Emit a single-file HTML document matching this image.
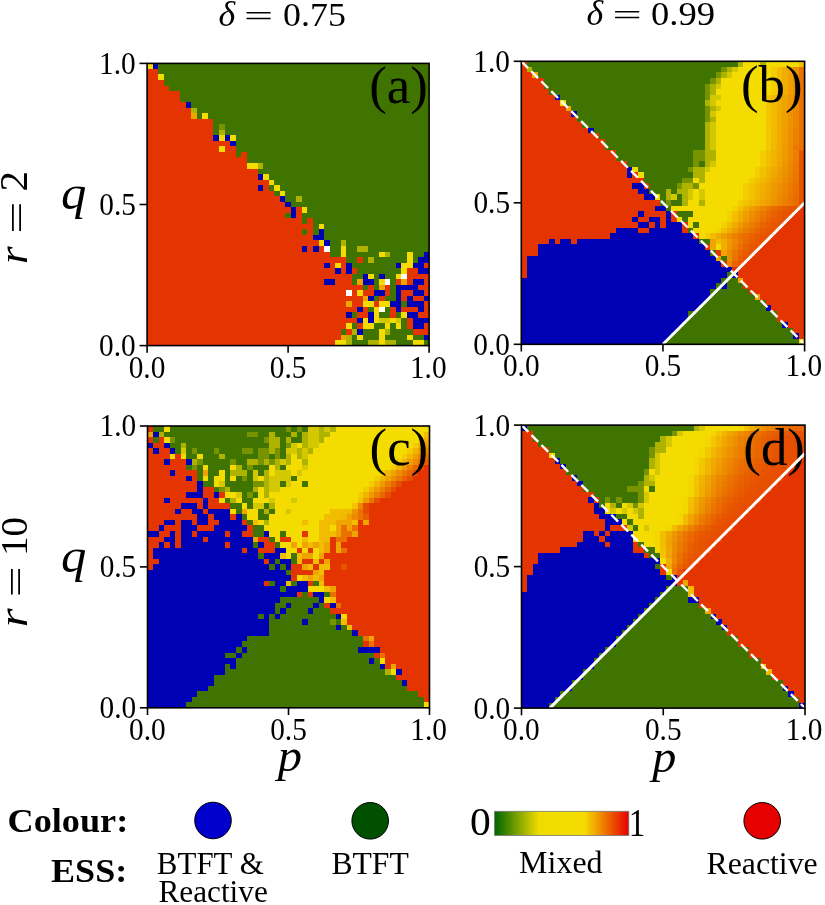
<!DOCTYPE html>
<html><head><meta charset="utf-8"><title>ESS phase diagrams</title>
<style>
html,body{margin:0;padding:0;background:#fff}
svg{display:block}
text{font-family:"Liberation Serif","DejaVu Serif",serif;fill:#000}
</style></head><body>
<svg width="825" height="905" viewBox="0 0 825 905">
<rect width="825" height="905" fill="#fff"/>
<g transform="translate(147.1,63.4)" shape-rendering="crispEdges">
<rect x="0.0" y="0.0" width="5.83" height="5.83" fill="#f5dc00"/>
<rect x="5.53" y="0.0" width="5.83" height="5.83" fill="#0000b4"/>
<rect x="11.06" y="0.0" width="271.24" height="5.83" fill="#407400"/>
<rect x="0.0" y="5.53" width="11.36" height="5.84" fill="#e43400"/>
<rect x="11.06" y="5.53" width="271.24" height="5.84" fill="#407400"/>
<rect x="0.0" y="11.07" width="11.36" height="5.83" fill="#e43400"/>
<rect x="11.06" y="11.07" width="5.83" height="5.83" fill="#f5dc00"/>
<rect x="16.59" y="11.07" width="265.71" height="5.83" fill="#407400"/>
<rect x="0.0" y="16.6" width="16.89" height="5.83" fill="#e43400"/>
<rect x="16.59" y="16.6" width="265.71" height="5.83" fill="#407400"/>
<rect x="0.0" y="22.13" width="22.42" height="5.84" fill="#e43400"/>
<rect x="22.12" y="22.13" width="260.18" height="5.84" fill="#407400"/>
<rect x="0.0" y="27.67" width="33.48" height="5.83" fill="#e43400"/>
<rect x="33.18" y="27.67" width="249.12" height="5.83" fill="#407400"/>
<rect x="0.0" y="33.2" width="33.48" height="5.83" fill="#e43400"/>
<rect x="33.18" y="33.2" width="249.12" height="5.83" fill="#407400"/>
<rect x="0.0" y="38.73" width="39.01" height="5.84" fill="#e43400"/>
<rect x="38.71" y="38.73" width="5.83" height="5.84" fill="#0000b4"/>
<rect x="44.24" y="38.73" width="238.06" height="5.84" fill="#407400"/>
<rect x="0.0" y="44.27" width="44.54" height="5.83" fill="#e43400"/>
<rect x="44.24" y="44.27" width="5.82" height="5.83" fill="#aeb300"/>
<rect x="49.76" y="44.27" width="232.54" height="5.83" fill="#407400"/>
<rect x="0.0" y="49.8" width="44.54" height="5.83" fill="#e43400"/>
<rect x="44.24" y="49.8" width="5.82" height="5.83" fill="#efa400"/>
<rect x="49.76" y="49.8" width="5.83" height="5.83" fill="#407400"/>
<rect x="55.29" y="49.8" width="5.83" height="5.83" fill="#f5dc00"/>
<rect x="60.82" y="49.8" width="221.48" height="5.83" fill="#407400"/>
<rect x="0.0" y="55.33" width="66.65" height="5.84" fill="#e43400"/>
<rect x="66.35" y="55.33" width="215.95" height="5.84" fill="#407400"/>
<rect x="0.0" y="60.87" width="66.65" height="5.83" fill="#e43400"/>
<rect x="66.35" y="60.87" width="5.83" height="5.83" fill="#407400"/>
<rect x="71.88" y="60.87" width="5.83" height="5.83" fill="#779400"/>
<rect x="77.41" y="60.87" width="204.89" height="5.83" fill="#407400"/>
<rect x="0.0" y="66.4" width="66.65" height="5.83" fill="#e43400"/>
<rect x="66.35" y="66.4" width="5.83" height="5.83" fill="#407400"/>
<rect x="71.88" y="66.4" width="5.83" height="5.83" fill="#aeb300"/>
<rect x="77.41" y="66.4" width="204.89" height="5.83" fill="#407400"/>
<rect x="0.0" y="71.93" width="66.65" height="5.84" fill="#e43400"/>
<rect x="66.35" y="71.93" width="5.83" height="5.84" fill="#0000b4"/>
<rect x="71.88" y="71.93" width="5.83" height="5.84" fill="#f5dc00"/>
<rect x="77.41" y="71.93" width="5.83" height="5.84" fill="#0000b4"/>
<rect x="82.94" y="71.93" width="5.83" height="5.84" fill="#f5dc00"/>
<rect x="88.47" y="71.93" width="193.83" height="5.84" fill="#407400"/>
<rect x="0.0" y="77.47" width="83.24" height="5.83" fill="#e43400"/>
<rect x="82.94" y="77.47" width="5.83" height="5.83" fill="#0000b4"/>
<rect x="88.47" y="77.47" width="193.83" height="5.83" fill="#407400"/>
<rect x="0.0" y="83.0" width="72.18" height="5.83" fill="#e43400"/>
<rect x="71.88" y="83.0" width="5.83" height="5.83" fill="#f5dc00"/>
<rect x="77.41" y="83.0" width="11.36" height="5.83" fill="#e43400"/>
<rect x="88.47" y="83.0" width="193.83" height="5.83" fill="#407400"/>
<rect x="0.0" y="88.53" width="88.77" height="5.84" fill="#e43400"/>
<rect x="88.47" y="88.53" width="5.83" height="5.84" fill="#407400"/>
<rect x="94.0" y="88.53" width="5.83" height="5.84" fill="#e43400"/>
<rect x="99.53" y="88.53" width="182.77" height="5.84" fill="#407400"/>
<rect x="0.0" y="94.07" width="99.83" height="5.83" fill="#e43400"/>
<rect x="99.53" y="94.07" width="182.77" height="5.83" fill="#407400"/>
<rect x="0.0" y="99.6" width="99.83" height="5.83" fill="#e43400"/>
<rect x="99.53" y="99.6" width="11.36" height="5.83" fill="#f5dc00"/>
<rect x="110.59" y="99.6" width="5.83" height="5.83" fill="#aeb300"/>
<rect x="116.12" y="99.6" width="166.18" height="5.83" fill="#407400"/>
<rect x="0.0" y="105.13" width="110.89" height="5.84" fill="#e43400"/>
<rect x="110.59" y="105.13" width="171.71" height="5.84" fill="#407400"/>
<rect x="0.0" y="110.67" width="110.89" height="5.83" fill="#e43400"/>
<rect x="110.59" y="110.67" width="5.83" height="5.83" fill="#0000b4"/>
<rect x="116.12" y="110.67" width="5.83" height="5.83" fill="#f5dc00"/>
<rect x="121.65" y="110.67" width="160.65" height="5.83" fill="#407400"/>
<rect x="0.0" y="116.2" width="121.95" height="5.83" fill="#e43400"/>
<rect x="121.65" y="116.2" width="5.83" height="5.83" fill="#f5dc00"/>
<rect x="127.18" y="116.2" width="155.12" height="5.83" fill="#407400"/>
<rect x="0.0" y="121.73" width="110.89" height="5.84" fill="#e43400"/>
<rect x="110.59" y="121.73" width="5.83" height="5.84" fill="#0000b4"/>
<rect x="116.12" y="121.73" width="5.83" height="5.84" fill="#e43400"/>
<rect x="121.65" y="121.73" width="5.83" height="5.84" fill="#407400"/>
<rect x="127.18" y="121.73" width="5.83" height="5.84" fill="#f5dc00"/>
<rect x="132.71" y="121.73" width="149.59" height="5.84" fill="#407400"/>
<rect x="0.0" y="127.27" width="127.48" height="5.83" fill="#e43400"/>
<rect x="127.18" y="127.27" width="5.83" height="5.83" fill="#407400"/>
<rect x="132.71" y="127.27" width="5.83" height="5.83" fill="#f5dc00"/>
<rect x="138.24" y="127.27" width="144.06" height="5.83" fill="#407400"/>
<rect x="0.0" y="132.8" width="133.01" height="5.83" fill="#e43400"/>
<rect x="132.71" y="132.8" width="5.83" height="5.83" fill="#0000b4"/>
<rect x="138.24" y="132.8" width="11.35" height="5.83" fill="#407400"/>
<rect x="149.29" y="132.8" width="5.83" height="5.83" fill="#aeb300"/>
<rect x="154.82" y="132.8" width="127.48" height="5.83" fill="#407400"/>
<rect x="0.0" y="138.33" width="138.54" height="5.84" fill="#e43400"/>
<rect x="138.24" y="138.33" width="5.82" height="5.84" fill="#0000b4"/>
<rect x="143.76" y="138.33" width="138.54" height="5.84" fill="#407400"/>
<rect x="0.0" y="143.87" width="144.06" height="5.83" fill="#e43400"/>
<rect x="143.76" y="143.87" width="5.83" height="5.83" fill="#0000b4"/>
<rect x="149.29" y="143.87" width="5.83" height="5.83" fill="#e43400"/>
<rect x="154.82" y="143.87" width="5.83" height="5.83" fill="#f5dc00"/>
<rect x="160.35" y="143.87" width="121.95" height="5.83" fill="#407400"/>
<rect x="0.0" y="149.4" width="138.54" height="5.83" fill="#e43400"/>
<rect x="138.24" y="149.4" width="5.82" height="5.83" fill="#407400"/>
<rect x="143.76" y="149.4" width="5.83" height="5.83" fill="#0000b4"/>
<rect x="149.29" y="149.4" width="5.83" height="5.83" fill="#e43400"/>
<rect x="154.82" y="149.4" width="127.48" height="5.83" fill="#407400"/>
<rect x="0.0" y="154.93" width="155.12" height="5.84" fill="#e43400"/>
<rect x="154.82" y="154.93" width="5.83" height="5.84" fill="#407400"/>
<rect x="160.35" y="154.93" width="5.83" height="5.84" fill="#e43400"/>
<rect x="165.88" y="154.93" width="116.42" height="5.84" fill="#407400"/>
<rect x="0.0" y="160.47" width="166.18" height="5.83" fill="#e43400"/>
<rect x="165.88" y="160.47" width="5.83" height="5.83" fill="#407400"/>
<rect x="171.41" y="160.47" width="5.83" height="5.83" fill="#f5dc00"/>
<rect x="176.94" y="160.47" width="105.36" height="5.83" fill="#407400"/>
<rect x="0.0" y="166.0" width="155.12" height="5.83" fill="#e43400"/>
<rect x="154.82" y="166.0" width="5.83" height="5.83" fill="#407400"/>
<rect x="160.35" y="166.0" width="5.83" height="5.83" fill="#e43400"/>
<rect x="165.88" y="166.0" width="5.83" height="5.83" fill="#407400"/>
<rect x="171.41" y="166.0" width="5.83" height="5.83" fill="#0000b4"/>
<rect x="176.94" y="166.0" width="105.36" height="5.83" fill="#407400"/>
<rect x="0.0" y="171.53" width="166.18" height="5.84" fill="#e43400"/>
<rect x="165.88" y="171.53" width="11.36" height="5.84" fill="#0000b4"/>
<rect x="176.94" y="171.53" width="105.36" height="5.84" fill="#407400"/>
<rect x="0.0" y="177.07" width="171.71" height="5.83" fill="#e43400"/>
<rect x="171.41" y="177.07" width="5.83" height="5.83" fill="#f5dc00"/>
<rect x="176.94" y="177.07" width="5.83" height="5.83" fill="#0000b4"/>
<rect x="182.47" y="177.07" width="11.36" height="5.83" fill="#407400"/>
<rect x="193.53" y="177.07" width="5.83" height="5.83" fill="#aeb300"/>
<rect x="199.06" y="177.07" width="83.24" height="5.83" fill="#407400"/>
<rect x="0.0" y="182.6" width="155.12" height="5.83" fill="#e43400"/>
<rect x="154.82" y="182.6" width="5.83" height="5.83" fill="#0000b4"/>
<rect x="160.35" y="182.6" width="5.83" height="5.83" fill="#e43400"/>
<rect x="165.88" y="182.6" width="5.83" height="5.83" fill="#0000b4"/>
<rect x="171.41" y="182.6" width="5.83" height="5.83" fill="#e43400"/>
<rect x="176.94" y="182.6" width="5.83" height="5.83" fill="#ffffff"/>
<rect x="182.47" y="182.6" width="11.36" height="5.83" fill="#407400"/>
<rect x="193.53" y="182.6" width="5.83" height="5.83" fill="#f5dc00"/>
<rect x="199.06" y="182.6" width="11.36" height="5.83" fill="#407400"/>
<rect x="210.12" y="182.6" width="11.36" height="5.83" fill="#aeb300"/>
<rect x="221.18" y="182.6" width="61.12" height="5.83" fill="#407400"/>
<rect x="0.0" y="188.13" width="182.77" height="5.84" fill="#e43400"/>
<rect x="182.47" y="188.13" width="11.36" height="5.84" fill="#407400"/>
<rect x="193.53" y="188.13" width="5.83" height="5.84" fill="#f5dc00"/>
<rect x="199.06" y="188.13" width="33.48" height="5.84" fill="#407400"/>
<rect x="232.24" y="188.13" width="5.82" height="5.84" fill="#f5dc00"/>
<rect x="237.76" y="188.13" width="5.83" height="5.84" fill="#aeb300"/>
<rect x="243.29" y="188.13" width="16.89" height="5.84" fill="#407400"/>
<rect x="259.88" y="188.13" width="5.83" height="5.84" fill="#f5dc00"/>
<rect x="265.41" y="188.13" width="11.36" height="5.84" fill="#407400"/>
<rect x="276.47" y="188.13" width="5.83" height="5.84" fill="#0000b4"/>
<rect x="0.0" y="193.67" width="199.36" height="5.83" fill="#e43400"/>
<rect x="199.06" y="193.67" width="11.36" height="5.83" fill="#407400"/>
<rect x="210.12" y="193.67" width="5.83" height="5.83" fill="#e43400"/>
<rect x="215.65" y="193.67" width="5.83" height="5.83" fill="#407400"/>
<rect x="221.18" y="193.67" width="5.83" height="5.83" fill="#aeb300"/>
<rect x="226.71" y="193.67" width="33.47" height="5.83" fill="#407400"/>
<rect x="259.88" y="193.67" width="5.83" height="5.83" fill="#f5dc00"/>
<rect x="265.41" y="193.67" width="5.83" height="5.83" fill="#407400"/>
<rect x="270.94" y="193.67" width="11.36" height="5.83" fill="#0000b4"/>
<rect x="0.0" y="199.2" width="177.24" height="5.83" fill="#e43400"/>
<rect x="176.94" y="199.2" width="5.83" height="5.83" fill="#0000b4"/>
<rect x="182.47" y="199.2" width="5.83" height="5.83" fill="#e43400"/>
<rect x="188.0" y="199.2" width="5.83" height="5.83" fill="#f5dc00"/>
<rect x="193.53" y="199.2" width="5.83" height="5.83" fill="#e43400"/>
<rect x="199.06" y="199.2" width="5.83" height="5.83" fill="#0000b4"/>
<rect x="204.59" y="199.2" width="44.53" height="5.83" fill="#407400"/>
<rect x="248.82" y="199.2" width="5.83" height="5.83" fill="#0000b4"/>
<rect x="254.35" y="199.2" width="11.36" height="5.83" fill="#f5dc00"/>
<rect x="265.41" y="199.2" width="11.36" height="5.83" fill="#0000b4"/>
<rect x="276.47" y="199.2" width="5.83" height="5.83" fill="#e43400"/>
<rect x="0.0" y="204.73" width="188.3" height="5.84" fill="#e43400"/>
<rect x="188.0" y="204.73" width="5.83" height="5.84" fill="#0000b4"/>
<rect x="193.53" y="204.73" width="5.83" height="5.84" fill="#e43400"/>
<rect x="199.06" y="204.73" width="5.83" height="5.84" fill="#0000b4"/>
<rect x="204.59" y="204.73" width="5.83" height="5.84" fill="#e43400"/>
<rect x="210.12" y="204.73" width="44.53" height="5.84" fill="#407400"/>
<rect x="254.35" y="204.73" width="5.83" height="5.84" fill="#f5dc00"/>
<rect x="259.88" y="204.73" width="11.36" height="5.84" fill="#e43400"/>
<rect x="270.94" y="204.73" width="11.36" height="5.84" fill="#0000b4"/>
<rect x="0.0" y="210.27" width="204.89" height="5.83" fill="#e43400"/>
<rect x="204.59" y="210.27" width="11.36" height="5.83" fill="#407400"/>
<rect x="215.65" y="210.27" width="5.83" height="5.83" fill="#0000b4"/>
<rect x="221.18" y="210.27" width="5.83" height="5.83" fill="#f5dc00"/>
<rect x="226.71" y="210.27" width="5.83" height="5.83" fill="#407400"/>
<rect x="232.24" y="210.27" width="5.82" height="5.83" fill="#0000b4"/>
<rect x="237.76" y="210.27" width="11.36" height="5.83" fill="#407400"/>
<rect x="248.82" y="210.27" width="5.83" height="5.83" fill="#f5dc00"/>
<rect x="254.35" y="210.27" width="5.83" height="5.83" fill="#ffffff"/>
<rect x="259.88" y="210.27" width="22.42" height="5.83" fill="#e43400"/>
<rect x="0.0" y="215.8" width="177.24" height="5.83" fill="#e43400"/>
<rect x="176.94" y="215.8" width="11.36" height="5.83" fill="#0000b4"/>
<rect x="188.0" y="215.8" width="16.89" height="5.83" fill="#e43400"/>
<rect x="204.59" y="215.8" width="5.83" height="5.83" fill="#407400"/>
<rect x="210.12" y="215.8" width="5.83" height="5.83" fill="#efa400"/>
<rect x="215.65" y="215.8" width="11.36" height="5.83" fill="#0000b4"/>
<rect x="226.71" y="215.8" width="5.83" height="5.83" fill="#407400"/>
<rect x="232.24" y="215.8" width="5.82" height="5.83" fill="#f5dc00"/>
<rect x="237.76" y="215.8" width="5.83" height="5.83" fill="#ffffff"/>
<rect x="243.29" y="215.8" width="5.83" height="5.83" fill="#407400"/>
<rect x="248.82" y="215.8" width="5.83" height="5.83" fill="#e43400"/>
<rect x="254.35" y="215.8" width="5.83" height="5.83" fill="#efa400"/>
<rect x="259.88" y="215.8" width="5.83" height="5.83" fill="#e43400"/>
<rect x="265.41" y="215.8" width="11.36" height="5.83" fill="#0000b4"/>
<rect x="276.47" y="215.8" width="5.83" height="5.83" fill="#e43400"/>
<rect x="0.0" y="221.33" width="215.95" height="5.84" fill="#e43400"/>
<rect x="215.65" y="221.33" width="5.83" height="5.84" fill="#407400"/>
<rect x="221.18" y="221.33" width="5.83" height="5.84" fill="#e43400"/>
<rect x="226.71" y="221.33" width="5.83" height="5.84" fill="#407400"/>
<rect x="232.24" y="221.33" width="5.82" height="5.84" fill="#efa400"/>
<rect x="237.76" y="221.33" width="5.83" height="5.84" fill="#e43400"/>
<rect x="243.29" y="221.33" width="5.83" height="5.84" fill="#407400"/>
<rect x="248.82" y="221.33" width="22.42" height="5.84" fill="#0000b4"/>
<rect x="270.94" y="221.33" width="11.36" height="5.84" fill="#e43400"/>
<rect x="0.0" y="226.87" width="199.36" height="5.83" fill="#e43400"/>
<rect x="199.06" y="226.87" width="5.83" height="5.83" fill="#ffffff"/>
<rect x="204.59" y="226.87" width="5.83" height="5.83" fill="#e43400"/>
<rect x="210.12" y="226.87" width="5.83" height="5.83" fill="#f5dc00"/>
<rect x="215.65" y="226.87" width="11.36" height="5.83" fill="#e43400"/>
<rect x="226.71" y="226.87" width="11.35" height="5.83" fill="#0000b4"/>
<rect x="237.76" y="226.87" width="5.83" height="5.83" fill="#e43400"/>
<rect x="243.29" y="226.87" width="5.83" height="5.83" fill="#407400"/>
<rect x="248.82" y="226.87" width="5.83" height="5.83" fill="#0000b4"/>
<rect x="254.35" y="226.87" width="11.36" height="5.83" fill="#e43400"/>
<rect x="265.41" y="226.87" width="11.36" height="5.83" fill="#0000b4"/>
<rect x="276.47" y="226.87" width="5.83" height="5.83" fill="#e43400"/>
<rect x="0.0" y="232.4" width="215.95" height="5.83" fill="#e43400"/>
<rect x="215.65" y="232.4" width="5.83" height="5.83" fill="#efa400"/>
<rect x="221.18" y="232.4" width="5.83" height="5.83" fill="#0000b4"/>
<rect x="226.71" y="232.4" width="5.83" height="5.83" fill="#407400"/>
<rect x="232.24" y="232.4" width="5.82" height="5.83" fill="#e43400"/>
<rect x="237.76" y="232.4" width="11.36" height="5.83" fill="#407400"/>
<rect x="248.82" y="232.4" width="5.83" height="5.83" fill="#0000b4"/>
<rect x="254.35" y="232.4" width="5.83" height="5.83" fill="#e43400"/>
<rect x="259.88" y="232.4" width="5.83" height="5.83" fill="#0000b4"/>
<rect x="265.41" y="232.4" width="11.36" height="5.83" fill="#e43400"/>
<rect x="276.47" y="232.4" width="5.83" height="5.83" fill="#0000b4"/>
<rect x="0.0" y="237.93" width="199.36" height="5.84" fill="#e43400"/>
<rect x="199.06" y="237.93" width="5.83" height="5.84" fill="#efa400"/>
<rect x="204.59" y="237.93" width="11.36" height="5.84" fill="#e43400"/>
<rect x="215.65" y="237.93" width="11.36" height="5.84" fill="#f5dc00"/>
<rect x="226.71" y="237.93" width="5.83" height="5.84" fill="#e43400"/>
<rect x="232.24" y="237.93" width="11.35" height="5.84" fill="#f5dc00"/>
<rect x="243.29" y="237.93" width="11.36" height="5.84" fill="#0000b4"/>
<rect x="254.35" y="237.93" width="5.83" height="5.84" fill="#407400"/>
<rect x="259.88" y="237.93" width="16.89" height="5.84" fill="#0000b4"/>
<rect x="276.47" y="237.93" width="5.83" height="5.84" fill="#e43400"/>
<rect x="0.0" y="243.47" width="210.42" height="5.83" fill="#e43400"/>
<rect x="210.12" y="243.47" width="5.83" height="5.83" fill="#0000b4"/>
<rect x="215.65" y="243.47" width="5.83" height="5.83" fill="#e43400"/>
<rect x="221.18" y="243.47" width="5.83" height="5.83" fill="#407400"/>
<rect x="226.71" y="243.47" width="5.83" height="5.83" fill="#f5dc00"/>
<rect x="232.24" y="243.47" width="5.82" height="5.83" fill="#ffffff"/>
<rect x="237.76" y="243.47" width="5.83" height="5.83" fill="#407400"/>
<rect x="243.29" y="243.47" width="5.83" height="5.83" fill="#e43400"/>
<rect x="248.82" y="243.47" width="5.83" height="5.83" fill="#0000b4"/>
<rect x="254.35" y="243.47" width="16.89" height="5.83" fill="#e43400"/>
<rect x="270.94" y="243.47" width="5.83" height="5.83" fill="#0000b4"/>
<rect x="276.47" y="243.47" width="5.83" height="5.83" fill="#e43400"/>
<rect x="0.0" y="249.0" width="199.36" height="5.83" fill="#e43400"/>
<rect x="199.06" y="249.0" width="5.83" height="5.83" fill="#0000b4"/>
<rect x="204.59" y="249.0" width="5.83" height="5.83" fill="#407400"/>
<rect x="210.12" y="249.0" width="11.36" height="5.83" fill="#e43400"/>
<rect x="221.18" y="249.0" width="5.83" height="5.83" fill="#0000b4"/>
<rect x="226.71" y="249.0" width="5.83" height="5.83" fill="#f5dc00"/>
<rect x="232.24" y="249.0" width="11.35" height="5.83" fill="#407400"/>
<rect x="243.29" y="249.0" width="5.83" height="5.83" fill="#e43400"/>
<rect x="248.82" y="249.0" width="5.83" height="5.83" fill="#407400"/>
<rect x="254.35" y="249.0" width="5.83" height="5.83" fill="#f5dc00"/>
<rect x="259.88" y="249.0" width="11.36" height="5.83" fill="#0000b4"/>
<rect x="270.94" y="249.0" width="11.36" height="5.83" fill="#e43400"/>
<rect x="0.0" y="254.53" width="210.42" height="5.84" fill="#e43400"/>
<rect x="210.12" y="254.53" width="5.83" height="5.84" fill="#0000b4"/>
<rect x="215.65" y="254.53" width="5.83" height="5.84" fill="#f5dc00"/>
<rect x="221.18" y="254.53" width="5.83" height="5.84" fill="#0000b4"/>
<rect x="226.71" y="254.53" width="5.83" height="5.84" fill="#f5dc00"/>
<rect x="232.24" y="254.53" width="11.35" height="5.84" fill="#d4c900"/>
<rect x="243.29" y="254.53" width="5.83" height="5.84" fill="#f5dc00"/>
<rect x="248.82" y="254.53" width="5.83" height="5.84" fill="#d4c900"/>
<rect x="254.35" y="254.53" width="5.83" height="5.84" fill="#407400"/>
<rect x="259.88" y="254.53" width="5.83" height="5.84" fill="#e43400"/>
<rect x="265.41" y="254.53" width="16.89" height="5.84" fill="#0000b4"/>
<rect x="0.0" y="260.07" width="199.36" height="5.83" fill="#e43400"/>
<rect x="199.06" y="260.07" width="5.83" height="5.83" fill="#f5dc00"/>
<rect x="204.59" y="260.07" width="5.83" height="5.83" fill="#407400"/>
<rect x="210.12" y="260.07" width="5.83" height="5.83" fill="#e43400"/>
<rect x="215.65" y="260.07" width="11.36" height="5.83" fill="#f5dc00"/>
<rect x="226.71" y="260.07" width="11.35" height="5.83" fill="#407400"/>
<rect x="237.76" y="260.07" width="5.83" height="5.83" fill="#f5dc00"/>
<rect x="243.29" y="260.07" width="5.83" height="5.83" fill="#407400"/>
<rect x="248.82" y="260.07" width="5.83" height="5.83" fill="#f5dc00"/>
<rect x="254.35" y="260.07" width="5.83" height="5.83" fill="#407400"/>
<rect x="259.88" y="260.07" width="5.83" height="5.83" fill="#e43400"/>
<rect x="265.41" y="260.07" width="11.36" height="5.83" fill="#0000b4"/>
<rect x="276.47" y="260.07" width="5.83" height="5.83" fill="#e43400"/>
<rect x="0.0" y="265.6" width="193.83" height="5.83" fill="#e43400"/>
<rect x="193.53" y="265.6" width="5.83" height="5.83" fill="#407400"/>
<rect x="199.06" y="265.6" width="5.83" height="5.83" fill="#e43400"/>
<rect x="204.59" y="265.6" width="5.83" height="5.83" fill="#aeb300"/>
<rect x="210.12" y="265.6" width="5.83" height="5.83" fill="#0000b4"/>
<rect x="215.65" y="265.6" width="16.89" height="5.83" fill="#407400"/>
<rect x="232.24" y="265.6" width="5.82" height="5.83" fill="#f5dc00"/>
<rect x="237.76" y="265.6" width="5.83" height="5.83" fill="#aeb300"/>
<rect x="243.29" y="265.6" width="22.42" height="5.83" fill="#407400"/>
<rect x="265.41" y="265.6" width="16.89" height="5.83" fill="#e43400"/>
<rect x="0.0" y="271.13" width="193.83" height="5.84" fill="#e43400"/>
<rect x="193.53" y="271.13" width="5.83" height="5.84" fill="#efa400"/>
<rect x="199.06" y="271.13" width="5.83" height="5.84" fill="#aeb300"/>
<rect x="204.59" y="271.13" width="5.83" height="5.84" fill="#407400"/>
<rect x="210.12" y="271.13" width="5.83" height="5.84" fill="#f5dc00"/>
<rect x="215.65" y="271.13" width="16.89" height="5.84" fill="#407400"/>
<rect x="232.24" y="271.13" width="5.82" height="5.84" fill="#f5dc00"/>
<rect x="237.76" y="271.13" width="22.42" height="5.84" fill="#407400"/>
<rect x="259.88" y="271.13" width="5.83" height="5.84" fill="#f5dc00"/>
<rect x="265.41" y="271.13" width="11.36" height="5.84" fill="#407400"/>
<rect x="276.47" y="271.13" width="5.83" height="5.84" fill="#0000b4"/>
<rect x="0.0" y="276.67" width="188.3" height="5.83" fill="#e43400"/>
<rect x="188.0" y="276.67" width="11.36" height="5.83" fill="#f5dc00"/>
<rect x="199.06" y="276.67" width="5.83" height="5.83" fill="#aeb300"/>
<rect x="204.59" y="276.67" width="16.89" height="5.83" fill="#407400"/>
<rect x="221.18" y="276.67" width="11.36" height="5.83" fill="#aeb300"/>
<rect x="232.24" y="276.67" width="5.82" height="5.83" fill="#f5dc00"/>
<rect x="237.76" y="276.67" width="11.36" height="5.83" fill="#aeb300"/>
<rect x="248.82" y="276.67" width="16.89" height="5.83" fill="#407400"/>
<rect x="265.41" y="276.67" width="11.36" height="5.83" fill="#f5dc00"/>
<rect x="276.47" y="276.67" width="5.83" height="5.83" fill="#407400"/>
</g>
<g transform="translate(521.3,61.3)" shape-rendering="crispEdges">
<rect x="0.0" y="0.0" width="5.85" height="5.85" fill="#e43400"/>
<rect x="5.55" y="0.0" width="211.39" height="5.85" fill="#407400"/>
<rect x="216.64" y="0.0" width="5.86" height="5.85" fill="#aeb300"/>
<rect x="222.2" y="0.0" width="16.96" height="5.85" fill="#f5dc00"/>
<rect x="238.86" y="0.0" width="5.86" height="5.85" fill="#aeb300"/>
<rect x="244.42" y="0.0" width="33.63" height="5.85" fill="#f5dc00"/>
<rect x="277.75" y="0.0" width="5.85" height="5.85" fill="#f2bd00"/>
<rect x="0.0" y="5.55" width="5.85" height="5.85" fill="#e43400"/>
<rect x="5.55" y="5.55" width="5.86" height="5.85" fill="#aeb300"/>
<rect x="11.11" y="5.55" width="189.17" height="5.85" fill="#407400"/>
<rect x="199.98" y="5.55" width="5.85" height="5.85" fill="#779400"/>
<rect x="205.53" y="5.55" width="5.86" height="5.85" fill="#aeb300"/>
<rect x="211.09" y="5.55" width="5.85" height="5.85" fill="#d4c900"/>
<rect x="216.64" y="5.55" width="33.63" height="5.85" fill="#f5dc00"/>
<rect x="249.97" y="5.55" width="5.86" height="5.85" fill="#f3cd00"/>
<rect x="255.53" y="5.55" width="5.85" height="5.85" fill="#f2bd00"/>
<rect x="261.08" y="5.55" width="5.86" height="5.85" fill="#f0ae00"/>
<rect x="266.64" y="5.55" width="5.85" height="5.85" fill="#ef9f00"/>
<rect x="272.19" y="5.55" width="5.86" height="5.85" fill="#ed9000"/>
<rect x="277.75" y="5.55" width="5.85" height="5.85" fill="#ea7100"/>
<rect x="0.0" y="11.1" width="11.41" height="5.85" fill="#e43400"/>
<rect x="11.11" y="11.1" width="5.85" height="5.85" fill="#efa400"/>
<rect x="16.66" y="11.1" width="178.06" height="5.85" fill="#407400"/>
<rect x="194.42" y="11.1" width="5.86" height="5.85" fill="#779400"/>
<rect x="199.98" y="11.1" width="5.85" height="5.85" fill="#aeb300"/>
<rect x="205.53" y="11.1" width="5.86" height="5.85" fill="#d4c900"/>
<rect x="211.09" y="11.1" width="39.18" height="5.85" fill="#f5dc00"/>
<rect x="249.97" y="11.1" width="5.86" height="5.85" fill="#f3cd00"/>
<rect x="255.53" y="11.1" width="5.85" height="5.85" fill="#f2bd00"/>
<rect x="261.08" y="11.1" width="5.86" height="5.85" fill="#f0ae00"/>
<rect x="266.64" y="11.1" width="5.85" height="5.85" fill="#ef9f00"/>
<rect x="272.19" y="11.1" width="5.86" height="5.85" fill="#ed9000"/>
<rect x="277.75" y="11.1" width="5.85" height="5.85" fill="#ea7100"/>
<rect x="0.0" y="16.65" width="22.52" height="5.85" fill="#e43400"/>
<rect x="22.22" y="16.65" width="166.95" height="5.85" fill="#407400"/>
<rect x="188.87" y="16.65" width="5.85" height="5.85" fill="#779400"/>
<rect x="194.42" y="16.65" width="5.86" height="5.85" fill="#aeb300"/>
<rect x="199.98" y="16.65" width="50.29" height="5.85" fill="#f5dc00"/>
<rect x="249.97" y="16.65" width="5.86" height="5.85" fill="#f3cd00"/>
<rect x="255.53" y="16.65" width="5.85" height="5.85" fill="#f2bd00"/>
<rect x="261.08" y="16.65" width="5.86" height="5.85" fill="#f0ae00"/>
<rect x="266.64" y="16.65" width="5.85" height="5.85" fill="#ef9f00"/>
<rect x="272.19" y="16.65" width="5.86" height="5.85" fill="#ed9000"/>
<rect x="277.75" y="16.65" width="5.85" height="5.85" fill="#ea7100"/>
<rect x="0.0" y="22.2" width="22.52" height="5.85" fill="#e43400"/>
<rect x="22.22" y="22.2" width="161.39" height="5.85" fill="#407400"/>
<rect x="183.31" y="22.2" width="5.86" height="5.85" fill="#779400"/>
<rect x="188.87" y="22.2" width="5.85" height="5.85" fill="#aeb300"/>
<rect x="194.42" y="22.2" width="5.86" height="5.85" fill="#d4c900"/>
<rect x="199.98" y="22.2" width="50.29" height="5.85" fill="#f5dc00"/>
<rect x="249.97" y="22.2" width="5.86" height="5.85" fill="#f3cd00"/>
<rect x="255.53" y="22.2" width="5.85" height="5.85" fill="#f2bd00"/>
<rect x="261.08" y="22.2" width="5.86" height="5.85" fill="#f0ae00"/>
<rect x="266.64" y="22.2" width="5.85" height="5.85" fill="#ef9f00"/>
<rect x="272.19" y="22.2" width="5.86" height="5.85" fill="#ed9000"/>
<rect x="277.75" y="22.2" width="5.85" height="5.85" fill="#ea7100"/>
<rect x="0.0" y="27.75" width="28.07" height="5.84" fill="#e43400"/>
<rect x="27.77" y="27.75" width="155.84" height="5.84" fill="#407400"/>
<rect x="183.31" y="27.75" width="5.86" height="5.84" fill="#779400"/>
<rect x="188.87" y="27.75" width="5.85" height="5.84" fill="#aeb300"/>
<rect x="194.42" y="27.75" width="55.85" height="5.84" fill="#f5dc00"/>
<rect x="249.97" y="27.75" width="5.86" height="5.84" fill="#f3cd00"/>
<rect x="255.53" y="27.75" width="5.85" height="5.84" fill="#f2bd00"/>
<rect x="261.08" y="27.75" width="5.86" height="5.84" fill="#f0ae00"/>
<rect x="266.64" y="27.75" width="5.85" height="5.84" fill="#ef9f00"/>
<rect x="272.19" y="27.75" width="5.86" height="5.84" fill="#ed9000"/>
<rect x="277.75" y="27.75" width="5.85" height="5.84" fill="#ea7100"/>
<rect x="0.0" y="33.29" width="33.63" height="5.85" fill="#e43400"/>
<rect x="33.33" y="33.29" width="5.85" height="5.85" fill="#0000b4"/>
<rect x="38.88" y="33.29" width="144.73" height="5.85" fill="#407400"/>
<rect x="183.31" y="33.29" width="5.86" height="5.85" fill="#779400"/>
<rect x="188.87" y="33.29" width="11.41" height="5.85" fill="#d4c900"/>
<rect x="199.98" y="33.29" width="44.74" height="5.85" fill="#f5dc00"/>
<rect x="244.42" y="33.29" width="5.85" height="5.85" fill="#f3c800"/>
<rect x="249.97" y="33.29" width="5.86" height="5.85" fill="#f2bb00"/>
<rect x="255.53" y="33.29" width="5.85" height="5.85" fill="#f0af00"/>
<rect x="261.08" y="33.29" width="5.86" height="5.85" fill="#efa300"/>
<rect x="266.64" y="33.29" width="5.85" height="5.85" fill="#ee9700"/>
<rect x="272.19" y="33.29" width="5.86" height="5.85" fill="#ed8b00"/>
<rect x="277.75" y="33.29" width="5.85" height="5.85" fill="#ea7100"/>
<rect x="0.0" y="38.84" width="39.18" height="5.85" fill="#e43400"/>
<rect x="38.88" y="38.84" width="5.86" height="5.85" fill="#f5dc00"/>
<rect x="44.44" y="38.84" width="139.17" height="5.85" fill="#407400"/>
<rect x="183.31" y="38.84" width="5.86" height="5.85" fill="#aeb300"/>
<rect x="188.87" y="38.84" width="5.85" height="5.85" fill="#d4c900"/>
<rect x="194.42" y="38.84" width="50.3" height="5.85" fill="#f5dc00"/>
<rect x="244.42" y="38.84" width="5.85" height="5.85" fill="#f3c800"/>
<rect x="249.97" y="38.84" width="5.86" height="5.85" fill="#f2bb00"/>
<rect x="255.53" y="38.84" width="5.85" height="5.85" fill="#f0af00"/>
<rect x="261.08" y="38.84" width="5.86" height="5.85" fill="#efa300"/>
<rect x="266.64" y="38.84" width="5.85" height="5.85" fill="#ee9700"/>
<rect x="272.19" y="38.84" width="5.86" height="5.85" fill="#ed8b00"/>
<rect x="277.75" y="38.84" width="5.85" height="5.85" fill="#ea7100"/>
<rect x="0.0" y="44.39" width="44.74" height="5.85" fill="#e43400"/>
<rect x="44.44" y="44.39" width="5.85" height="5.85" fill="#efa400"/>
<rect x="49.99" y="44.39" width="133.62" height="5.85" fill="#407400"/>
<rect x="183.31" y="44.39" width="5.86" height="5.85" fill="#779400"/>
<rect x="188.87" y="44.39" width="5.85" height="5.85" fill="#aeb300"/>
<rect x="194.42" y="44.39" width="5.86" height="5.85" fill="#d4c900"/>
<rect x="199.98" y="44.39" width="44.74" height="5.85" fill="#f5dc00"/>
<rect x="244.42" y="44.39" width="5.85" height="5.85" fill="#f3c800"/>
<rect x="249.97" y="44.39" width="5.86" height="5.85" fill="#f2bb00"/>
<rect x="255.53" y="44.39" width="5.85" height="5.85" fill="#f0af00"/>
<rect x="261.08" y="44.39" width="5.86" height="5.85" fill="#efa300"/>
<rect x="266.64" y="44.39" width="5.85" height="5.85" fill="#ee9700"/>
<rect x="272.19" y="44.39" width="5.86" height="5.85" fill="#ed8b00"/>
<rect x="277.75" y="44.39" width="5.85" height="5.85" fill="#ea7100"/>
<rect x="0.0" y="49.94" width="50.29" height="5.85" fill="#e43400"/>
<rect x="49.99" y="49.94" width="5.86" height="5.85" fill="#0000b4"/>
<rect x="55.55" y="49.94" width="128.06" height="5.85" fill="#407400"/>
<rect x="183.31" y="49.94" width="5.86" height="5.85" fill="#779400"/>
<rect x="188.87" y="49.94" width="5.85" height="5.85" fill="#d4c900"/>
<rect x="194.42" y="49.94" width="50.3" height="5.85" fill="#f5dc00"/>
<rect x="244.42" y="49.94" width="5.85" height="5.85" fill="#f3c800"/>
<rect x="249.97" y="49.94" width="5.86" height="5.85" fill="#f2ba00"/>
<rect x="255.53" y="49.94" width="5.85" height="5.85" fill="#f0ad00"/>
<rect x="261.08" y="49.94" width="5.86" height="5.85" fill="#efa000"/>
<rect x="266.64" y="49.94" width="5.85" height="5.85" fill="#ee9300"/>
<rect x="272.19" y="49.94" width="5.86" height="5.85" fill="#ec8500"/>
<rect x="277.75" y="49.94" width="5.85" height="5.85" fill="#ea7100"/>
<rect x="0.0" y="55.49" width="55.85" height="5.85" fill="#e43400"/>
<rect x="55.55" y="55.49" width="128.06" height="5.85" fill="#407400"/>
<rect x="183.31" y="55.49" width="5.86" height="5.85" fill="#779400"/>
<rect x="188.87" y="55.49" width="5.85" height="5.85" fill="#aeb300"/>
<rect x="194.42" y="55.49" width="50.3" height="5.85" fill="#f5dc00"/>
<rect x="244.42" y="55.49" width="5.85" height="5.85" fill="#f3c800"/>
<rect x="249.97" y="55.49" width="5.86" height="5.85" fill="#f2ba00"/>
<rect x="255.53" y="55.49" width="5.85" height="5.85" fill="#f0ad00"/>
<rect x="261.08" y="55.49" width="5.86" height="5.85" fill="#efa000"/>
<rect x="266.64" y="55.49" width="5.85" height="5.85" fill="#ee9300"/>
<rect x="272.19" y="55.49" width="5.86" height="5.85" fill="#ec8500"/>
<rect x="277.75" y="55.49" width="5.85" height="5.85" fill="#ea7100"/>
<rect x="0.0" y="61.04" width="61.4" height="5.85" fill="#e43400"/>
<rect x="61.1" y="61.04" width="122.51" height="5.85" fill="#407400"/>
<rect x="183.31" y="61.04" width="5.86" height="5.85" fill="#aeb300"/>
<rect x="188.87" y="61.04" width="5.85" height="5.85" fill="#d4c900"/>
<rect x="194.42" y="61.04" width="50.3" height="5.85" fill="#f5dc00"/>
<rect x="244.42" y="61.04" width="5.85" height="5.85" fill="#f3c800"/>
<rect x="249.97" y="61.04" width="5.86" height="5.85" fill="#f2ba00"/>
<rect x="255.53" y="61.04" width="5.85" height="5.85" fill="#f0ad00"/>
<rect x="261.08" y="61.04" width="5.86" height="5.85" fill="#efa000"/>
<rect x="266.64" y="61.04" width="5.85" height="5.85" fill="#ee9300"/>
<rect x="272.19" y="61.04" width="5.86" height="5.85" fill="#ec8500"/>
<rect x="277.75" y="61.04" width="5.85" height="5.85" fill="#ea7100"/>
<rect x="0.0" y="66.59" width="66.96" height="5.85" fill="#e43400"/>
<rect x="66.66" y="66.59" width="5.85" height="5.85" fill="#0000b4"/>
<rect x="72.21" y="66.59" width="111.4" height="5.85" fill="#407400"/>
<rect x="183.31" y="66.59" width="5.86" height="5.85" fill="#aeb300"/>
<rect x="188.87" y="66.59" width="5.85" height="5.85" fill="#d4c900"/>
<rect x="194.42" y="66.59" width="50.3" height="5.85" fill="#f5dc00"/>
<rect x="244.42" y="66.59" width="5.85" height="5.85" fill="#f3c800"/>
<rect x="249.97" y="66.59" width="5.86" height="5.85" fill="#f1b900"/>
<rect x="255.53" y="66.59" width="5.85" height="5.85" fill="#f0ab00"/>
<rect x="261.08" y="66.59" width="5.86" height="5.85" fill="#ef9d00"/>
<rect x="266.64" y="66.59" width="5.85" height="5.85" fill="#ed8f00"/>
<rect x="272.19" y="66.59" width="5.86" height="5.85" fill="#ec8000"/>
<rect x="277.75" y="66.59" width="5.85" height="5.85" fill="#ea7100"/>
<rect x="0.0" y="72.14" width="78.07" height="5.85" fill="#e43400"/>
<rect x="77.77" y="72.14" width="105.84" height="5.85" fill="#407400"/>
<rect x="183.31" y="72.14" width="5.86" height="5.85" fill="#aeb300"/>
<rect x="188.87" y="72.14" width="5.85" height="5.85" fill="#d4c900"/>
<rect x="194.42" y="72.14" width="50.3" height="5.85" fill="#f5dc00"/>
<rect x="244.42" y="72.14" width="5.85" height="5.85" fill="#f3c800"/>
<rect x="249.97" y="72.14" width="5.86" height="5.85" fill="#f1b900"/>
<rect x="255.53" y="72.14" width="5.85" height="5.85" fill="#f0ab00"/>
<rect x="261.08" y="72.14" width="5.86" height="5.85" fill="#ef9d00"/>
<rect x="266.64" y="72.14" width="5.85" height="5.85" fill="#ed8f00"/>
<rect x="272.19" y="72.14" width="5.86" height="5.85" fill="#ec8000"/>
<rect x="277.75" y="72.14" width="5.85" height="5.85" fill="#ea7100"/>
<rect x="0.0" y="77.69" width="83.62" height="5.85" fill="#e43400"/>
<rect x="83.32" y="77.69" width="100.29" height="5.85" fill="#407400"/>
<rect x="183.31" y="77.69" width="5.86" height="5.85" fill="#aeb300"/>
<rect x="188.87" y="77.69" width="5.85" height="5.85" fill="#d4c900"/>
<rect x="194.42" y="77.69" width="50.3" height="5.85" fill="#f5dc00"/>
<rect x="244.42" y="77.69" width="5.85" height="5.85" fill="#f3c800"/>
<rect x="249.97" y="77.69" width="5.86" height="5.85" fill="#f1b900"/>
<rect x="255.53" y="77.69" width="5.85" height="5.85" fill="#f0ab00"/>
<rect x="261.08" y="77.69" width="5.86" height="5.85" fill="#ef9d00"/>
<rect x="266.64" y="77.69" width="5.85" height="5.85" fill="#ed8f00"/>
<rect x="272.19" y="77.69" width="5.86" height="5.85" fill="#ec8000"/>
<rect x="277.75" y="77.69" width="5.85" height="5.85" fill="#ea7100"/>
<rect x="0.0" y="83.24" width="83.62" height="5.84" fill="#e43400"/>
<rect x="83.32" y="83.24" width="100.29" height="5.84" fill="#407400"/>
<rect x="183.31" y="83.24" width="5.86" height="5.84" fill="#aeb300"/>
<rect x="188.87" y="83.24" width="5.85" height="5.84" fill="#d4c900"/>
<rect x="194.42" y="83.24" width="50.3" height="5.84" fill="#f5dc00"/>
<rect x="244.42" y="83.24" width="5.85" height="5.84" fill="#f3c800"/>
<rect x="249.97" y="83.24" width="5.86" height="5.84" fill="#f1b800"/>
<rect x="255.53" y="83.24" width="5.85" height="5.84" fill="#f0a900"/>
<rect x="261.08" y="83.24" width="5.86" height="5.84" fill="#ee9a00"/>
<rect x="266.64" y="83.24" width="5.85" height="5.84" fill="#ed8b00"/>
<rect x="272.19" y="83.24" width="5.86" height="5.84" fill="#eb7b00"/>
<rect x="277.75" y="83.24" width="5.85" height="5.84" fill="#ea7100"/>
<rect x="0.0" y="88.78" width="94.73" height="5.85" fill="#e43400"/>
<rect x="94.43" y="88.78" width="78.07" height="5.85" fill="#407400"/>
<rect x="172.2" y="88.78" width="11.41" height="5.85" fill="#779400"/>
<rect x="183.31" y="88.78" width="11.41" height="5.85" fill="#aeb300"/>
<rect x="194.42" y="88.78" width="44.74" height="5.85" fill="#f5dc00"/>
<rect x="238.86" y="88.78" width="5.86" height="5.85" fill="#f3cd00"/>
<rect x="244.42" y="88.78" width="5.85" height="5.85" fill="#f2c000"/>
<rect x="249.97" y="88.78" width="5.86" height="5.85" fill="#f1b300"/>
<rect x="255.53" y="88.78" width="5.85" height="5.85" fill="#f0a700"/>
<rect x="261.08" y="88.78" width="5.86" height="5.85" fill="#ee9a00"/>
<rect x="266.64" y="88.78" width="5.85" height="5.85" fill="#ed8d00"/>
<rect x="272.19" y="88.78" width="5.86" height="5.85" fill="#ec8000"/>
<rect x="277.75" y="88.78" width="5.85" height="5.85" fill="#e75300"/>
<rect x="0.0" y="94.33" width="94.73" height="5.85" fill="#e43400"/>
<rect x="94.43" y="94.33" width="78.07" height="5.85" fill="#407400"/>
<rect x="172.2" y="94.33" width="11.41" height="5.85" fill="#779400"/>
<rect x="183.31" y="94.33" width="11.41" height="5.85" fill="#aeb300"/>
<rect x="194.42" y="94.33" width="44.74" height="5.85" fill="#f5dc00"/>
<rect x="238.86" y="94.33" width="5.86" height="5.85" fill="#f3cd00"/>
<rect x="244.42" y="94.33" width="5.85" height="5.85" fill="#f2c000"/>
<rect x="249.97" y="94.33" width="5.86" height="5.85" fill="#f1b300"/>
<rect x="255.53" y="94.33" width="5.85" height="5.85" fill="#f0a700"/>
<rect x="261.08" y="94.33" width="5.86" height="5.85" fill="#ee9a00"/>
<rect x="266.64" y="94.33" width="5.85" height="5.85" fill="#ed8d00"/>
<rect x="272.19" y="94.33" width="5.86" height="5.85" fill="#ec8000"/>
<rect x="277.75" y="94.33" width="5.85" height="5.85" fill="#e75300"/>
<rect x="0.0" y="99.88" width="105.84" height="5.85" fill="#e43400"/>
<rect x="105.54" y="99.88" width="66.96" height="5.85" fill="#407400"/>
<rect x="172.2" y="99.88" width="5.86" height="5.85" fill="#779400"/>
<rect x="177.76" y="99.88" width="5.85" height="5.85" fill="#407400"/>
<rect x="183.31" y="99.88" width="5.86" height="5.85" fill="#aeb300"/>
<rect x="188.87" y="99.88" width="5.85" height="5.85" fill="#d4c900"/>
<rect x="194.42" y="99.88" width="44.74" height="5.85" fill="#f5dc00"/>
<rect x="238.86" y="99.88" width="5.86" height="5.85" fill="#f3cd00"/>
<rect x="244.42" y="99.88" width="5.85" height="5.85" fill="#f2bf00"/>
<rect x="249.97" y="99.88" width="5.86" height="5.85" fill="#f1b200"/>
<rect x="255.53" y="99.88" width="5.85" height="5.85" fill="#efa400"/>
<rect x="261.08" y="99.88" width="5.86" height="5.85" fill="#ee9600"/>
<rect x="266.64" y="99.88" width="5.85" height="5.85" fill="#ed8900"/>
<rect x="272.19" y="99.88" width="5.86" height="5.85" fill="#eb7b00"/>
<rect x="277.75" y="99.88" width="5.85" height="5.85" fill="#e75300"/>
<rect x="0.0" y="105.43" width="105.84" height="5.85" fill="#e43400"/>
<rect x="105.54" y="105.43" width="5.86" height="5.85" fill="#0000b4"/>
<rect x="111.1" y="105.43" width="5.85" height="5.85" fill="#f5dc00"/>
<rect x="116.65" y="105.43" width="50.3" height="5.85" fill="#407400"/>
<rect x="166.65" y="105.43" width="5.85" height="5.85" fill="#779400"/>
<rect x="172.2" y="105.43" width="11.41" height="5.85" fill="#aeb300"/>
<rect x="183.31" y="105.43" width="5.86" height="5.85" fill="#d4c900"/>
<rect x="188.87" y="105.43" width="44.74" height="5.85" fill="#f5dc00"/>
<rect x="233.31" y="105.43" width="5.85" height="5.85" fill="#f3cd00"/>
<rect x="238.86" y="105.43" width="5.86" height="5.85" fill="#f2c100"/>
<rect x="244.42" y="105.43" width="5.85" height="5.85" fill="#f1b500"/>
<rect x="249.97" y="105.43" width="5.86" height="5.85" fill="#f0aa00"/>
<rect x="255.53" y="105.43" width="5.85" height="5.85" fill="#ef9e00"/>
<rect x="261.08" y="105.43" width="5.86" height="5.85" fill="#ee9300"/>
<rect x="266.64" y="105.43" width="5.85" height="5.85" fill="#ec8700"/>
<rect x="272.19" y="105.43" width="5.86" height="5.85" fill="#eb7b00"/>
<rect x="277.75" y="105.43" width="5.85" height="5.85" fill="#e75300"/>
<rect x="0.0" y="110.98" width="105.84" height="5.85" fill="#e43400"/>
<rect x="105.54" y="110.98" width="5.86" height="5.85" fill="#0000b4"/>
<rect x="111.1" y="110.98" width="5.85" height="5.85" fill="#e43400"/>
<rect x="116.65" y="110.98" width="5.86" height="5.85" fill="#f5dc00"/>
<rect x="122.21" y="110.98" width="50.29" height="5.85" fill="#407400"/>
<rect x="172.2" y="110.98" width="11.41" height="5.85" fill="#aeb300"/>
<rect x="183.31" y="110.98" width="50.3" height="5.85" fill="#f5dc00"/>
<rect x="233.31" y="110.98" width="5.85" height="5.85" fill="#f3cd00"/>
<rect x="238.86" y="110.98" width="5.86" height="5.85" fill="#f2c000"/>
<rect x="244.42" y="110.98" width="5.85" height="5.85" fill="#f1b400"/>
<rect x="249.97" y="110.98" width="5.86" height="5.85" fill="#f0a800"/>
<rect x="255.53" y="110.98" width="5.85" height="5.85" fill="#ee9b00"/>
<rect x="261.08" y="110.98" width="5.86" height="5.85" fill="#ed8f00"/>
<rect x="266.64" y="110.98" width="5.85" height="5.85" fill="#ec8300"/>
<rect x="272.19" y="110.98" width="5.86" height="5.85" fill="#eb7600"/>
<rect x="277.75" y="110.98" width="5.85" height="5.85" fill="#e75300"/>
<rect x="0.0" y="116.53" width="122.51" height="5.85" fill="#e43400"/>
<rect x="122.21" y="116.53" width="39.18" height="5.85" fill="#407400"/>
<rect x="161.09" y="116.53" width="11.41" height="5.85" fill="#779400"/>
<rect x="172.2" y="116.53" width="5.86" height="5.85" fill="#f5dc00"/>
<rect x="177.76" y="116.53" width="5.85" height="5.85" fill="#aeb300"/>
<rect x="183.31" y="116.53" width="44.74" height="5.85" fill="#f5dc00"/>
<rect x="227.75" y="116.53" width="5.86" height="5.85" fill="#f3cd00"/>
<rect x="233.31" y="116.53" width="5.85" height="5.85" fill="#f2c200"/>
<rect x="238.86" y="116.53" width="5.86" height="5.85" fill="#f1b700"/>
<rect x="244.42" y="116.53" width="5.85" height="5.85" fill="#f0ac00"/>
<rect x="249.97" y="116.53" width="5.86" height="5.85" fill="#efa100"/>
<rect x="255.53" y="116.53" width="5.85" height="5.85" fill="#ee9700"/>
<rect x="261.08" y="116.53" width="5.86" height="5.85" fill="#ed8c00"/>
<rect x="266.64" y="116.53" width="5.85" height="5.85" fill="#ec8100"/>
<rect x="272.19" y="116.53" width="5.86" height="5.85" fill="#eb7600"/>
<rect x="277.75" y="116.53" width="5.85" height="5.85" fill="#e75300"/>
<rect x="0.0" y="122.08" width="111.4" height="5.85" fill="#e43400"/>
<rect x="111.1" y="122.08" width="11.41" height="5.85" fill="#0000b4"/>
<rect x="122.21" y="122.08" width="5.85" height="5.85" fill="#e43400"/>
<rect x="127.76" y="122.08" width="28.08" height="5.85" fill="#407400"/>
<rect x="155.54" y="122.08" width="5.85" height="5.85" fill="#779400"/>
<rect x="161.09" y="122.08" width="11.41" height="5.85" fill="#aeb300"/>
<rect x="172.2" y="122.08" width="5.86" height="5.85" fill="#779400"/>
<rect x="177.76" y="122.08" width="44.74" height="5.85" fill="#f5dc00"/>
<rect x="222.2" y="122.08" width="5.85" height="5.85" fill="#f3cd00"/>
<rect x="227.75" y="122.08" width="5.86" height="5.85" fill="#f2c300"/>
<rect x="233.31" y="122.08" width="5.85" height="5.85" fill="#f1b800"/>
<rect x="238.86" y="122.08" width="5.86" height="5.85" fill="#f0ae00"/>
<rect x="244.42" y="122.08" width="5.85" height="5.85" fill="#efa400"/>
<rect x="249.97" y="122.08" width="5.86" height="5.85" fill="#ee9a00"/>
<rect x="255.53" y="122.08" width="5.85" height="5.85" fill="#ed9000"/>
<rect x="261.08" y="122.08" width="5.86" height="5.85" fill="#ec8500"/>
<rect x="266.64" y="122.08" width="5.85" height="5.85" fill="#eb7b00"/>
<rect x="272.19" y="122.08" width="5.86" height="5.85" fill="#ea7100"/>
<rect x="277.75" y="122.08" width="5.85" height="5.85" fill="#e75300"/>
<rect x="0.0" y="127.63" width="116.95" height="5.85" fill="#e43400"/>
<rect x="116.65" y="127.63" width="11.41" height="5.85" fill="#0000b4"/>
<rect x="127.76" y="127.63" width="16.97" height="5.85" fill="#407400"/>
<rect x="144.43" y="127.63" width="5.85" height="5.85" fill="#aeb300"/>
<rect x="149.98" y="127.63" width="5.86" height="5.85" fill="#407400"/>
<rect x="155.54" y="127.63" width="11.41" height="5.85" fill="#aeb300"/>
<rect x="166.65" y="127.63" width="5.85" height="5.85" fill="#d4c900"/>
<rect x="172.2" y="127.63" width="5.86" height="5.85" fill="#f5dc00"/>
<rect x="177.76" y="127.63" width="5.85" height="5.85" fill="#d4c900"/>
<rect x="183.31" y="127.63" width="39.19" height="5.85" fill="#f5dc00"/>
<rect x="222.2" y="127.63" width="5.85" height="5.85" fill="#f3cd00"/>
<rect x="227.75" y="127.63" width="5.86" height="5.85" fill="#f2c300"/>
<rect x="233.31" y="127.63" width="5.85" height="5.85" fill="#f1b800"/>
<rect x="238.86" y="127.63" width="5.86" height="5.85" fill="#f0ae00"/>
<rect x="244.42" y="127.63" width="5.85" height="5.85" fill="#efa400"/>
<rect x="249.97" y="127.63" width="5.86" height="5.85" fill="#ee9a00"/>
<rect x="255.53" y="127.63" width="5.85" height="5.85" fill="#ed9000"/>
<rect x="261.08" y="127.63" width="5.86" height="5.85" fill="#ec8500"/>
<rect x="266.64" y="127.63" width="5.85" height="5.85" fill="#eb7b00"/>
<rect x="272.19" y="127.63" width="5.86" height="5.85" fill="#ea7100"/>
<rect x="277.75" y="127.63" width="5.85" height="5.85" fill="#e75300"/>
<rect x="0.0" y="133.18" width="122.51" height="5.85" fill="#e43400"/>
<rect x="122.21" y="133.18" width="11.41" height="5.85" fill="#0000b4"/>
<rect x="133.32" y="133.18" width="5.85" height="5.85" fill="#f5dc00"/>
<rect x="138.87" y="133.18" width="5.86" height="5.85" fill="#407400"/>
<rect x="144.43" y="133.18" width="5.85" height="5.85" fill="#aeb300"/>
<rect x="149.98" y="133.18" width="5.86" height="5.85" fill="#d4c900"/>
<rect x="155.54" y="133.18" width="5.85" height="5.85" fill="#407400"/>
<rect x="161.09" y="133.18" width="5.86" height="5.85" fill="#aeb300"/>
<rect x="166.65" y="133.18" width="5.85" height="5.85" fill="#d4c900"/>
<rect x="172.2" y="133.18" width="5.86" height="5.85" fill="#f5dc00"/>
<rect x="177.76" y="133.18" width="5.85" height="5.85" fill="#d4c900"/>
<rect x="183.31" y="133.18" width="39.19" height="5.85" fill="#f5dc00"/>
<rect x="222.2" y="133.18" width="5.85" height="5.85" fill="#f3cd00"/>
<rect x="227.75" y="133.18" width="5.86" height="5.85" fill="#f2c200"/>
<rect x="233.31" y="133.18" width="5.85" height="5.85" fill="#f1b700"/>
<rect x="238.86" y="133.18" width="5.86" height="5.85" fill="#f0ac00"/>
<rect x="244.42" y="133.18" width="5.85" height="5.85" fill="#efa200"/>
<rect x="249.97" y="133.18" width="5.86" height="5.85" fill="#ee9700"/>
<rect x="255.53" y="133.18" width="5.85" height="5.85" fill="#ed8c00"/>
<rect x="261.08" y="133.18" width="5.86" height="5.85" fill="#ec8100"/>
<rect x="266.64" y="133.18" width="5.85" height="5.85" fill="#eb7700"/>
<rect x="272.19" y="133.18" width="5.86" height="5.85" fill="#ea6c00"/>
<rect x="277.75" y="133.18" width="5.85" height="5.85" fill="#e75300"/>
<rect x="0.0" y="138.73" width="139.17" height="5.84" fill="#e43400"/>
<rect x="138.87" y="138.73" width="5.86" height="5.84" fill="#407400"/>
<rect x="144.43" y="138.73" width="5.85" height="5.84" fill="#779400"/>
<rect x="149.98" y="138.73" width="11.41" height="5.84" fill="#407400"/>
<rect x="161.09" y="138.73" width="5.86" height="5.84" fill="#aeb300"/>
<rect x="166.65" y="138.73" width="11.41" height="5.84" fill="#f5dc00"/>
<rect x="177.76" y="138.73" width="5.85" height="5.84" fill="#aeb300"/>
<rect x="183.31" y="138.73" width="33.63" height="5.84" fill="#f5dc00"/>
<rect x="216.64" y="138.73" width="5.86" height="5.84" fill="#f3cd00"/>
<rect x="222.2" y="138.73" width="5.85" height="5.84" fill="#f2c300"/>
<rect x="227.75" y="138.73" width="5.86" height="5.84" fill="#f1b900"/>
<rect x="233.31" y="138.73" width="5.85" height="5.84" fill="#f1b000"/>
<rect x="238.86" y="138.73" width="5.86" height="5.84" fill="#f0a600"/>
<rect x="244.42" y="138.73" width="5.85" height="5.84" fill="#ef9c00"/>
<rect x="249.97" y="138.73" width="5.86" height="5.84" fill="#ee9300"/>
<rect x="255.53" y="138.73" width="5.85" height="5.84" fill="#ed8900"/>
<rect x="261.08" y="138.73" width="5.86" height="5.84" fill="#ec7f00"/>
<rect x="266.64" y="138.73" width="5.85" height="5.84" fill="#eb7600"/>
<rect x="272.19" y="138.73" width="5.86" height="5.84" fill="#ea6c00"/>
<rect x="277.75" y="138.73" width="5.85" height="5.84" fill="#e75300"/>
<rect x="0.0" y="144.27" width="133.62" height="5.85" fill="#e43400"/>
<rect x="133.32" y="144.27" width="11.41" height="5.85" fill="#0000b4"/>
<rect x="144.43" y="144.27" width="5.85" height="5.85" fill="#407400"/>
<rect x="149.98" y="144.27" width="61.41" height="5.85" fill="#f5dc00"/>
<rect x="211.09" y="144.27" width="5.85" height="5.85" fill="#f4d200"/>
<rect x="216.64" y="144.27" width="5.86" height="5.85" fill="#f2c000"/>
<rect x="222.2" y="144.27" width="5.85" height="5.85" fill="#f0af00"/>
<rect x="227.75" y="144.27" width="5.86" height="5.85" fill="#ef9f00"/>
<rect x="233.31" y="144.27" width="5.85" height="5.85" fill="#ed9000"/>
<rect x="238.86" y="144.27" width="5.86" height="5.85" fill="#ec8300"/>
<rect x="244.42" y="144.27" width="5.85" height="5.85" fill="#eb7700"/>
<rect x="249.97" y="144.27" width="5.86" height="5.85" fill="#ea6c00"/>
<rect x="255.53" y="144.27" width="5.85" height="5.85" fill="#e96200"/>
<rect x="261.08" y="144.27" width="5.86" height="5.85" fill="#e85b00"/>
<rect x="266.64" y="144.27" width="5.85" height="5.85" fill="#e75500"/>
<rect x="272.19" y="144.27" width="5.86" height="5.85" fill="#e75300"/>
<rect x="277.75" y="144.27" width="5.85" height="5.85" fill="#e43400"/>
<rect x="0.0" y="149.82" width="116.95" height="5.85" fill="#e43400"/>
<rect x="116.65" y="149.82" width="5.86" height="5.85" fill="#0000b4"/>
<rect x="122.21" y="149.82" width="22.52" height="5.85" fill="#e43400"/>
<rect x="144.43" y="149.82" width="5.85" height="5.85" fill="#0000b4"/>
<rect x="149.98" y="149.82" width="5.86" height="5.85" fill="#e43400"/>
<rect x="155.54" y="149.82" width="16.96" height="5.85" fill="#407400"/>
<rect x="172.2" y="149.82" width="33.63" height="5.85" fill="#f5dc00"/>
<rect x="205.53" y="149.82" width="5.86" height="5.85" fill="#f4d200"/>
<rect x="211.09" y="149.82" width="5.85" height="5.85" fill="#f2c000"/>
<rect x="216.64" y="149.82" width="5.86" height="5.85" fill="#f0af00"/>
<rect x="222.2" y="149.82" width="5.85" height="5.85" fill="#ef9f00"/>
<rect x="227.75" y="149.82" width="5.86" height="5.85" fill="#ed9000"/>
<rect x="233.31" y="149.82" width="5.85" height="5.85" fill="#ec8300"/>
<rect x="238.86" y="149.82" width="5.86" height="5.85" fill="#eb7700"/>
<rect x="244.42" y="149.82" width="5.85" height="5.85" fill="#ea6c00"/>
<rect x="249.97" y="149.82" width="5.86" height="5.85" fill="#e96200"/>
<rect x="255.53" y="149.82" width="5.85" height="5.85" fill="#e85b00"/>
<rect x="261.08" y="149.82" width="5.86" height="5.85" fill="#e75500"/>
<rect x="266.64" y="149.82" width="5.85" height="5.85" fill="#e75300"/>
<rect x="272.19" y="149.82" width="11.41" height="5.85" fill="#e43400"/>
<rect x="0.0" y="155.37" width="111.4" height="5.85" fill="#e43400"/>
<rect x="111.1" y="155.37" width="5.85" height="5.85" fill="#0000b4"/>
<rect x="116.65" y="155.37" width="11.41" height="5.85" fill="#e43400"/>
<rect x="127.76" y="155.37" width="11.41" height="5.85" fill="#0000b4"/>
<rect x="138.87" y="155.37" width="5.86" height="5.85" fill="#e43400"/>
<rect x="144.43" y="155.37" width="5.85" height="5.85" fill="#0000b4"/>
<rect x="149.98" y="155.37" width="5.86" height="5.85" fill="#e43400"/>
<rect x="155.54" y="155.37" width="5.85" height="5.85" fill="#f5dc00"/>
<rect x="161.09" y="155.37" width="5.86" height="5.85" fill="#407400"/>
<rect x="166.65" y="155.37" width="39.18" height="5.85" fill="#f5dc00"/>
<rect x="205.53" y="155.37" width="5.86" height="5.85" fill="#f4d200"/>
<rect x="211.09" y="155.37" width="5.85" height="5.85" fill="#f2be00"/>
<rect x="216.64" y="155.37" width="5.86" height="5.85" fill="#f0ac00"/>
<rect x="222.2" y="155.37" width="5.85" height="5.85" fill="#ee9a00"/>
<rect x="227.75" y="155.37" width="5.86" height="5.85" fill="#ed8b00"/>
<rect x="233.31" y="155.37" width="5.85" height="5.85" fill="#eb7d00"/>
<rect x="238.86" y="155.37" width="5.86" height="5.85" fill="#ea7000"/>
<rect x="244.42" y="155.37" width="5.85" height="5.85" fill="#e96500"/>
<rect x="249.97" y="155.37" width="5.86" height="5.85" fill="#e85c00"/>
<rect x="255.53" y="155.37" width="5.85" height="5.85" fill="#e75600"/>
<rect x="261.08" y="155.37" width="5.86" height="5.85" fill="#e75300"/>
<rect x="266.64" y="155.37" width="16.96" height="5.85" fill="#e43400"/>
<rect x="0.0" y="160.92" width="116.95" height="5.85" fill="#e43400"/>
<rect x="116.65" y="160.92" width="11.41" height="5.85" fill="#0000b4"/>
<rect x="127.76" y="160.92" width="5.86" height="5.85" fill="#e43400"/>
<rect x="133.32" y="160.92" width="5.85" height="5.85" fill="#0000b4"/>
<rect x="138.87" y="160.92" width="5.86" height="5.85" fill="#e43400"/>
<rect x="144.43" y="160.92" width="16.96" height="5.85" fill="#0000b4"/>
<rect x="161.09" y="160.92" width="5.86" height="5.85" fill="#e43400"/>
<rect x="166.65" y="160.92" width="5.85" height="5.85" fill="#f5dc00"/>
<rect x="172.2" y="160.92" width="5.86" height="5.85" fill="#407400"/>
<rect x="177.76" y="160.92" width="22.52" height="5.85" fill="#f5dc00"/>
<rect x="199.98" y="160.92" width="5.85" height="5.85" fill="#f4d200"/>
<rect x="205.53" y="160.92" width="5.86" height="5.85" fill="#f2be00"/>
<rect x="211.09" y="160.92" width="5.85" height="5.85" fill="#f0ac00"/>
<rect x="216.64" y="160.92" width="5.86" height="5.85" fill="#ee9a00"/>
<rect x="222.2" y="160.92" width="5.85" height="5.85" fill="#ed8b00"/>
<rect x="227.75" y="160.92" width="5.86" height="5.85" fill="#eb7d00"/>
<rect x="233.31" y="160.92" width="5.85" height="5.85" fill="#ea7000"/>
<rect x="238.86" y="160.92" width="5.86" height="5.85" fill="#e96500"/>
<rect x="244.42" y="160.92" width="5.85" height="5.85" fill="#e85c00"/>
<rect x="249.97" y="160.92" width="5.86" height="5.85" fill="#e75600"/>
<rect x="255.53" y="160.92" width="5.85" height="5.85" fill="#e75300"/>
<rect x="261.08" y="160.92" width="22.52" height="5.85" fill="#e43400"/>
<rect x="0.0" y="166.47" width="94.73" height="5.85" fill="#e43400"/>
<rect x="94.43" y="166.47" width="22.52" height="5.85" fill="#0000b4"/>
<rect x="116.65" y="166.47" width="11.41" height="5.85" fill="#e43400"/>
<rect x="127.76" y="166.47" width="33.63" height="5.85" fill="#0000b4"/>
<rect x="161.09" y="166.47" width="5.86" height="5.85" fill="#e43400"/>
<rect x="166.65" y="166.47" width="5.85" height="5.85" fill="#407400"/>
<rect x="172.2" y="166.47" width="22.52" height="5.85" fill="#f5dc00"/>
<rect x="194.42" y="166.47" width="5.86" height="5.85" fill="#f4d200"/>
<rect x="199.98" y="166.47" width="5.85" height="5.85" fill="#f2be00"/>
<rect x="205.53" y="166.47" width="5.86" height="5.85" fill="#f0ac00"/>
<rect x="211.09" y="166.47" width="5.85" height="5.85" fill="#ee9a00"/>
<rect x="216.64" y="166.47" width="5.86" height="5.85" fill="#ed8b00"/>
<rect x="222.2" y="166.47" width="5.85" height="5.85" fill="#eb7d00"/>
<rect x="227.75" y="166.47" width="5.86" height="5.85" fill="#ea7000"/>
<rect x="233.31" y="166.47" width="5.85" height="5.85" fill="#e96500"/>
<rect x="238.86" y="166.47" width="5.86" height="5.85" fill="#e85c00"/>
<rect x="244.42" y="166.47" width="5.85" height="5.85" fill="#e75600"/>
<rect x="249.97" y="166.47" width="5.86" height="5.85" fill="#e75300"/>
<rect x="255.53" y="166.47" width="28.07" height="5.85" fill="#e43400"/>
<rect x="0.0" y="172.02" width="89.18" height="5.85" fill="#e43400"/>
<rect x="88.88" y="172.02" width="83.62" height="5.85" fill="#0000b4"/>
<rect x="172.2" y="172.02" width="5.86" height="5.85" fill="#e43400"/>
<rect x="177.76" y="172.02" width="5.85" height="5.85" fill="#f5dc00"/>
<rect x="183.31" y="172.02" width="5.86" height="5.85" fill="#f3cd00"/>
<rect x="188.87" y="172.02" width="5.85" height="5.85" fill="#f2bb00"/>
<rect x="194.42" y="172.02" width="5.86" height="5.85" fill="#f0ab00"/>
<rect x="199.98" y="172.02" width="5.85" height="5.85" fill="#ef9c00"/>
<rect x="205.53" y="172.02" width="5.86" height="5.85" fill="#ed8e00"/>
<rect x="211.09" y="172.02" width="5.85" height="5.85" fill="#ec8100"/>
<rect x="216.64" y="172.02" width="5.86" height="5.85" fill="#eb7500"/>
<rect x="222.2" y="172.02" width="5.85" height="5.85" fill="#ea6b00"/>
<rect x="227.75" y="172.02" width="5.86" height="5.85" fill="#e96200"/>
<rect x="233.31" y="172.02" width="5.85" height="5.85" fill="#e85b00"/>
<rect x="238.86" y="172.02" width="5.86" height="5.85" fill="#e75500"/>
<rect x="244.42" y="172.02" width="5.85" height="5.85" fill="#e75300"/>
<rect x="249.97" y="172.02" width="33.63" height="5.85" fill="#e43400"/>
<rect x="0.0" y="177.57" width="28.07" height="5.85" fill="#e43400"/>
<rect x="27.77" y="177.57" width="5.86" height="5.85" fill="#0000b4"/>
<rect x="33.33" y="177.57" width="5.85" height="5.85" fill="#e43400"/>
<rect x="38.88" y="177.57" width="11.41" height="5.85" fill="#0000b4"/>
<rect x="49.99" y="177.57" width="5.86" height="5.85" fill="#e43400"/>
<rect x="55.55" y="177.57" width="122.51" height="5.85" fill="#0000b4"/>
<rect x="177.76" y="177.57" width="11.41" height="5.85" fill="#407400"/>
<rect x="188.87" y="177.57" width="5.85" height="5.85" fill="#efa400"/>
<rect x="194.42" y="177.57" width="5.86" height="5.85" fill="#f2bd00"/>
<rect x="199.98" y="177.57" width="5.85" height="5.85" fill="#f0ae00"/>
<rect x="205.53" y="177.57" width="5.86" height="5.85" fill="#ee9a00"/>
<rect x="211.09" y="177.57" width="5.85" height="5.85" fill="#ed8800"/>
<rect x="216.64" y="177.57" width="5.86" height="5.85" fill="#eb7800"/>
<rect x="222.2" y="177.57" width="5.85" height="5.85" fill="#e96a00"/>
<rect x="227.75" y="177.57" width="5.86" height="5.85" fill="#e85f00"/>
<rect x="233.31" y="177.57" width="5.85" height="5.85" fill="#e85700"/>
<rect x="238.86" y="177.57" width="5.86" height="5.85" fill="#e75300"/>
<rect x="244.42" y="177.57" width="39.18" height="5.85" fill="#e43400"/>
<rect x="0.0" y="183.12" width="16.96" height="5.85" fill="#e43400"/>
<rect x="16.66" y="183.12" width="166.95" height="5.85" fill="#0000b4"/>
<rect x="183.31" y="183.12" width="5.86" height="5.85" fill="#e43400"/>
<rect x="188.87" y="183.12" width="5.85" height="5.85" fill="#efa400"/>
<rect x="194.42" y="183.12" width="5.86" height="5.85" fill="#f5dc00"/>
<rect x="199.98" y="183.12" width="5.85" height="5.85" fill="#f0ae00"/>
<rect x="205.53" y="183.12" width="5.86" height="5.85" fill="#ee9700"/>
<rect x="211.09" y="183.12" width="5.85" height="5.85" fill="#ec8200"/>
<rect x="216.64" y="183.12" width="5.86" height="5.85" fill="#ea7100"/>
<rect x="222.2" y="183.12" width="5.85" height="5.85" fill="#e96200"/>
<rect x="227.75" y="183.12" width="5.86" height="5.85" fill="#e85800"/>
<rect x="233.31" y="183.12" width="5.85" height="5.85" fill="#e75300"/>
<rect x="238.86" y="183.12" width="44.74" height="5.85" fill="#e43400"/>
<rect x="0.0" y="188.67" width="16.96" height="5.85" fill="#e43400"/>
<rect x="16.66" y="188.67" width="172.51" height="5.85" fill="#0000b4"/>
<rect x="188.87" y="188.67" width="5.85" height="5.85" fill="#407400"/>
<rect x="194.42" y="188.67" width="5.86" height="5.85" fill="#e43400"/>
<rect x="199.98" y="188.67" width="5.85" height="5.85" fill="#efa400"/>
<rect x="205.53" y="188.67" width="5.86" height="5.85" fill="#ed8c00"/>
<rect x="211.09" y="188.67" width="5.85" height="5.85" fill="#eb7700"/>
<rect x="216.64" y="188.67" width="5.86" height="5.85" fill="#e96500"/>
<rect x="222.2" y="188.67" width="5.85" height="5.85" fill="#e85900"/>
<rect x="227.75" y="188.67" width="5.86" height="5.85" fill="#e75300"/>
<rect x="233.31" y="188.67" width="50.29" height="5.85" fill="#e43400"/>
<rect x="0.0" y="194.22" width="5.85" height="5.84" fill="#e43400"/>
<rect x="5.55" y="194.22" width="189.17" height="5.84" fill="#0000b4"/>
<rect x="194.42" y="194.22" width="5.86" height="5.84" fill="#efa400"/>
<rect x="199.98" y="194.22" width="5.85" height="5.84" fill="#407400"/>
<rect x="205.53" y="194.22" width="5.86" height="5.84" fill="#ed9000"/>
<rect x="211.09" y="194.22" width="5.85" height="5.84" fill="#ea7200"/>
<rect x="216.64" y="194.22" width="5.86" height="5.84" fill="#e85d00"/>
<rect x="222.2" y="194.22" width="5.85" height="5.84" fill="#e75300"/>
<rect x="227.75" y="194.22" width="55.85" height="5.84" fill="#e43400"/>
<rect x="0.0" y="199.76" width="5.85" height="5.85" fill="#e43400"/>
<rect x="5.55" y="199.76" width="194.73" height="5.85" fill="#0000b4"/>
<rect x="199.98" y="199.76" width="5.85" height="5.85" fill="#e43400"/>
<rect x="205.53" y="199.76" width="5.86" height="5.85" fill="#ec8500"/>
<rect x="211.09" y="199.76" width="5.85" height="5.85" fill="#e96300"/>
<rect x="216.64" y="199.76" width="5.86" height="5.85" fill="#e75300"/>
<rect x="222.2" y="199.76" width="61.4" height="5.85" fill="#e43400"/>
<rect x="0.0" y="205.31" width="5.85" height="5.85" fill="#e43400"/>
<rect x="5.55" y="205.31" width="205.84" height="5.85" fill="#0000b4"/>
<rect x="211.09" y="205.31" width="72.51" height="5.85" fill="#e43400"/>
<rect x="0.0" y="210.86" width="5.85" height="5.85" fill="#e43400"/>
<rect x="5.55" y="210.86" width="200.28" height="5.85" fill="#0000b4"/>
<rect x="205.53" y="210.86" width="5.86" height="5.85" fill="#407400"/>
<rect x="211.09" y="210.86" width="5.85" height="5.85" fill="#0000b4"/>
<rect x="216.64" y="210.86" width="66.96" height="5.85" fill="#e43400"/>
<rect x="0.0" y="216.41" width="200.28" height="5.85" fill="#0000b4"/>
<rect x="199.98" y="216.41" width="16.96" height="5.85" fill="#407400"/>
<rect x="216.64" y="216.41" width="5.86" height="5.85" fill="#efa400"/>
<rect x="222.2" y="216.41" width="61.4" height="5.85" fill="#e43400"/>
<rect x="0.0" y="221.96" width="194.72" height="5.85" fill="#0000b4"/>
<rect x="194.42" y="221.96" width="5.86" height="5.85" fill="#407400"/>
<rect x="199.98" y="221.96" width="5.85" height="5.85" fill="#0000b4"/>
<rect x="205.53" y="221.96" width="16.97" height="5.85" fill="#407400"/>
<rect x="222.2" y="221.96" width="61.4" height="5.85" fill="#e43400"/>
<rect x="0.0" y="227.51" width="189.17" height="5.85" fill="#0000b4"/>
<rect x="188.87" y="227.51" width="39.18" height="5.85" fill="#407400"/>
<rect x="227.75" y="227.51" width="55.85" height="5.85" fill="#e43400"/>
<rect x="0.0" y="233.06" width="189.17" height="5.85" fill="#0000b4"/>
<rect x="188.87" y="233.06" width="44.74" height="5.85" fill="#407400"/>
<rect x="233.31" y="233.06" width="5.85" height="5.85" fill="#efa400"/>
<rect x="238.86" y="233.06" width="44.74" height="5.85" fill="#e43400"/>
<rect x="0.0" y="238.61" width="183.61" height="5.85" fill="#0000b4"/>
<rect x="183.31" y="238.61" width="61.41" height="5.85" fill="#407400"/>
<rect x="244.42" y="238.61" width="39.18" height="5.85" fill="#e43400"/>
<rect x="0.0" y="244.16" width="178.06" height="5.85" fill="#0000b4"/>
<rect x="177.76" y="244.16" width="66.96" height="5.85" fill="#407400"/>
<rect x="244.42" y="244.16" width="5.85" height="5.85" fill="#0000b4"/>
<rect x="249.97" y="244.16" width="33.63" height="5.85" fill="#e43400"/>
<rect x="0.0" y="249.71" width="166.95" height="5.84" fill="#0000b4"/>
<rect x="166.65" y="249.71" width="89.18" height="5.84" fill="#407400"/>
<rect x="255.53" y="249.71" width="28.07" height="5.84" fill="#e43400"/>
<rect x="0.0" y="255.25" width="166.95" height="5.85" fill="#0000b4"/>
<rect x="166.65" y="255.25" width="89.18" height="5.85" fill="#407400"/>
<rect x="255.53" y="255.25" width="28.07" height="5.85" fill="#e43400"/>
<rect x="0.0" y="260.8" width="161.39" height="5.85" fill="#0000b4"/>
<rect x="161.09" y="260.8" width="100.29" height="5.85" fill="#407400"/>
<rect x="261.08" y="260.8" width="5.86" height="5.85" fill="#0000b4"/>
<rect x="266.64" y="260.8" width="16.96" height="5.85" fill="#e43400"/>
<rect x="0.0" y="266.35" width="155.84" height="5.85" fill="#0000b4"/>
<rect x="155.54" y="266.35" width="116.95" height="5.85" fill="#407400"/>
<rect x="272.19" y="266.35" width="11.41" height="5.85" fill="#e43400"/>
<rect x="0.0" y="271.9" width="150.28" height="5.85" fill="#0000b4"/>
<rect x="149.98" y="271.9" width="122.51" height="5.85" fill="#407400"/>
<rect x="272.19" y="271.9" width="5.86" height="5.85" fill="#0000b4"/>
<rect x="277.75" y="271.9" width="5.85" height="5.85" fill="#e43400"/>
<rect x="0.0" y="277.45" width="144.73" height="5.85" fill="#0000b4"/>
<rect x="144.43" y="277.45" width="133.62" height="5.85" fill="#407400"/>
<rect x="277.75" y="277.45" width="5.85" height="5.85" fill="#f5dc00"/>
</g>
<g transform="translate(147.5,426.0)" shape-rendering="crispEdges">
<rect x="0.0" y="0.0" width="5.83" height="5.83" fill="#e43400"/>
<rect x="5.53" y="0.0" width="11.36" height="5.83" fill="#407400"/>
<rect x="16.59" y="0.0" width="5.83" height="5.83" fill="#f5dc00"/>
<rect x="22.12" y="0.0" width="116.42" height="5.83" fill="#407400"/>
<rect x="138.24" y="0.0" width="5.82" height="5.83" fill="#779400"/>
<rect x="143.76" y="0.0" width="5.83" height="5.83" fill="#407400"/>
<rect x="149.29" y="0.0" width="5.83" height="5.83" fill="#779400"/>
<rect x="154.82" y="0.0" width="5.83" height="5.83" fill="#407400"/>
<rect x="160.35" y="0.0" width="11.36" height="5.83" fill="#d4c900"/>
<rect x="171.41" y="0.0" width="5.83" height="5.83" fill="#aeb300"/>
<rect x="176.94" y="0.0" width="5.83" height="5.83" fill="#d4c900"/>
<rect x="182.47" y="0.0" width="5.83" height="5.83" fill="#aeb300"/>
<rect x="188.0" y="0.0" width="94.3" height="5.83" fill="#f5dc00"/>
<rect x="0.0" y="5.53" width="5.83" height="5.82" fill="#efa400"/>
<rect x="5.53" y="5.53" width="5.83" height="5.82" fill="#0000b4"/>
<rect x="11.06" y="5.53" width="5.83" height="5.82" fill="#aeb300"/>
<rect x="16.59" y="5.53" width="83.24" height="5.82" fill="#407400"/>
<rect x="99.53" y="5.53" width="11.36" height="5.82" fill="#779400"/>
<rect x="110.59" y="5.53" width="11.36" height="5.82" fill="#407400"/>
<rect x="121.65" y="5.53" width="5.83" height="5.82" fill="#aeb300"/>
<rect x="127.18" y="5.53" width="16.88" height="5.82" fill="#407400"/>
<rect x="143.76" y="5.53" width="5.83" height="5.82" fill="#aeb300"/>
<rect x="149.29" y="5.53" width="5.83" height="5.82" fill="#407400"/>
<rect x="154.82" y="5.53" width="5.83" height="5.82" fill="#aeb300"/>
<rect x="160.35" y="5.53" width="11.36" height="5.82" fill="#d4c900"/>
<rect x="171.41" y="5.53" width="11.36" height="5.82" fill="#aeb300"/>
<rect x="182.47" y="5.53" width="94.3" height="5.82" fill="#f5dc00"/>
<rect x="276.47" y="5.53" width="5.83" height="5.82" fill="#f2bd00"/>
<rect x="0.0" y="11.05" width="5.83" height="5.83" fill="#e43400"/>
<rect x="5.53" y="11.05" width="5.83" height="5.83" fill="#407400"/>
<rect x="11.06" y="11.05" width="5.83" height="5.83" fill="#e43400"/>
<rect x="16.59" y="11.05" width="5.83" height="5.83" fill="#f5dc00"/>
<rect x="22.12" y="11.05" width="5.83" height="5.83" fill="#779400"/>
<rect x="27.65" y="11.05" width="88.77" height="5.83" fill="#407400"/>
<rect x="116.12" y="11.05" width="5.83" height="5.83" fill="#779400"/>
<rect x="121.65" y="11.05" width="11.36" height="5.83" fill="#aeb300"/>
<rect x="132.71" y="11.05" width="5.83" height="5.83" fill="#407400"/>
<rect x="138.24" y="11.05" width="5.82" height="5.83" fill="#aeb300"/>
<rect x="143.76" y="11.05" width="11.36" height="5.83" fill="#407400"/>
<rect x="154.82" y="11.05" width="5.83" height="5.83" fill="#aeb300"/>
<rect x="160.35" y="11.05" width="11.36" height="5.83" fill="#d4c900"/>
<rect x="171.41" y="11.05" width="5.83" height="5.83" fill="#aeb300"/>
<rect x="176.94" y="11.05" width="94.3" height="5.83" fill="#f5dc00"/>
<rect x="270.94" y="11.05" width="5.83" height="5.83" fill="#f3cd00"/>
<rect x="276.47" y="11.05" width="5.83" height="5.83" fill="#f0ae00"/>
<rect x="0.0" y="16.58" width="5.83" height="5.82" fill="#0000b4"/>
<rect x="5.53" y="16.58" width="11.36" height="5.82" fill="#e43400"/>
<rect x="16.59" y="16.58" width="5.83" height="5.82" fill="#0000b4"/>
<rect x="22.12" y="16.58" width="11.36" height="5.82" fill="#407400"/>
<rect x="33.18" y="16.58" width="5.83" height="5.82" fill="#aeb300"/>
<rect x="38.71" y="16.58" width="83.24" height="5.82" fill="#407400"/>
<rect x="121.65" y="16.58" width="11.36" height="5.82" fill="#aeb300"/>
<rect x="132.71" y="16.58" width="5.83" height="5.82" fill="#407400"/>
<rect x="138.24" y="16.58" width="5.82" height="5.82" fill="#779400"/>
<rect x="143.76" y="16.58" width="5.83" height="5.82" fill="#d4c900"/>
<rect x="149.29" y="16.58" width="5.83" height="5.82" fill="#f5dc00"/>
<rect x="154.82" y="16.58" width="5.83" height="5.82" fill="#aeb300"/>
<rect x="160.35" y="16.58" width="11.36" height="5.82" fill="#d4c900"/>
<rect x="171.41" y="16.58" width="94.3" height="5.82" fill="#f5dc00"/>
<rect x="265.41" y="16.58" width="5.83" height="5.82" fill="#f3cd00"/>
<rect x="270.94" y="16.58" width="5.83" height="5.82" fill="#f1b300"/>
<rect x="276.47" y="16.58" width="5.83" height="5.82" fill="#ee9a00"/>
<rect x="0.0" y="22.1" width="5.83" height="5.83" fill="#e43400"/>
<rect x="5.53" y="22.1" width="5.83" height="5.83" fill="#0000b4"/>
<rect x="11.06" y="22.1" width="11.36" height="5.83" fill="#e43400"/>
<rect x="22.12" y="22.1" width="5.83" height="5.83" fill="#0000b4"/>
<rect x="27.65" y="22.1" width="5.83" height="5.83" fill="#407400"/>
<rect x="33.18" y="22.1" width="5.83" height="5.83" fill="#d4c900"/>
<rect x="38.71" y="22.1" width="5.83" height="5.83" fill="#407400"/>
<rect x="44.24" y="22.1" width="5.82" height="5.83" fill="#779400"/>
<rect x="49.76" y="22.1" width="16.89" height="5.83" fill="#407400"/>
<rect x="66.35" y="22.1" width="5.83" height="5.83" fill="#779400"/>
<rect x="71.88" y="22.1" width="22.42" height="5.83" fill="#407400"/>
<rect x="94.0" y="22.1" width="11.36" height="5.83" fill="#779400"/>
<rect x="105.06" y="22.1" width="5.83" height="5.83" fill="#407400"/>
<rect x="110.59" y="22.1" width="11.36" height="5.83" fill="#779400"/>
<rect x="121.65" y="22.1" width="5.83" height="5.83" fill="#aeb300"/>
<rect x="127.18" y="22.1" width="5.83" height="5.83" fill="#779400"/>
<rect x="132.71" y="22.1" width="5.83" height="5.83" fill="#407400"/>
<rect x="138.24" y="22.1" width="11.35" height="5.83" fill="#d4c900"/>
<rect x="149.29" y="22.1" width="5.83" height="5.83" fill="#aeb300"/>
<rect x="154.82" y="22.1" width="5.83" height="5.83" fill="#d4c900"/>
<rect x="160.35" y="22.1" width="5.83" height="5.83" fill="#aeb300"/>
<rect x="165.88" y="22.1" width="94.3" height="5.83" fill="#f5dc00"/>
<rect x="259.88" y="22.1" width="5.83" height="5.83" fill="#f3cd00"/>
<rect x="265.41" y="22.1" width="5.83" height="5.83" fill="#f1b500"/>
<rect x="270.94" y="22.1" width="5.83" height="5.83" fill="#ef9d00"/>
<rect x="276.47" y="22.1" width="5.83" height="5.83" fill="#ec8500"/>
<rect x="0.0" y="27.63" width="22.42" height="5.82" fill="#e43400"/>
<rect x="22.12" y="27.63" width="5.83" height="5.82" fill="#f5dc00"/>
<rect x="27.65" y="27.63" width="5.83" height="5.82" fill="#e43400"/>
<rect x="33.18" y="27.63" width="5.83" height="5.82" fill="#f5dc00"/>
<rect x="38.71" y="27.63" width="11.35" height="5.82" fill="#407400"/>
<rect x="49.76" y="27.63" width="5.83" height="5.82" fill="#f5dc00"/>
<rect x="55.29" y="27.63" width="16.89" height="5.82" fill="#407400"/>
<rect x="71.88" y="27.63" width="5.83" height="5.82" fill="#aeb300"/>
<rect x="77.41" y="27.63" width="33.48" height="5.82" fill="#407400"/>
<rect x="110.59" y="27.63" width="11.36" height="5.82" fill="#779400"/>
<rect x="121.65" y="27.63" width="5.83" height="5.82" fill="#407400"/>
<rect x="127.18" y="27.63" width="5.83" height="5.82" fill="#779400"/>
<rect x="132.71" y="27.63" width="5.83" height="5.82" fill="#407400"/>
<rect x="138.24" y="27.63" width="5.82" height="5.82" fill="#aeb300"/>
<rect x="143.76" y="27.63" width="5.83" height="5.82" fill="#f5dc00"/>
<rect x="149.29" y="27.63" width="5.83" height="5.82" fill="#aeb300"/>
<rect x="154.82" y="27.63" width="5.83" height="5.82" fill="#d4c900"/>
<rect x="160.35" y="27.63" width="94.3" height="5.82" fill="#f5dc00"/>
<rect x="254.35" y="27.63" width="5.83" height="5.82" fill="#f3cd00"/>
<rect x="259.88" y="27.63" width="5.83" height="5.82" fill="#f1b600"/>
<rect x="265.41" y="27.63" width="5.83" height="5.82" fill="#ef9f00"/>
<rect x="270.94" y="27.63" width="5.83" height="5.82" fill="#ec8800"/>
<rect x="276.47" y="27.63" width="5.83" height="5.82" fill="#ea7100"/>
<rect x="0.0" y="33.15" width="16.89" height="5.83" fill="#e43400"/>
<rect x="16.59" y="33.15" width="5.83" height="5.83" fill="#0000b4"/>
<rect x="22.12" y="33.15" width="16.89" height="5.83" fill="#e43400"/>
<rect x="38.71" y="33.15" width="5.83" height="5.83" fill="#0000b4"/>
<rect x="44.24" y="33.15" width="5.82" height="5.83" fill="#aeb300"/>
<rect x="49.76" y="33.15" width="5.83" height="5.83" fill="#779400"/>
<rect x="55.29" y="33.15" width="27.95" height="5.83" fill="#407400"/>
<rect x="82.94" y="33.15" width="5.83" height="5.83" fill="#779400"/>
<rect x="88.47" y="33.15" width="11.36" height="5.83" fill="#407400"/>
<rect x="99.53" y="33.15" width="11.36" height="5.83" fill="#aeb300"/>
<rect x="110.59" y="33.15" width="5.83" height="5.83" fill="#779400"/>
<rect x="116.12" y="33.15" width="5.83" height="5.83" fill="#aeb300"/>
<rect x="121.65" y="33.15" width="5.83" height="5.83" fill="#779400"/>
<rect x="127.18" y="33.15" width="5.83" height="5.83" fill="#aeb300"/>
<rect x="132.71" y="33.15" width="5.83" height="5.83" fill="#d4c900"/>
<rect x="138.24" y="33.15" width="5.82" height="5.83" fill="#aeb300"/>
<rect x="143.76" y="33.15" width="11.36" height="5.83" fill="#f5dc00"/>
<rect x="154.82" y="33.15" width="5.83" height="5.83" fill="#aeb300"/>
<rect x="160.35" y="33.15" width="88.77" height="5.83" fill="#f5dc00"/>
<rect x="248.82" y="33.15" width="5.83" height="5.83" fill="#f3cd00"/>
<rect x="254.35" y="33.15" width="5.83" height="5.83" fill="#f1b600"/>
<rect x="259.88" y="33.15" width="5.83" height="5.83" fill="#efa000"/>
<rect x="265.41" y="33.15" width="5.83" height="5.83" fill="#ed8a00"/>
<rect x="270.94" y="33.15" width="5.83" height="5.83" fill="#ea7300"/>
<rect x="276.47" y="33.15" width="5.83" height="5.83" fill="#e85d00"/>
<rect x="0.0" y="38.68" width="39.01" height="5.82" fill="#e43400"/>
<rect x="38.71" y="38.68" width="5.83" height="5.82" fill="#407400"/>
<rect x="44.24" y="38.68" width="5.82" height="5.82" fill="#779400"/>
<rect x="49.76" y="38.68" width="5.83" height="5.82" fill="#407400"/>
<rect x="55.29" y="38.68" width="5.83" height="5.82" fill="#f5dc00"/>
<rect x="60.82" y="38.68" width="22.42" height="5.82" fill="#407400"/>
<rect x="82.94" y="38.68" width="5.83" height="5.82" fill="#f5dc00"/>
<rect x="88.47" y="38.68" width="5.83" height="5.82" fill="#aeb300"/>
<rect x="94.0" y="38.68" width="5.83" height="5.82" fill="#407400"/>
<rect x="99.53" y="38.68" width="5.83" height="5.82" fill="#779400"/>
<rect x="105.06" y="38.68" width="16.89" height="5.82" fill="#407400"/>
<rect x="121.65" y="38.68" width="5.83" height="5.82" fill="#f5dc00"/>
<rect x="127.18" y="38.68" width="5.83" height="5.82" fill="#aeb300"/>
<rect x="132.71" y="38.68" width="5.83" height="5.82" fill="#407400"/>
<rect x="138.24" y="38.68" width="16.88" height="5.82" fill="#f5dc00"/>
<rect x="154.82" y="38.68" width="5.83" height="5.82" fill="#d4c900"/>
<rect x="160.35" y="38.68" width="83.24" height="5.82" fill="#f5dc00"/>
<rect x="243.29" y="38.68" width="5.83" height="5.82" fill="#f3cd00"/>
<rect x="248.82" y="38.68" width="5.83" height="5.82" fill="#f1b300"/>
<rect x="254.35" y="38.68" width="5.83" height="5.82" fill="#ee9a00"/>
<rect x="259.88" y="38.68" width="5.83" height="5.82" fill="#ec8000"/>
<rect x="265.41" y="38.68" width="5.83" height="5.82" fill="#e96700"/>
<rect x="270.94" y="38.68" width="5.83" height="5.82" fill="#e74d00"/>
<rect x="276.47" y="38.68" width="5.83" height="5.82" fill="#e43400"/>
<rect x="0.0" y="44.2" width="22.42" height="5.83" fill="#e43400"/>
<rect x="22.12" y="44.2" width="5.83" height="5.83" fill="#0000b4"/>
<rect x="27.65" y="44.2" width="22.41" height="5.83" fill="#e43400"/>
<rect x="49.76" y="44.2" width="5.83" height="5.83" fill="#407400"/>
<rect x="55.29" y="44.2" width="5.83" height="5.83" fill="#efa400"/>
<rect x="60.82" y="44.2" width="11.36" height="5.83" fill="#407400"/>
<rect x="71.88" y="44.2" width="5.83" height="5.83" fill="#f5dc00"/>
<rect x="77.41" y="44.2" width="5.83" height="5.83" fill="#407400"/>
<rect x="82.94" y="44.2" width="16.89" height="5.83" fill="#aeb300"/>
<rect x="99.53" y="44.2" width="5.83" height="5.83" fill="#407400"/>
<rect x="105.06" y="44.2" width="5.83" height="5.83" fill="#d4c900"/>
<rect x="110.59" y="44.2" width="5.83" height="5.83" fill="#407400"/>
<rect x="116.12" y="44.2" width="5.83" height="5.83" fill="#aeb300"/>
<rect x="121.65" y="44.2" width="5.83" height="5.83" fill="#f5dc00"/>
<rect x="127.18" y="44.2" width="16.88" height="5.83" fill="#d4c900"/>
<rect x="143.76" y="44.2" width="5.83" height="5.83" fill="#f5dc00"/>
<rect x="149.29" y="44.2" width="5.83" height="5.83" fill="#d4c900"/>
<rect x="154.82" y="44.2" width="77.72" height="5.83" fill="#f5dc00"/>
<rect x="232.24" y="44.2" width="5.82" height="5.83" fill="#f3cd00"/>
<rect x="237.76" y="44.2" width="5.83" height="5.83" fill="#f1b800"/>
<rect x="243.29" y="44.2" width="5.83" height="5.83" fill="#efa200"/>
<rect x="248.82" y="44.2" width="5.83" height="5.83" fill="#ed8d00"/>
<rect x="254.35" y="44.2" width="5.83" height="5.83" fill="#eb7800"/>
<rect x="259.88" y="44.2" width="5.83" height="5.83" fill="#e96300"/>
<rect x="265.41" y="44.2" width="5.83" height="5.83" fill="#e74d00"/>
<rect x="270.94" y="44.2" width="11.36" height="5.83" fill="#e43400"/>
<rect x="0.0" y="49.73" width="39.01" height="5.82" fill="#e43400"/>
<rect x="38.71" y="49.73" width="5.83" height="5.82" fill="#0000b4"/>
<rect x="44.24" y="49.73" width="5.82" height="5.82" fill="#e43400"/>
<rect x="49.76" y="49.73" width="5.83" height="5.82" fill="#407400"/>
<rect x="55.29" y="49.73" width="5.83" height="5.82" fill="#f5dc00"/>
<rect x="60.82" y="49.73" width="5.83" height="5.82" fill="#407400"/>
<rect x="66.35" y="49.73" width="11.36" height="5.82" fill="#f5dc00"/>
<rect x="77.41" y="49.73" width="5.83" height="5.82" fill="#407400"/>
<rect x="82.94" y="49.73" width="5.83" height="5.82" fill="#f5dc00"/>
<rect x="88.47" y="49.73" width="5.83" height="5.82" fill="#407400"/>
<rect x="94.0" y="49.73" width="5.83" height="5.82" fill="#779400"/>
<rect x="99.53" y="49.73" width="5.83" height="5.82" fill="#407400"/>
<rect x="105.06" y="49.73" width="5.83" height="5.82" fill="#d4c900"/>
<rect x="110.59" y="49.73" width="5.83" height="5.82" fill="#f5dc00"/>
<rect x="116.12" y="49.73" width="5.83" height="5.82" fill="#aeb300"/>
<rect x="121.65" y="49.73" width="22.41" height="5.82" fill="#d4c900"/>
<rect x="143.76" y="49.73" width="5.83" height="5.82" fill="#407400"/>
<rect x="149.29" y="49.73" width="77.72" height="5.82" fill="#f5dc00"/>
<rect x="226.71" y="49.73" width="5.83" height="5.82" fill="#f3cd00"/>
<rect x="232.24" y="49.73" width="5.82" height="5.82" fill="#f1b800"/>
<rect x="237.76" y="49.73" width="5.83" height="5.82" fill="#efa200"/>
<rect x="243.29" y="49.73" width="5.83" height="5.82" fill="#ed8d00"/>
<rect x="248.82" y="49.73" width="5.83" height="5.82" fill="#eb7800"/>
<rect x="254.35" y="49.73" width="5.83" height="5.82" fill="#e96300"/>
<rect x="259.88" y="49.73" width="5.83" height="5.82" fill="#e74d00"/>
<rect x="265.41" y="49.73" width="16.89" height="5.82" fill="#e43400"/>
<rect x="0.0" y="55.25" width="50.06" height="5.83" fill="#e43400"/>
<rect x="49.76" y="55.25" width="5.83" height="5.83" fill="#0000b4"/>
<rect x="55.29" y="55.25" width="11.36" height="5.83" fill="#407400"/>
<rect x="66.35" y="55.25" width="5.83" height="5.83" fill="#f5dc00"/>
<rect x="71.88" y="55.25" width="5.83" height="5.83" fill="#d4c900"/>
<rect x="77.41" y="55.25" width="27.95" height="5.83" fill="#407400"/>
<rect x="105.06" y="55.25" width="11.36" height="5.83" fill="#779400"/>
<rect x="116.12" y="55.25" width="5.83" height="5.83" fill="#aeb300"/>
<rect x="121.65" y="55.25" width="11.36" height="5.83" fill="#d4c900"/>
<rect x="132.71" y="55.25" width="5.83" height="5.83" fill="#407400"/>
<rect x="138.24" y="55.25" width="5.82" height="5.83" fill="#d4c900"/>
<rect x="143.76" y="55.25" width="11.36" height="5.83" fill="#f5dc00"/>
<rect x="154.82" y="55.25" width="5.83" height="5.83" fill="#407400"/>
<rect x="160.35" y="55.25" width="61.13" height="5.83" fill="#f5dc00"/>
<rect x="221.18" y="55.25" width="5.83" height="5.83" fill="#f3cd00"/>
<rect x="226.71" y="55.25" width="5.83" height="5.83" fill="#f1b300"/>
<rect x="232.24" y="55.25" width="5.82" height="5.83" fill="#ee9a00"/>
<rect x="237.76" y="55.25" width="5.83" height="5.83" fill="#ec8000"/>
<rect x="243.29" y="55.25" width="5.83" height="5.83" fill="#e96700"/>
<rect x="248.82" y="55.25" width="5.83" height="5.83" fill="#e74d00"/>
<rect x="254.35" y="55.25" width="27.95" height="5.83" fill="#e43400"/>
<rect x="0.0" y="60.78" width="50.06" height="5.83" fill="#e43400"/>
<rect x="49.76" y="60.78" width="5.83" height="5.83" fill="#0000b4"/>
<rect x="55.29" y="60.78" width="11.36" height="5.83" fill="#e43400"/>
<rect x="66.35" y="60.78" width="5.83" height="5.83" fill="#407400"/>
<rect x="71.88" y="60.78" width="5.83" height="5.83" fill="#779400"/>
<rect x="77.41" y="60.78" width="5.83" height="5.83" fill="#aeb300"/>
<rect x="82.94" y="60.78" width="22.42" height="5.83" fill="#407400"/>
<rect x="105.06" y="60.78" width="5.83" height="5.83" fill="#aeb300"/>
<rect x="110.59" y="60.78" width="5.83" height="5.83" fill="#f5dc00"/>
<rect x="116.12" y="60.78" width="5.83" height="5.83" fill="#aeb300"/>
<rect x="121.65" y="60.78" width="11.36" height="5.83" fill="#d4c900"/>
<rect x="132.71" y="60.78" width="83.24" height="5.83" fill="#f5dc00"/>
<rect x="215.65" y="60.78" width="5.83" height="5.83" fill="#f3cd00"/>
<rect x="221.18" y="60.78" width="5.83" height="5.83" fill="#f1b300"/>
<rect x="226.71" y="60.78" width="5.83" height="5.83" fill="#ee9a00"/>
<rect x="232.24" y="60.78" width="5.82" height="5.83" fill="#ec8000"/>
<rect x="237.76" y="60.78" width="5.83" height="5.83" fill="#e96700"/>
<rect x="243.29" y="60.78" width="5.83" height="5.83" fill="#e74d00"/>
<rect x="248.82" y="60.78" width="33.48" height="5.83" fill="#e43400"/>
<rect x="0.0" y="66.31" width="39.01" height="5.82" fill="#e43400"/>
<rect x="38.71" y="66.31" width="16.88" height="5.82" fill="#0000b4"/>
<rect x="55.29" y="66.31" width="11.36" height="5.82" fill="#e43400"/>
<rect x="66.35" y="66.31" width="5.83" height="5.82" fill="#0000b4"/>
<rect x="71.88" y="66.31" width="5.83" height="5.82" fill="#e43400"/>
<rect x="77.41" y="66.31" width="11.36" height="5.82" fill="#f5dc00"/>
<rect x="88.47" y="66.31" width="5.83" height="5.82" fill="#d4c900"/>
<rect x="94.0" y="66.31" width="5.83" height="5.82" fill="#407400"/>
<rect x="99.53" y="66.31" width="5.83" height="5.82" fill="#779400"/>
<rect x="105.06" y="66.31" width="5.83" height="5.82" fill="#407400"/>
<rect x="110.59" y="66.31" width="5.83" height="5.82" fill="#f5dc00"/>
<rect x="116.12" y="66.31" width="5.83" height="5.82" fill="#aeb300"/>
<rect x="121.65" y="66.31" width="88.77" height="5.82" fill="#f5dc00"/>
<rect x="210.12" y="66.31" width="5.83" height="5.82" fill="#f3cd00"/>
<rect x="215.65" y="66.31" width="5.83" height="5.82" fill="#f1b300"/>
<rect x="221.18" y="66.31" width="5.83" height="5.82" fill="#ee9a00"/>
<rect x="226.71" y="66.31" width="5.83" height="5.82" fill="#ec8000"/>
<rect x="232.24" y="66.31" width="5.82" height="5.82" fill="#e96700"/>
<rect x="237.76" y="66.31" width="5.83" height="5.82" fill="#e74d00"/>
<rect x="243.29" y="66.31" width="39.01" height="5.82" fill="#e43400"/>
<rect x="0.0" y="71.83" width="16.89" height="5.83" fill="#e43400"/>
<rect x="16.59" y="71.83" width="5.83" height="5.83" fill="#0000b4"/>
<rect x="22.12" y="71.83" width="33.47" height="5.83" fill="#e43400"/>
<rect x="55.29" y="71.83" width="5.83" height="5.83" fill="#0000b4"/>
<rect x="60.82" y="71.83" width="11.36" height="5.83" fill="#e43400"/>
<rect x="71.88" y="71.83" width="5.83" height="5.83" fill="#f5dc00"/>
<rect x="77.41" y="71.83" width="5.83" height="5.83" fill="#407400"/>
<rect x="82.94" y="71.83" width="5.83" height="5.83" fill="#aeb300"/>
<rect x="88.47" y="71.83" width="5.83" height="5.83" fill="#f5dc00"/>
<rect x="94.0" y="71.83" width="11.36" height="5.83" fill="#407400"/>
<rect x="105.06" y="71.83" width="16.89" height="5.83" fill="#f5dc00"/>
<rect x="121.65" y="71.83" width="5.83" height="5.83" fill="#d4c900"/>
<rect x="127.18" y="71.83" width="16.88" height="5.83" fill="#f5dc00"/>
<rect x="143.76" y="71.83" width="5.83" height="5.83" fill="#d4c900"/>
<rect x="149.29" y="71.83" width="61.13" height="5.83" fill="#f5dc00"/>
<rect x="210.12" y="71.83" width="5.83" height="5.83" fill="#f2c300"/>
<rect x="215.65" y="71.83" width="5.83" height="5.83" fill="#ee9c00"/>
<rect x="221.18" y="71.83" width="5.83" height="5.83" fill="#eb7400"/>
<rect x="226.71" y="71.83" width="5.83" height="5.83" fill="#e74d00"/>
<rect x="232.24" y="71.83" width="50.06" height="5.83" fill="#e43400"/>
<rect x="0.0" y="77.36" width="33.48" height="5.82" fill="#e43400"/>
<rect x="33.18" y="77.36" width="16.88" height="5.82" fill="#0000b4"/>
<rect x="49.76" y="77.36" width="5.83" height="5.82" fill="#e43400"/>
<rect x="55.29" y="77.36" width="5.83" height="5.82" fill="#0000b4"/>
<rect x="60.82" y="77.36" width="22.42" height="5.82" fill="#e43400"/>
<rect x="82.94" y="77.36" width="11.36" height="5.82" fill="#407400"/>
<rect x="94.0" y="77.36" width="5.83" height="5.82" fill="#f5dc00"/>
<rect x="99.53" y="77.36" width="5.83" height="5.82" fill="#407400"/>
<rect x="105.06" y="77.36" width="11.36" height="5.82" fill="#d4c900"/>
<rect x="116.12" y="77.36" width="5.83" height="5.82" fill="#407400"/>
<rect x="121.65" y="77.36" width="5.83" height="5.82" fill="#aeb300"/>
<rect x="127.18" y="77.36" width="77.71" height="5.82" fill="#f5dc00"/>
<rect x="204.59" y="77.36" width="5.83" height="5.82" fill="#f2c300"/>
<rect x="210.12" y="77.36" width="5.83" height="5.82" fill="#ec8800"/>
<rect x="215.65" y="77.36" width="5.83" height="5.82" fill="#e74d00"/>
<rect x="221.18" y="77.36" width="61.12" height="5.82" fill="#e43400"/>
<rect x="0.0" y="82.88" width="27.95" height="5.83" fill="#e43400"/>
<rect x="27.65" y="82.88" width="5.83" height="5.83" fill="#0000b4"/>
<rect x="33.18" y="82.88" width="11.36" height="5.83" fill="#e43400"/>
<rect x="44.24" y="82.88" width="11.35" height="5.83" fill="#0000b4"/>
<rect x="55.29" y="82.88" width="5.83" height="5.83" fill="#e43400"/>
<rect x="60.82" y="82.88" width="22.42" height="5.83" fill="#0000b4"/>
<rect x="82.94" y="82.88" width="5.83" height="5.83" fill="#f5dc00"/>
<rect x="88.47" y="82.88" width="5.83" height="5.83" fill="#407400"/>
<rect x="94.0" y="82.88" width="5.83" height="5.83" fill="#efa400"/>
<rect x="99.53" y="82.88" width="11.36" height="5.83" fill="#f5dc00"/>
<rect x="110.59" y="82.88" width="5.83" height="5.83" fill="#407400"/>
<rect x="116.12" y="82.88" width="5.83" height="5.83" fill="#aeb300"/>
<rect x="121.65" y="82.88" width="5.83" height="5.83" fill="#407400"/>
<rect x="127.18" y="82.88" width="11.36" height="5.83" fill="#f5dc00"/>
<rect x="138.24" y="82.88" width="5.82" height="5.83" fill="#d4c900"/>
<rect x="143.76" y="82.88" width="39.01" height="5.83" fill="#f5dc00"/>
<rect x="182.47" y="82.88" width="16.89" height="5.83" fill="#f2bd00"/>
<rect x="199.06" y="82.88" width="5.83" height="5.83" fill="#f1b800"/>
<rect x="204.59" y="82.88" width="5.83" height="5.83" fill="#ee9500"/>
<rect x="210.12" y="82.88" width="5.83" height="5.83" fill="#ea7100"/>
<rect x="215.65" y="82.88" width="5.83" height="5.83" fill="#e74d00"/>
<rect x="221.18" y="82.88" width="61.12" height="5.83" fill="#e43400"/>
<rect x="0.0" y="88.41" width="50.06" height="5.82" fill="#e43400"/>
<rect x="49.76" y="88.41" width="11.36" height="5.82" fill="#0000b4"/>
<rect x="60.82" y="88.41" width="5.83" height="5.82" fill="#e43400"/>
<rect x="66.35" y="88.41" width="16.89" height="5.82" fill="#0000b4"/>
<rect x="82.94" y="88.41" width="5.83" height="5.82" fill="#e43400"/>
<rect x="88.47" y="88.41" width="5.83" height="5.82" fill="#0000b4"/>
<rect x="94.0" y="88.41" width="5.83" height="5.82" fill="#407400"/>
<rect x="99.53" y="88.41" width="11.36" height="5.82" fill="#f5dc00"/>
<rect x="110.59" y="88.41" width="11.36" height="5.82" fill="#407400"/>
<rect x="121.65" y="88.41" width="55.59" height="5.82" fill="#f5dc00"/>
<rect x="176.94" y="88.41" width="16.89" height="5.82" fill="#f2bd00"/>
<rect x="193.53" y="88.41" width="5.83" height="5.82" fill="#f1b800"/>
<rect x="199.06" y="88.41" width="5.83" height="5.82" fill="#efa100"/>
<rect x="204.59" y="88.41" width="5.83" height="5.82" fill="#ed8b00"/>
<rect x="210.12" y="88.41" width="5.83" height="5.82" fill="#ea7400"/>
<rect x="215.65" y="88.41" width="5.83" height="5.82" fill="#e85d00"/>
<rect x="221.18" y="88.41" width="61.12" height="5.82" fill="#e43400"/>
<rect x="0.0" y="93.93" width="16.89" height="5.83" fill="#e43400"/>
<rect x="16.59" y="93.93" width="11.36" height="5.83" fill="#0000b4"/>
<rect x="27.65" y="93.93" width="5.83" height="5.83" fill="#e43400"/>
<rect x="33.18" y="93.93" width="11.36" height="5.83" fill="#0000b4"/>
<rect x="44.24" y="93.93" width="5.82" height="5.83" fill="#e43400"/>
<rect x="49.76" y="93.93" width="11.36" height="5.83" fill="#0000b4"/>
<rect x="60.82" y="93.93" width="11.36" height="5.83" fill="#e43400"/>
<rect x="71.88" y="93.93" width="22.42" height="5.83" fill="#0000b4"/>
<rect x="94.0" y="93.93" width="5.83" height="5.83" fill="#e43400"/>
<rect x="99.53" y="93.93" width="5.83" height="5.83" fill="#407400"/>
<rect x="105.06" y="93.93" width="5.83" height="5.83" fill="#f2bd00"/>
<rect x="110.59" y="93.93" width="5.83" height="5.83" fill="#f5dc00"/>
<rect x="116.12" y="93.93" width="5.83" height="5.83" fill="#aeb300"/>
<rect x="121.65" y="93.93" width="33.47" height="5.83" fill="#f5dc00"/>
<rect x="154.82" y="93.93" width="5.83" height="5.83" fill="#f2bd00"/>
<rect x="160.35" y="93.93" width="11.36" height="5.83" fill="#f5dc00"/>
<rect x="171.41" y="93.93" width="16.89" height="5.83" fill="#f2bd00"/>
<rect x="188.0" y="93.93" width="16.89" height="5.83" fill="#efa400"/>
<rect x="204.59" y="93.93" width="5.83" height="5.83" fill="#f2bd00"/>
<rect x="210.12" y="93.93" width="5.83" height="5.83" fill="#e43400"/>
<rect x="215.65" y="93.93" width="5.83" height="5.83" fill="#efa400"/>
<rect x="221.18" y="93.93" width="61.12" height="5.83" fill="#e43400"/>
<rect x="0.0" y="99.46" width="11.36" height="5.82" fill="#e43400"/>
<rect x="11.06" y="99.46" width="5.83" height="5.82" fill="#0000b4"/>
<rect x="16.59" y="99.46" width="16.89" height="5.82" fill="#e43400"/>
<rect x="33.18" y="99.46" width="16.88" height="5.82" fill="#0000b4"/>
<rect x="49.76" y="99.46" width="16.89" height="5.82" fill="#e43400"/>
<rect x="66.35" y="99.46" width="33.48" height="5.82" fill="#0000b4"/>
<rect x="99.53" y="99.46" width="5.83" height="5.82" fill="#e43400"/>
<rect x="105.06" y="99.46" width="11.36" height="5.82" fill="#407400"/>
<rect x="116.12" y="99.46" width="55.59" height="5.82" fill="#f5dc00"/>
<rect x="171.41" y="99.46" width="11.36" height="5.82" fill="#f2bd00"/>
<rect x="182.47" y="99.46" width="5.83" height="5.82" fill="#f5dc00"/>
<rect x="188.0" y="99.46" width="5.83" height="5.82" fill="#efa400"/>
<rect x="193.53" y="99.46" width="5.83" height="5.82" fill="#ea7100"/>
<rect x="199.06" y="99.46" width="5.83" height="5.82" fill="#efa400"/>
<rect x="204.59" y="99.46" width="5.83" height="5.82" fill="#ea7100"/>
<rect x="210.12" y="99.46" width="72.18" height="5.82" fill="#e43400"/>
<rect x="0.0" y="104.98" width="11.36" height="5.83" fill="#0000b4"/>
<rect x="11.06" y="104.98" width="11.36" height="5.83" fill="#e43400"/>
<rect x="22.12" y="104.98" width="5.83" height="5.83" fill="#0000b4"/>
<rect x="27.65" y="104.98" width="5.83" height="5.83" fill="#e43400"/>
<rect x="33.18" y="104.98" width="11.36" height="5.83" fill="#0000b4"/>
<rect x="44.24" y="104.98" width="5.82" height="5.83" fill="#e43400"/>
<rect x="49.76" y="104.98" width="27.95" height="5.83" fill="#0000b4"/>
<rect x="77.41" y="104.98" width="5.83" height="5.83" fill="#e43400"/>
<rect x="82.94" y="104.98" width="11.36" height="5.83" fill="#0000b4"/>
<rect x="94.0" y="104.98" width="11.36" height="5.83" fill="#e43400"/>
<rect x="105.06" y="104.98" width="11.36" height="5.83" fill="#407400"/>
<rect x="116.12" y="104.98" width="5.83" height="5.83" fill="#0000b4"/>
<rect x="121.65" y="104.98" width="11.36" height="5.83" fill="#f5dc00"/>
<rect x="132.71" y="104.98" width="5.83" height="5.83" fill="#407400"/>
<rect x="138.24" y="104.98" width="16.88" height="5.83" fill="#f5dc00"/>
<rect x="154.82" y="104.98" width="5.83" height="5.83" fill="#e43400"/>
<rect x="160.35" y="104.98" width="11.36" height="5.83" fill="#f5dc00"/>
<rect x="171.41" y="104.98" width="16.89" height="5.83" fill="#f2bd00"/>
<rect x="188.0" y="104.98" width="5.83" height="5.83" fill="#efa400"/>
<rect x="193.53" y="104.98" width="11.36" height="5.83" fill="#ea7100"/>
<rect x="204.59" y="104.98" width="5.83" height="5.83" fill="#efa400"/>
<rect x="210.12" y="104.98" width="72.18" height="5.83" fill="#e43400"/>
<rect x="0.0" y="110.51" width="16.89" height="5.83" fill="#e43400"/>
<rect x="16.59" y="110.51" width="11.36" height="5.83" fill="#0000b4"/>
<rect x="27.65" y="110.51" width="5.83" height="5.83" fill="#e43400"/>
<rect x="33.18" y="110.51" width="22.41" height="5.83" fill="#0000b4"/>
<rect x="55.29" y="110.51" width="5.83" height="5.83" fill="#e43400"/>
<rect x="60.82" y="110.51" width="44.54" height="5.83" fill="#0000b4"/>
<rect x="105.06" y="110.51" width="5.83" height="5.83" fill="#efa400"/>
<rect x="110.59" y="110.51" width="11.36" height="5.83" fill="#e43400"/>
<rect x="121.65" y="110.51" width="5.83" height="5.83" fill="#407400"/>
<rect x="127.18" y="110.51" width="5.83" height="5.83" fill="#f5dc00"/>
<rect x="132.71" y="110.51" width="11.35" height="5.83" fill="#e43400"/>
<rect x="143.76" y="110.51" width="11.36" height="5.83" fill="#f5dc00"/>
<rect x="154.82" y="110.51" width="5.83" height="5.83" fill="#f2bd00"/>
<rect x="160.35" y="110.51" width="11.36" height="5.83" fill="#f5dc00"/>
<rect x="171.41" y="110.51" width="11.36" height="5.83" fill="#f2bd00"/>
<rect x="182.47" y="110.51" width="5.83" height="5.83" fill="#e43400"/>
<rect x="188.0" y="110.51" width="11.36" height="5.83" fill="#ea7100"/>
<rect x="199.06" y="110.51" width="83.24" height="5.83" fill="#e43400"/>
<rect x="0.0" y="116.04" width="11.36" height="5.82" fill="#e43400"/>
<rect x="11.06" y="116.04" width="5.83" height="5.82" fill="#0000b4"/>
<rect x="16.59" y="116.04" width="5.83" height="5.82" fill="#e43400"/>
<rect x="22.12" y="116.04" width="5.83" height="5.82" fill="#0000b4"/>
<rect x="27.65" y="116.04" width="5.83" height="5.82" fill="#e43400"/>
<rect x="33.18" y="116.04" width="44.53" height="5.82" fill="#0000b4"/>
<rect x="77.41" y="116.04" width="5.83" height="5.82" fill="#e43400"/>
<rect x="82.94" y="116.04" width="22.42" height="5.82" fill="#0000b4"/>
<rect x="105.06" y="116.04" width="5.83" height="5.82" fill="#407400"/>
<rect x="110.59" y="116.04" width="5.83" height="5.82" fill="#0000b4"/>
<rect x="116.12" y="116.04" width="11.36" height="5.82" fill="#e43400"/>
<rect x="127.18" y="116.04" width="5.83" height="5.82" fill="#407400"/>
<rect x="132.71" y="116.04" width="11.35" height="5.82" fill="#f5dc00"/>
<rect x="143.76" y="116.04" width="5.83" height="5.82" fill="#efa400"/>
<rect x="149.29" y="116.04" width="5.83" height="5.82" fill="#f5dc00"/>
<rect x="154.82" y="116.04" width="5.83" height="5.82" fill="#efa400"/>
<rect x="160.35" y="116.04" width="5.83" height="5.82" fill="#f2bd00"/>
<rect x="165.88" y="116.04" width="5.83" height="5.82" fill="#efa400"/>
<rect x="171.41" y="116.04" width="5.83" height="5.82" fill="#f2bd00"/>
<rect x="176.94" y="116.04" width="5.83" height="5.82" fill="#efa400"/>
<rect x="182.47" y="116.04" width="5.83" height="5.82" fill="#e43400"/>
<rect x="188.0" y="116.04" width="5.83" height="5.82" fill="#efa400"/>
<rect x="193.53" y="116.04" width="88.77" height="5.82" fill="#e43400"/>
<rect x="0.0" y="121.56" width="5.83" height="5.83" fill="#e43400"/>
<rect x="5.53" y="121.56" width="88.77" height="5.83" fill="#0000b4"/>
<rect x="94.0" y="121.56" width="5.83" height="5.83" fill="#e43400"/>
<rect x="99.53" y="121.56" width="11.36" height="5.83" fill="#0000b4"/>
<rect x="110.59" y="121.56" width="16.89" height="5.83" fill="#e43400"/>
<rect x="127.18" y="121.56" width="11.36" height="5.83" fill="#0000b4"/>
<rect x="138.24" y="121.56" width="11.35" height="5.83" fill="#f5dc00"/>
<rect x="149.29" y="121.56" width="5.83" height="5.83" fill="#e43400"/>
<rect x="154.82" y="121.56" width="5.83" height="5.83" fill="#f5dc00"/>
<rect x="160.35" y="121.56" width="5.83" height="5.83" fill="#e43400"/>
<rect x="165.88" y="121.56" width="5.83" height="5.83" fill="#f5dc00"/>
<rect x="171.41" y="121.56" width="5.83" height="5.83" fill="#f2bd00"/>
<rect x="176.94" y="121.56" width="5.83" height="5.83" fill="#efa400"/>
<rect x="182.47" y="121.56" width="5.83" height="5.83" fill="#e43400"/>
<rect x="188.0" y="121.56" width="5.83" height="5.83" fill="#efa400"/>
<rect x="193.53" y="121.56" width="5.83" height="5.83" fill="#ea7100"/>
<rect x="199.06" y="121.56" width="83.24" height="5.83" fill="#e43400"/>
<rect x="0.0" y="127.09" width="5.83" height="5.82" fill="#e43400"/>
<rect x="5.53" y="127.09" width="105.36" height="5.82" fill="#0000b4"/>
<rect x="110.59" y="127.09" width="5.83" height="5.82" fill="#407400"/>
<rect x="116.12" y="127.09" width="16.89" height="5.82" fill="#0000b4"/>
<rect x="132.71" y="127.09" width="5.83" height="5.82" fill="#f2bd00"/>
<rect x="138.24" y="127.09" width="5.82" height="5.82" fill="#f5dc00"/>
<rect x="143.76" y="127.09" width="5.83" height="5.82" fill="#407400"/>
<rect x="149.29" y="127.09" width="5.83" height="5.82" fill="#f2bd00"/>
<rect x="154.82" y="127.09" width="11.36" height="5.82" fill="#efa400"/>
<rect x="165.88" y="127.09" width="5.83" height="5.82" fill="#f5dc00"/>
<rect x="171.41" y="127.09" width="5.83" height="5.82" fill="#efa400"/>
<rect x="176.94" y="127.09" width="105.36" height="5.82" fill="#e43400"/>
<rect x="0.0" y="132.61" width="11.36" height="5.83" fill="#e43400"/>
<rect x="11.06" y="132.61" width="105.36" height="5.83" fill="#0000b4"/>
<rect x="116.12" y="132.61" width="5.83" height="5.83" fill="#e43400"/>
<rect x="121.65" y="132.61" width="5.83" height="5.83" fill="#0000b4"/>
<rect x="127.18" y="132.61" width="5.83" height="5.83" fill="#407400"/>
<rect x="132.71" y="132.61" width="11.35" height="5.83" fill="#0000b4"/>
<rect x="143.76" y="132.61" width="5.83" height="5.83" fill="#407400"/>
<rect x="149.29" y="132.61" width="5.83" height="5.83" fill="#f2bd00"/>
<rect x="154.82" y="132.61" width="11.36" height="5.83" fill="#e43400"/>
<rect x="165.88" y="132.61" width="5.83" height="5.83" fill="#f2bd00"/>
<rect x="171.41" y="132.61" width="5.83" height="5.83" fill="#e43400"/>
<rect x="176.94" y="132.61" width="5.83" height="5.83" fill="#efa400"/>
<rect x="182.47" y="132.61" width="99.83" height="5.83" fill="#e43400"/>
<rect x="0.0" y="138.14" width="5.83" height="5.82" fill="#e43400"/>
<rect x="5.53" y="138.14" width="116.42" height="5.82" fill="#0000b4"/>
<rect x="121.65" y="138.14" width="5.83" height="5.82" fill="#407400"/>
<rect x="127.18" y="138.14" width="5.83" height="5.82" fill="#0000b4"/>
<rect x="132.71" y="138.14" width="5.83" height="5.82" fill="#407400"/>
<rect x="138.24" y="138.14" width="5.82" height="5.82" fill="#0000b4"/>
<rect x="143.76" y="138.14" width="11.36" height="5.82" fill="#e43400"/>
<rect x="154.82" y="138.14" width="5.83" height="5.82" fill="#efa400"/>
<rect x="160.35" y="138.14" width="5.83" height="5.82" fill="#f2bd00"/>
<rect x="165.88" y="138.14" width="5.83" height="5.82" fill="#e43400"/>
<rect x="171.41" y="138.14" width="11.36" height="5.82" fill="#f2bd00"/>
<rect x="182.47" y="138.14" width="11.36" height="5.82" fill="#e43400"/>
<rect x="193.53" y="138.14" width="5.83" height="5.82" fill="#e75300"/>
<rect x="199.06" y="138.14" width="83.24" height="5.82" fill="#e43400"/>
<rect x="0.0" y="143.66" width="138.54" height="5.83" fill="#0000b4"/>
<rect x="138.24" y="143.66" width="5.82" height="5.83" fill="#407400"/>
<rect x="143.76" y="143.66" width="22.42" height="5.83" fill="#e43400"/>
<rect x="165.88" y="143.66" width="5.83" height="5.83" fill="#efa400"/>
<rect x="171.41" y="143.66" width="5.83" height="5.83" fill="#f2bd00"/>
<rect x="176.94" y="143.66" width="105.36" height="5.83" fill="#e43400"/>
<rect x="0.0" y="149.19" width="144.06" height="5.82" fill="#0000b4"/>
<rect x="143.76" y="149.19" width="5.83" height="5.82" fill="#e43400"/>
<rect x="149.29" y="149.19" width="5.83" height="5.82" fill="#f5dc00"/>
<rect x="154.82" y="149.19" width="5.83" height="5.82" fill="#f2bd00"/>
<rect x="160.35" y="149.19" width="5.83" height="5.82" fill="#efa400"/>
<rect x="165.88" y="149.19" width="5.83" height="5.82" fill="#f2bd00"/>
<rect x="171.41" y="149.19" width="5.83" height="5.82" fill="#efa400"/>
<rect x="176.94" y="149.19" width="105.36" height="5.82" fill="#e43400"/>
<rect x="0.0" y="154.71" width="116.42" height="5.83" fill="#0000b4"/>
<rect x="116.12" y="154.71" width="5.83" height="5.83" fill="#e43400"/>
<rect x="121.65" y="154.71" width="5.83" height="5.83" fill="#407400"/>
<rect x="127.18" y="154.71" width="11.36" height="5.83" fill="#0000b4"/>
<rect x="138.24" y="154.71" width="5.82" height="5.83" fill="#f2bd00"/>
<rect x="143.76" y="154.71" width="5.83" height="5.83" fill="#407400"/>
<rect x="149.29" y="154.71" width="11.36" height="5.83" fill="#0000b4"/>
<rect x="160.35" y="154.71" width="5.83" height="5.83" fill="#e43400"/>
<rect x="165.88" y="154.71" width="5.83" height="5.83" fill="#407400"/>
<rect x="171.41" y="154.71" width="5.83" height="5.83" fill="#f2bd00"/>
<rect x="176.94" y="154.71" width="105.36" height="5.83" fill="#e43400"/>
<rect x="0.0" y="160.24" width="133.01" height="5.82" fill="#0000b4"/>
<rect x="132.71" y="160.24" width="5.83" height="5.82" fill="#407400"/>
<rect x="138.24" y="160.24" width="22.41" height="5.82" fill="#0000b4"/>
<rect x="160.35" y="160.24" width="16.89" height="5.82" fill="#f5dc00"/>
<rect x="176.94" y="160.24" width="5.83" height="5.82" fill="#f2bd00"/>
<rect x="182.47" y="160.24" width="5.83" height="5.82" fill="#efa400"/>
<rect x="188.0" y="160.24" width="94.3" height="5.82" fill="#e43400"/>
<rect x="0.0" y="165.76" width="149.59" height="5.83" fill="#0000b4"/>
<rect x="149.29" y="165.76" width="5.83" height="5.83" fill="#e43400"/>
<rect x="154.82" y="165.76" width="5.83" height="5.83" fill="#407400"/>
<rect x="160.35" y="165.76" width="5.83" height="5.83" fill="#e43400"/>
<rect x="165.88" y="165.76" width="11.36" height="5.83" fill="#0000b4"/>
<rect x="176.94" y="165.76" width="5.83" height="5.83" fill="#407400"/>
<rect x="182.47" y="165.76" width="5.83" height="5.83" fill="#ea7100"/>
<rect x="188.0" y="165.76" width="94.3" height="5.83" fill="#e43400"/>
<rect x="0.0" y="171.29" width="133.01" height="5.83" fill="#0000b4"/>
<rect x="132.71" y="171.29" width="39.0" height="5.83" fill="#407400"/>
<rect x="171.41" y="171.29" width="5.83" height="5.83" fill="#0000b4"/>
<rect x="176.94" y="171.29" width="5.83" height="5.83" fill="#f5dc00"/>
<rect x="182.47" y="171.29" width="5.83" height="5.83" fill="#f2bd00"/>
<rect x="188.0" y="171.29" width="94.3" height="5.83" fill="#e43400"/>
<rect x="0.0" y="176.82" width="127.48" height="5.82" fill="#0000b4"/>
<rect x="127.18" y="176.82" width="11.36" height="5.82" fill="#407400"/>
<rect x="138.24" y="176.82" width="5.82" height="5.82" fill="#0000b4"/>
<rect x="143.76" y="176.82" width="22.42" height="5.82" fill="#407400"/>
<rect x="165.88" y="176.82" width="5.83" height="5.82" fill="#0000b4"/>
<rect x="171.41" y="176.82" width="5.83" height="5.82" fill="#407400"/>
<rect x="176.94" y="176.82" width="5.83" height="5.82" fill="#e43400"/>
<rect x="182.47" y="176.82" width="5.83" height="5.82" fill="#0000b4"/>
<rect x="188.0" y="176.82" width="5.83" height="5.82" fill="#ea7100"/>
<rect x="193.53" y="176.82" width="88.77" height="5.82" fill="#e43400"/>
<rect x="0.0" y="182.34" width="127.48" height="5.83" fill="#0000b4"/>
<rect x="127.18" y="182.34" width="5.83" height="5.83" fill="#407400"/>
<rect x="132.71" y="182.34" width="5.83" height="5.83" fill="#0000b4"/>
<rect x="138.24" y="182.34" width="22.41" height="5.83" fill="#407400"/>
<rect x="160.35" y="182.34" width="5.83" height="5.83" fill="#0000b4"/>
<rect x="165.88" y="182.34" width="16.89" height="5.83" fill="#407400"/>
<rect x="182.47" y="182.34" width="99.83" height="5.83" fill="#e43400"/>
<rect x="0.0" y="187.87" width="110.89" height="5.82" fill="#0000b4"/>
<rect x="110.59" y="187.87" width="5.83" height="5.82" fill="#407400"/>
<rect x="116.12" y="187.87" width="5.83" height="5.82" fill="#0000b4"/>
<rect x="121.65" y="187.87" width="5.83" height="5.82" fill="#407400"/>
<rect x="127.18" y="187.87" width="5.83" height="5.82" fill="#0000b4"/>
<rect x="132.71" y="187.87" width="55.59" height="5.82" fill="#407400"/>
<rect x="188.0" y="187.87" width="5.83" height="5.82" fill="#0000b4"/>
<rect x="193.53" y="187.87" width="5.83" height="5.82" fill="#f5dc00"/>
<rect x="199.06" y="187.87" width="83.24" height="5.82" fill="#e43400"/>
<rect x="0.0" y="193.39" width="121.95" height="5.83" fill="#0000b4"/>
<rect x="121.65" y="193.39" width="33.47" height="5.83" fill="#407400"/>
<rect x="154.82" y="193.39" width="5.83" height="5.83" fill="#0000b4"/>
<rect x="160.35" y="193.39" width="22.42" height="5.83" fill="#407400"/>
<rect x="182.47" y="193.39" width="5.83" height="5.83" fill="#779400"/>
<rect x="188.0" y="193.39" width="5.83" height="5.83" fill="#407400"/>
<rect x="193.53" y="193.39" width="5.83" height="5.83" fill="#f2bd00"/>
<rect x="199.06" y="193.39" width="83.24" height="5.83" fill="#e43400"/>
<rect x="0.0" y="198.92" width="121.95" height="5.82" fill="#0000b4"/>
<rect x="121.65" y="198.92" width="66.65" height="5.82" fill="#407400"/>
<rect x="188.0" y="198.92" width="5.83" height="5.82" fill="#0000b4"/>
<rect x="193.53" y="198.92" width="5.83" height="5.82" fill="#407400"/>
<rect x="199.06" y="198.92" width="5.83" height="5.82" fill="#f2bd00"/>
<rect x="204.59" y="198.92" width="77.71" height="5.82" fill="#e43400"/>
<rect x="0.0" y="204.44" width="121.95" height="5.83" fill="#0000b4"/>
<rect x="121.65" y="204.44" width="83.24" height="5.83" fill="#407400"/>
<rect x="204.59" y="204.44" width="5.83" height="5.83" fill="#0000b4"/>
<rect x="210.12" y="204.44" width="72.18" height="5.83" fill="#e43400"/>
<rect x="0.0" y="209.97" width="99.83" height="5.82" fill="#0000b4"/>
<rect x="99.53" y="209.97" width="116.42" height="5.82" fill="#407400"/>
<rect x="215.65" y="209.97" width="5.83" height="5.82" fill="#ea7100"/>
<rect x="221.18" y="209.97" width="5.83" height="5.82" fill="#efa400"/>
<rect x="226.71" y="209.97" width="55.59" height="5.82" fill="#e43400"/>
<rect x="0.0" y="215.49" width="94.3" height="5.83" fill="#0000b4"/>
<rect x="94.0" y="215.49" width="121.95" height="5.83" fill="#407400"/>
<rect x="215.65" y="215.49" width="5.83" height="5.83" fill="#e43400"/>
<rect x="221.18" y="215.49" width="5.83" height="5.83" fill="#ea7100"/>
<rect x="226.71" y="215.49" width="55.59" height="5.83" fill="#e43400"/>
<rect x="0.0" y="221.02" width="88.77" height="5.83" fill="#0000b4"/>
<rect x="88.47" y="221.02" width="5.83" height="5.83" fill="#407400"/>
<rect x="94.0" y="221.02" width="5.83" height="5.83" fill="#0000b4"/>
<rect x="99.53" y="221.02" width="110.89" height="5.83" fill="#407400"/>
<rect x="210.12" y="221.02" width="22.42" height="5.83" fill="#0000b4"/>
<rect x="232.24" y="221.02" width="50.06" height="5.83" fill="#e43400"/>
<rect x="0.0" y="226.55" width="77.71" height="5.82" fill="#0000b4"/>
<rect x="77.41" y="226.55" width="11.36" height="5.82" fill="#407400"/>
<rect x="88.47" y="226.55" width="5.83" height="5.82" fill="#0000b4"/>
<rect x="94.0" y="226.55" width="133.01" height="5.82" fill="#407400"/>
<rect x="226.71" y="226.55" width="5.83" height="5.82" fill="#e43400"/>
<rect x="232.24" y="226.55" width="5.82" height="5.82" fill="#ea7100"/>
<rect x="237.76" y="226.55" width="44.54" height="5.82" fill="#e43400"/>
<rect x="0.0" y="232.07" width="88.77" height="5.83" fill="#0000b4"/>
<rect x="88.47" y="232.07" width="133.01" height="5.83" fill="#407400"/>
<rect x="221.18" y="232.07" width="5.83" height="5.83" fill="#0000b4"/>
<rect x="226.71" y="232.07" width="5.83" height="5.83" fill="#407400"/>
<rect x="232.24" y="232.07" width="5.82" height="5.83" fill="#f5dc00"/>
<rect x="237.76" y="232.07" width="44.54" height="5.83" fill="#e43400"/>
<rect x="0.0" y="237.6" width="77.71" height="5.82" fill="#0000b4"/>
<rect x="77.41" y="237.6" width="5.83" height="5.82" fill="#407400"/>
<rect x="82.94" y="237.6" width="5.83" height="5.82" fill="#0000b4"/>
<rect x="88.47" y="237.6" width="144.07" height="5.82" fill="#407400"/>
<rect x="232.24" y="237.6" width="5.82" height="5.82" fill="#0000b4"/>
<rect x="237.76" y="237.6" width="5.83" height="5.82" fill="#e43400"/>
<rect x="243.29" y="237.6" width="5.83" height="5.82" fill="#efa400"/>
<rect x="248.82" y="237.6" width="33.48" height="5.82" fill="#e43400"/>
<rect x="0.0" y="243.12" width="77.71" height="5.83" fill="#0000b4"/>
<rect x="77.41" y="243.12" width="160.65" height="5.83" fill="#407400"/>
<rect x="237.76" y="243.12" width="5.83" height="5.83" fill="#aeb300"/>
<rect x="243.29" y="243.12" width="5.83" height="5.83" fill="#f5dc00"/>
<rect x="248.82" y="243.12" width="5.83" height="5.83" fill="#0000b4"/>
<rect x="254.35" y="243.12" width="27.95" height="5.83" fill="#e43400"/>
<rect x="0.0" y="248.65" width="66.65" height="5.82" fill="#0000b4"/>
<rect x="66.35" y="248.65" width="182.77" height="5.82" fill="#407400"/>
<rect x="248.82" y="248.65" width="33.48" height="5.82" fill="#e43400"/>
<rect x="0.0" y="254.17" width="66.65" height="5.83" fill="#0000b4"/>
<rect x="66.35" y="254.17" width="188.3" height="5.83" fill="#407400"/>
<rect x="254.35" y="254.17" width="5.83" height="5.83" fill="#0000b4"/>
<rect x="259.88" y="254.17" width="22.42" height="5.83" fill="#e43400"/>
<rect x="0.0" y="259.7" width="61.12" height="5.82" fill="#0000b4"/>
<rect x="60.82" y="259.7" width="199.36" height="5.82" fill="#407400"/>
<rect x="259.88" y="259.7" width="22.42" height="5.82" fill="#e43400"/>
<rect x="0.0" y="265.22" width="50.06" height="5.83" fill="#0000b4"/>
<rect x="49.76" y="265.22" width="221.48" height="5.83" fill="#407400"/>
<rect x="270.94" y="265.22" width="11.36" height="5.83" fill="#e43400"/>
<rect x="0.0" y="270.75" width="44.54" height="5.82" fill="#0000b4"/>
<rect x="44.24" y="270.75" width="232.53" height="5.82" fill="#407400"/>
<rect x="276.47" y="270.75" width="5.83" height="5.82" fill="#e43400"/>
<rect x="0.0" y="276.27" width="39.01" height="5.83" fill="#0000b4"/>
<rect x="38.71" y="276.27" width="238.06" height="5.83" fill="#407400"/>
<rect x="276.47" y="276.27" width="5.83" height="5.83" fill="#f5dc00"/>
</g>
<g transform="translate(521.5,425.1)" shape-rendering="crispEdges">
<rect x="0.0" y="0.0" width="5.86" height="5.85" fill="#0000b4"/>
<rect x="5.56" y="0.0" width="167.06" height="5.85" fill="#407400"/>
<rect x="172.32" y="0.0" width="5.86" height="5.85" fill="#aeb300"/>
<rect x="177.88" y="0.0" width="5.86" height="5.85" fill="#d4c900"/>
<rect x="183.44" y="0.0" width="33.65" height="5.85" fill="#f5dc00"/>
<rect x="216.79" y="0.0" width="5.86" height="5.85" fill="#f4d700"/>
<rect x="222.35" y="0.0" width="5.86" height="5.85" fill="#f2c200"/>
<rect x="227.91" y="0.0" width="5.86" height="5.85" fill="#f0af00"/>
<rect x="233.47" y="0.0" width="5.86" height="5.85" fill="#ef9e00"/>
<rect x="239.03" y="0.0" width="5.86" height="5.85" fill="#ed9000"/>
<rect x="244.59" y="0.0" width="5.86" height="5.85" fill="#ec8400"/>
<rect x="250.15" y="0.0" width="5.86" height="5.85" fill="#eb7b00"/>
<rect x="255.71" y="0.0" width="5.85" height="5.85" fill="#ea7300"/>
<rect x="261.26" y="0.0" width="5.86" height="5.85" fill="#ea6d00"/>
<rect x="266.82" y="0.0" width="5.86" height="5.85" fill="#e96a00"/>
<rect x="272.38" y="0.0" width="11.42" height="5.85" fill="#e96700"/>
<rect x="0.0" y="5.55" width="11.42" height="5.85" fill="#e43400"/>
<rect x="11.12" y="5.55" width="139.27" height="5.85" fill="#407400"/>
<rect x="150.09" y="5.55" width="5.86" height="5.85" fill="#779400"/>
<rect x="155.65" y="5.55" width="5.86" height="5.85" fill="#d4c900"/>
<rect x="161.21" y="5.55" width="28.09" height="5.85" fill="#f5dc00"/>
<rect x="189.0" y="5.55" width="5.86" height="5.85" fill="#f4d700"/>
<rect x="194.56" y="5.55" width="5.86" height="5.85" fill="#f3c500"/>
<rect x="200.12" y="5.55" width="5.86" height="5.85" fill="#f1b500"/>
<rect x="205.68" y="5.55" width="5.86" height="5.85" fill="#f0a600"/>
<rect x="211.24" y="5.55" width="5.85" height="5.85" fill="#ee9900"/>
<rect x="216.79" y="5.55" width="5.86" height="5.85" fill="#ed8d00"/>
<rect x="222.35" y="5.55" width="5.86" height="5.85" fill="#ec8200"/>
<rect x="227.91" y="5.55" width="5.86" height="5.85" fill="#eb7800"/>
<rect x="233.47" y="5.55" width="5.86" height="5.85" fill="#ea6f00"/>
<rect x="239.03" y="5.55" width="5.86" height="5.85" fill="#e96800"/>
<rect x="244.59" y="5.55" width="5.86" height="5.85" fill="#e96200"/>
<rect x="250.15" y="5.55" width="5.86" height="5.85" fill="#e85d00"/>
<rect x="255.71" y="5.55" width="5.85" height="5.85" fill="#e85900"/>
<rect x="261.26" y="5.55" width="5.86" height="5.85" fill="#e75600"/>
<rect x="266.82" y="5.55" width="5.86" height="5.85" fill="#e75400"/>
<rect x="272.38" y="5.55" width="11.42" height="5.85" fill="#e75300"/>
<rect x="0.0" y="11.1" width="11.42" height="5.85" fill="#e43400"/>
<rect x="11.12" y="11.1" width="128.15" height="5.85" fill="#407400"/>
<rect x="138.97" y="11.1" width="5.86" height="5.85" fill="#aeb300"/>
<rect x="144.53" y="11.1" width="5.86" height="5.85" fill="#d4c900"/>
<rect x="150.09" y="11.1" width="33.65" height="5.85" fill="#f5dc00"/>
<rect x="183.44" y="11.1" width="5.86" height="5.85" fill="#f4d700"/>
<rect x="189.0" y="11.1" width="5.86" height="5.85" fill="#f3c600"/>
<rect x="194.56" y="11.1" width="5.86" height="5.85" fill="#f1b600"/>
<rect x="200.12" y="11.1" width="5.86" height="5.85" fill="#f0a700"/>
<rect x="205.68" y="11.1" width="5.86" height="5.85" fill="#ee9a00"/>
<rect x="211.24" y="11.1" width="5.85" height="5.85" fill="#ed8d00"/>
<rect x="216.79" y="11.1" width="5.86" height="5.85" fill="#ec8200"/>
<rect x="222.35" y="11.1" width="5.86" height="5.85" fill="#eb7800"/>
<rect x="227.91" y="11.1" width="5.86" height="5.85" fill="#ea6f00"/>
<rect x="233.47" y="11.1" width="5.86" height="5.85" fill="#e96800"/>
<rect x="239.03" y="11.1" width="5.86" height="5.85" fill="#e96100"/>
<rect x="244.59" y="11.1" width="5.86" height="5.85" fill="#e85b00"/>
<rect x="250.15" y="11.1" width="5.86" height="5.85" fill="#e85700"/>
<rect x="255.71" y="11.1" width="5.85" height="5.85" fill="#e75300"/>
<rect x="261.26" y="11.1" width="5.86" height="5.85" fill="#e75000"/>
<rect x="266.82" y="11.1" width="5.86" height="5.85" fill="#e74f00"/>
<rect x="272.38" y="11.1" width="5.86" height="5.85" fill="#e74e00"/>
<rect x="277.94" y="11.1" width="5.86" height="5.85" fill="#e74d00"/>
<rect x="0.0" y="16.65" width="16.98" height="5.85" fill="#e43400"/>
<rect x="16.68" y="16.65" width="117.03" height="5.85" fill="#407400"/>
<rect x="133.41" y="16.65" width="11.42" height="5.85" fill="#aeb300"/>
<rect x="144.53" y="16.65" width="5.86" height="5.85" fill="#d4c900"/>
<rect x="150.09" y="16.65" width="33.65" height="5.85" fill="#f5dc00"/>
<rect x="183.44" y="16.65" width="5.86" height="5.85" fill="#f4d700"/>
<rect x="189.0" y="16.65" width="5.86" height="5.85" fill="#f3c600"/>
<rect x="194.56" y="16.65" width="5.86" height="5.85" fill="#f1b600"/>
<rect x="200.12" y="16.65" width="5.86" height="5.85" fill="#f0a700"/>
<rect x="205.68" y="16.65" width="5.86" height="5.85" fill="#ee9a00"/>
<rect x="211.24" y="16.65" width="5.85" height="5.85" fill="#ed8d00"/>
<rect x="216.79" y="16.65" width="5.86" height="5.85" fill="#ec8200"/>
<rect x="222.35" y="16.65" width="5.86" height="5.85" fill="#eb7800"/>
<rect x="227.91" y="16.65" width="5.86" height="5.85" fill="#ea6f00"/>
<rect x="233.47" y="16.65" width="5.86" height="5.85" fill="#e96800"/>
<rect x="239.03" y="16.65" width="5.86" height="5.85" fill="#e96100"/>
<rect x="244.59" y="16.65" width="5.86" height="5.85" fill="#e85b00"/>
<rect x="250.15" y="16.65" width="5.86" height="5.85" fill="#e85700"/>
<rect x="255.71" y="16.65" width="5.85" height="5.85" fill="#e75300"/>
<rect x="261.26" y="16.65" width="5.86" height="5.85" fill="#e75000"/>
<rect x="266.82" y="16.65" width="5.86" height="5.85" fill="#e74f00"/>
<rect x="272.38" y="16.65" width="5.86" height="5.85" fill="#e74e00"/>
<rect x="277.94" y="16.65" width="5.86" height="5.85" fill="#e74d00"/>
<rect x="0.0" y="22.2" width="28.09" height="5.85" fill="#e43400"/>
<rect x="27.79" y="22.2" width="100.36" height="5.85" fill="#407400"/>
<rect x="127.85" y="22.2" width="5.86" height="5.85" fill="#779400"/>
<rect x="133.41" y="22.2" width="11.42" height="5.85" fill="#aeb300"/>
<rect x="144.53" y="22.2" width="33.65" height="5.85" fill="#f5dc00"/>
<rect x="177.88" y="22.2" width="5.86" height="5.85" fill="#f4d700"/>
<rect x="183.44" y="22.2" width="5.86" height="5.85" fill="#f3c700"/>
<rect x="189.0" y="22.2" width="5.86" height="5.85" fill="#f1b800"/>
<rect x="194.56" y="22.2" width="5.86" height="5.85" fill="#f0a900"/>
<rect x="200.12" y="22.2" width="5.86" height="5.85" fill="#ef9d00"/>
<rect x="205.68" y="22.2" width="5.86" height="5.85" fill="#ed9100"/>
<rect x="211.24" y="22.2" width="5.85" height="5.85" fill="#ec8600"/>
<rect x="216.79" y="22.2" width="5.86" height="5.85" fill="#eb7c00"/>
<rect x="222.35" y="22.2" width="5.86" height="5.85" fill="#ea7300"/>
<rect x="227.91" y="22.2" width="5.86" height="5.85" fill="#ea6b00"/>
<rect x="233.47" y="22.2" width="5.86" height="5.85" fill="#e96500"/>
<rect x="239.03" y="22.2" width="5.86" height="5.85" fill="#e85f00"/>
<rect x="244.59" y="22.2" width="5.86" height="5.85" fill="#e85a00"/>
<rect x="250.15" y="22.2" width="5.86" height="5.85" fill="#e75600"/>
<rect x="255.71" y="22.2" width="5.85" height="5.85" fill="#e75200"/>
<rect x="261.26" y="22.2" width="5.86" height="5.85" fill="#e75000"/>
<rect x="266.82" y="22.2" width="5.86" height="5.85" fill="#e74f00"/>
<rect x="272.38" y="22.2" width="5.86" height="5.85" fill="#e74e00"/>
<rect x="277.94" y="22.2" width="5.86" height="5.85" fill="#e74d00"/>
<rect x="0.0" y="27.75" width="28.09" height="5.84" fill="#e43400"/>
<rect x="27.79" y="27.75" width="5.86" height="5.84" fill="#f5dc00"/>
<rect x="33.35" y="27.75" width="94.8" height="5.84" fill="#407400"/>
<rect x="127.85" y="27.75" width="5.86" height="5.84" fill="#779400"/>
<rect x="133.41" y="27.75" width="5.86" height="5.84" fill="#d4c900"/>
<rect x="138.97" y="27.75" width="39.21" height="5.84" fill="#f5dc00"/>
<rect x="177.88" y="27.75" width="5.86" height="5.84" fill="#f4d700"/>
<rect x="183.44" y="27.75" width="5.86" height="5.84" fill="#f3c700"/>
<rect x="189.0" y="27.75" width="5.86" height="5.84" fill="#f1b800"/>
<rect x="194.56" y="27.75" width="5.86" height="5.84" fill="#f0a900"/>
<rect x="200.12" y="27.75" width="5.86" height="5.84" fill="#ef9d00"/>
<rect x="205.68" y="27.75" width="5.86" height="5.84" fill="#ed9100"/>
<rect x="211.24" y="27.75" width="5.85" height="5.84" fill="#ec8600"/>
<rect x="216.79" y="27.75" width="5.86" height="5.84" fill="#eb7c00"/>
<rect x="222.35" y="27.75" width="5.86" height="5.84" fill="#ea7300"/>
<rect x="227.91" y="27.75" width="5.86" height="5.84" fill="#ea6b00"/>
<rect x="233.47" y="27.75" width="5.86" height="5.84" fill="#e96500"/>
<rect x="239.03" y="27.75" width="5.86" height="5.84" fill="#e85f00"/>
<rect x="244.59" y="27.75" width="5.86" height="5.84" fill="#e85a00"/>
<rect x="250.15" y="27.75" width="5.86" height="5.84" fill="#e75600"/>
<rect x="255.71" y="27.75" width="5.85" height="5.84" fill="#e75200"/>
<rect x="261.26" y="27.75" width="5.86" height="5.84" fill="#e75000"/>
<rect x="266.82" y="27.75" width="5.86" height="5.84" fill="#e74f00"/>
<rect x="272.38" y="27.75" width="5.86" height="5.84" fill="#e74e00"/>
<rect x="277.94" y="27.75" width="5.86" height="5.84" fill="#e74d00"/>
<rect x="0.0" y="33.29" width="33.65" height="5.85" fill="#e43400"/>
<rect x="33.35" y="33.29" width="5.86" height="5.85" fill="#0000b4"/>
<rect x="38.91" y="33.29" width="89.24" height="5.85" fill="#407400"/>
<rect x="127.85" y="33.29" width="5.86" height="5.85" fill="#aeb300"/>
<rect x="133.41" y="33.29" width="5.86" height="5.85" fill="#d4c900"/>
<rect x="138.97" y="33.29" width="33.65" height="5.85" fill="#f5dc00"/>
<rect x="172.32" y="33.29" width="5.86" height="5.85" fill="#f4d700"/>
<rect x="177.88" y="33.29" width="5.86" height="5.85" fill="#f3c700"/>
<rect x="183.44" y="33.29" width="5.86" height="5.85" fill="#f1b800"/>
<rect x="189.0" y="33.29" width="5.86" height="5.85" fill="#f0a900"/>
<rect x="194.56" y="33.29" width="5.86" height="5.85" fill="#ef9d00"/>
<rect x="200.12" y="33.29" width="5.86" height="5.85" fill="#ed9100"/>
<rect x="205.68" y="33.29" width="5.86" height="5.85" fill="#ec8600"/>
<rect x="211.24" y="33.29" width="5.85" height="5.85" fill="#eb7c00"/>
<rect x="216.79" y="33.29" width="5.86" height="5.85" fill="#ea7300"/>
<rect x="222.35" y="33.29" width="5.86" height="5.85" fill="#ea6b00"/>
<rect x="227.91" y="33.29" width="5.86" height="5.85" fill="#e96500"/>
<rect x="233.47" y="33.29" width="5.86" height="5.85" fill="#e85f00"/>
<rect x="239.03" y="33.29" width="5.86" height="5.85" fill="#e85a00"/>
<rect x="244.59" y="33.29" width="5.86" height="5.85" fill="#e75600"/>
<rect x="250.15" y="33.29" width="5.86" height="5.85" fill="#e75200"/>
<rect x="255.71" y="33.29" width="5.85" height="5.85" fill="#e75000"/>
<rect x="261.26" y="33.29" width="5.86" height="5.85" fill="#e74f00"/>
<rect x="266.82" y="33.29" width="5.86" height="5.85" fill="#e74e00"/>
<rect x="272.38" y="33.29" width="5.86" height="5.85" fill="#e74d00"/>
<rect x="277.94" y="33.29" width="5.86" height="5.85" fill="#e43400"/>
<rect x="0.0" y="38.84" width="39.21" height="5.85" fill="#e43400"/>
<rect x="38.91" y="38.84" width="5.86" height="5.85" fill="#0000b4"/>
<rect x="44.47" y="38.84" width="83.68" height="5.85" fill="#407400"/>
<rect x="127.85" y="38.84" width="5.86" height="5.85" fill="#aeb300"/>
<rect x="133.41" y="38.84" width="5.86" height="5.85" fill="#d4c900"/>
<rect x="138.97" y="38.84" width="33.65" height="5.85" fill="#f5dc00"/>
<rect x="172.32" y="38.84" width="5.86" height="5.85" fill="#f4d700"/>
<rect x="177.88" y="38.84" width="5.86" height="5.85" fill="#f3c600"/>
<rect x="183.44" y="38.84" width="5.86" height="5.85" fill="#f1b600"/>
<rect x="189.0" y="38.84" width="5.86" height="5.85" fill="#f0a700"/>
<rect x="194.56" y="38.84" width="5.86" height="5.85" fill="#ee9a00"/>
<rect x="200.12" y="38.84" width="5.86" height="5.85" fill="#ed8d00"/>
<rect x="205.68" y="38.84" width="5.86" height="5.85" fill="#ec8200"/>
<rect x="211.24" y="38.84" width="5.85" height="5.85" fill="#eb7800"/>
<rect x="216.79" y="38.84" width="5.86" height="5.85" fill="#ea6f00"/>
<rect x="222.35" y="38.84" width="5.86" height="5.85" fill="#e96800"/>
<rect x="227.91" y="38.84" width="5.86" height="5.85" fill="#e96100"/>
<rect x="233.47" y="38.84" width="5.86" height="5.85" fill="#e85b00"/>
<rect x="239.03" y="38.84" width="5.86" height="5.85" fill="#e85700"/>
<rect x="244.59" y="38.84" width="5.86" height="5.85" fill="#e75300"/>
<rect x="250.15" y="38.84" width="5.86" height="5.85" fill="#e75000"/>
<rect x="255.71" y="38.84" width="5.85" height="5.85" fill="#e74f00"/>
<rect x="261.26" y="38.84" width="5.86" height="5.85" fill="#e74e00"/>
<rect x="266.82" y="38.84" width="5.86" height="5.85" fill="#e74d00"/>
<rect x="272.38" y="38.84" width="11.42" height="5.85" fill="#e43400"/>
<rect x="0.0" y="44.39" width="44.77" height="5.85" fill="#e43400"/>
<rect x="44.47" y="44.39" width="78.12" height="5.85" fill="#407400"/>
<rect x="122.29" y="44.39" width="5.86" height="5.85" fill="#779400"/>
<rect x="127.85" y="44.39" width="5.86" height="5.85" fill="#f5dc00"/>
<rect x="133.41" y="44.39" width="5.86" height="5.85" fill="#d4c900"/>
<rect x="138.97" y="44.39" width="33.65" height="5.85" fill="#f5dc00"/>
<rect x="172.32" y="44.39" width="5.86" height="5.85" fill="#f4d700"/>
<rect x="177.88" y="44.39" width="5.86" height="5.85" fill="#f3c500"/>
<rect x="183.44" y="44.39" width="5.86" height="5.85" fill="#f1b400"/>
<rect x="189.0" y="44.39" width="5.86" height="5.85" fill="#efa500"/>
<rect x="194.56" y="44.39" width="5.86" height="5.85" fill="#ee9600"/>
<rect x="200.12" y="44.39" width="5.86" height="5.85" fill="#ed8a00"/>
<rect x="205.68" y="44.39" width="5.86" height="5.85" fill="#ec7e00"/>
<rect x="211.24" y="44.39" width="5.85" height="5.85" fill="#ea7400"/>
<rect x="216.79" y="44.39" width="5.86" height="5.85" fill="#ea6b00"/>
<rect x="222.35" y="44.39" width="5.86" height="5.85" fill="#e96400"/>
<rect x="227.91" y="44.39" width="5.86" height="5.85" fill="#e85d00"/>
<rect x="233.47" y="44.39" width="5.86" height="5.85" fill="#e85800"/>
<rect x="239.03" y="44.39" width="5.86" height="5.85" fill="#e75400"/>
<rect x="244.59" y="44.39" width="5.86" height="5.85" fill="#e75100"/>
<rect x="250.15" y="44.39" width="5.86" height="5.85" fill="#e74f00"/>
<rect x="255.71" y="44.39" width="5.85" height="5.85" fill="#e74e00"/>
<rect x="261.26" y="44.39" width="5.86" height="5.85" fill="#e74d00"/>
<rect x="266.82" y="44.39" width="16.98" height="5.85" fill="#e43400"/>
<rect x="0.0" y="49.94" width="50.33" height="5.85" fill="#e43400"/>
<rect x="50.03" y="49.94" width="5.86" height="5.85" fill="#0000b4"/>
<rect x="55.59" y="49.94" width="67.0" height="5.85" fill="#407400"/>
<rect x="122.29" y="49.94" width="5.86" height="5.85" fill="#aeb300"/>
<rect x="127.85" y="49.94" width="5.86" height="5.85" fill="#d4c900"/>
<rect x="133.41" y="49.94" width="33.65" height="5.85" fill="#f5dc00"/>
<rect x="166.76" y="49.94" width="5.86" height="5.85" fill="#f4d700"/>
<rect x="172.32" y="49.94" width="5.86" height="5.85" fill="#f3c500"/>
<rect x="177.88" y="49.94" width="5.86" height="5.85" fill="#f1b400"/>
<rect x="183.44" y="49.94" width="5.86" height="5.85" fill="#efa500"/>
<rect x="189.0" y="49.94" width="5.86" height="5.85" fill="#ee9600"/>
<rect x="194.56" y="49.94" width="5.86" height="5.85" fill="#ed8a00"/>
<rect x="200.12" y="49.94" width="5.86" height="5.85" fill="#ec7e00"/>
<rect x="205.68" y="49.94" width="5.86" height="5.85" fill="#ea7400"/>
<rect x="211.24" y="49.94" width="5.85" height="5.85" fill="#ea6b00"/>
<rect x="216.79" y="49.94" width="5.86" height="5.85" fill="#e96400"/>
<rect x="222.35" y="49.94" width="5.86" height="5.85" fill="#e85d00"/>
<rect x="227.91" y="49.94" width="5.86" height="5.85" fill="#e85800"/>
<rect x="233.47" y="49.94" width="5.86" height="5.85" fill="#e75400"/>
<rect x="239.03" y="49.94" width="5.86" height="5.85" fill="#e75100"/>
<rect x="244.59" y="49.94" width="5.86" height="5.85" fill="#e74f00"/>
<rect x="250.15" y="49.94" width="5.86" height="5.85" fill="#e74e00"/>
<rect x="255.71" y="49.94" width="5.85" height="5.85" fill="#e74d00"/>
<rect x="261.26" y="49.94" width="22.54" height="5.85" fill="#e43400"/>
<rect x="0.0" y="55.49" width="55.89" height="5.85" fill="#e43400"/>
<rect x="55.59" y="55.49" width="5.86" height="5.85" fill="#0000b4"/>
<rect x="61.15" y="55.49" width="55.89" height="5.85" fill="#407400"/>
<rect x="116.74" y="55.49" width="5.85" height="5.85" fill="#779400"/>
<rect x="122.29" y="55.49" width="11.42" height="5.85" fill="#aeb300"/>
<rect x="133.41" y="55.49" width="33.65" height="5.85" fill="#f5dc00"/>
<rect x="166.76" y="55.49" width="5.86" height="5.85" fill="#f4d700"/>
<rect x="172.32" y="55.49" width="5.86" height="5.85" fill="#f3c400"/>
<rect x="177.88" y="55.49" width="5.86" height="5.85" fill="#f1b200"/>
<rect x="183.44" y="55.49" width="5.86" height="5.85" fill="#efa200"/>
<rect x="189.0" y="55.49" width="5.86" height="5.85" fill="#ee9300"/>
<rect x="194.56" y="55.49" width="5.86" height="5.85" fill="#ec8600"/>
<rect x="200.12" y="55.49" width="5.86" height="5.85" fill="#eb7a00"/>
<rect x="205.68" y="55.49" width="5.86" height="5.85" fill="#ea7000"/>
<rect x="211.24" y="55.49" width="5.85" height="5.85" fill="#e96700"/>
<rect x="216.79" y="55.49" width="5.86" height="5.85" fill="#e86000"/>
<rect x="222.35" y="55.49" width="5.86" height="5.85" fill="#e85a00"/>
<rect x="227.91" y="55.49" width="5.86" height="5.85" fill="#e75500"/>
<rect x="233.47" y="55.49" width="5.86" height="5.85" fill="#e75100"/>
<rect x="239.03" y="55.49" width="5.86" height="5.85" fill="#e74f00"/>
<rect x="244.59" y="55.49" width="5.86" height="5.85" fill="#e74e00"/>
<rect x="250.15" y="55.49" width="5.86" height="5.85" fill="#e74d00"/>
<rect x="255.71" y="55.49" width="28.09" height="5.85" fill="#e43400"/>
<rect x="0.0" y="61.04" width="61.45" height="5.85" fill="#e43400"/>
<rect x="61.15" y="61.04" width="44.77" height="5.85" fill="#407400"/>
<rect x="105.62" y="61.04" width="16.97" height="5.85" fill="#779400"/>
<rect x="122.29" y="61.04" width="5.86" height="5.85" fill="#f5dc00"/>
<rect x="127.85" y="61.04" width="5.86" height="5.85" fill="#407400"/>
<rect x="133.41" y="61.04" width="33.65" height="5.85" fill="#f5dc00"/>
<rect x="166.76" y="61.04" width="5.86" height="5.85" fill="#f4d700"/>
<rect x="172.32" y="61.04" width="5.86" height="5.85" fill="#f2c200"/>
<rect x="177.88" y="61.04" width="5.86" height="5.85" fill="#f0af00"/>
<rect x="183.44" y="61.04" width="5.86" height="5.85" fill="#ef9e00"/>
<rect x="189.0" y="61.04" width="5.86" height="5.85" fill="#ed8f00"/>
<rect x="194.56" y="61.04" width="5.86" height="5.85" fill="#ec8100"/>
<rect x="200.12" y="61.04" width="5.86" height="5.85" fill="#eb7600"/>
<rect x="205.68" y="61.04" width="5.86" height="5.85" fill="#ea6b00"/>
<rect x="211.24" y="61.04" width="5.85" height="5.85" fill="#e96300"/>
<rect x="216.79" y="61.04" width="5.86" height="5.85" fill="#e85c00"/>
<rect x="222.35" y="61.04" width="5.86" height="5.85" fill="#e75600"/>
<rect x="227.91" y="61.04" width="5.86" height="5.85" fill="#e75200"/>
<rect x="233.47" y="61.04" width="5.86" height="5.85" fill="#e74f00"/>
<rect x="239.03" y="61.04" width="5.86" height="5.85" fill="#e74e00"/>
<rect x="244.59" y="61.04" width="5.86" height="5.85" fill="#e74d00"/>
<rect x="250.15" y="61.04" width="33.65" height="5.85" fill="#e43400"/>
<rect x="0.0" y="66.59" width="72.56" height="5.85" fill="#e43400"/>
<rect x="72.26" y="66.59" width="44.78" height="5.85" fill="#407400"/>
<rect x="116.74" y="66.59" width="5.85" height="5.85" fill="#779400"/>
<rect x="122.29" y="66.59" width="5.86" height="5.85" fill="#d4c900"/>
<rect x="127.85" y="66.59" width="39.21" height="5.85" fill="#f5dc00"/>
<rect x="166.76" y="66.59" width="5.86" height="5.85" fill="#f4d700"/>
<rect x="172.32" y="66.59" width="5.86" height="5.85" fill="#f2c100"/>
<rect x="177.88" y="66.59" width="5.86" height="5.85" fill="#f0ad00"/>
<rect x="183.44" y="66.59" width="5.86" height="5.85" fill="#ee9b00"/>
<rect x="189.0" y="66.59" width="5.86" height="5.85" fill="#ed8b00"/>
<rect x="194.56" y="66.59" width="5.86" height="5.85" fill="#eb7d00"/>
<rect x="200.12" y="66.59" width="5.86" height="5.85" fill="#ea7100"/>
<rect x="205.68" y="66.59" width="5.86" height="5.85" fill="#e96700"/>
<rect x="211.24" y="66.59" width="5.85" height="5.85" fill="#e85e00"/>
<rect x="216.79" y="66.59" width="5.86" height="5.85" fill="#e85800"/>
<rect x="222.35" y="66.59" width="5.86" height="5.85" fill="#e75300"/>
<rect x="227.91" y="66.59" width="5.86" height="5.85" fill="#e75000"/>
<rect x="233.47" y="66.59" width="5.86" height="5.85" fill="#e74e00"/>
<rect x="239.03" y="66.59" width="5.86" height="5.85" fill="#e74d00"/>
<rect x="244.59" y="66.59" width="39.21" height="5.85" fill="#e43400"/>
<rect x="0.0" y="72.14" width="67.01" height="5.85" fill="#e43400"/>
<rect x="66.71" y="72.14" width="5.85" height="5.85" fill="#0000b4"/>
<rect x="72.26" y="72.14" width="5.86" height="5.85" fill="#e43400"/>
<rect x="77.82" y="72.14" width="5.86" height="5.85" fill="#407400"/>
<rect x="83.38" y="72.14" width="5.86" height="5.85" fill="#779400"/>
<rect x="88.94" y="72.14" width="5.86" height="5.85" fill="#407400"/>
<rect x="94.5" y="72.14" width="5.86" height="5.85" fill="#779400"/>
<rect x="100.06" y="72.14" width="16.98" height="5.85" fill="#407400"/>
<rect x="116.74" y="72.14" width="5.85" height="5.85" fill="#779400"/>
<rect x="122.29" y="72.14" width="5.86" height="5.85" fill="#d4c900"/>
<rect x="127.85" y="72.14" width="33.66" height="5.85" fill="#f5dc00"/>
<rect x="161.21" y="72.14" width="5.85" height="5.85" fill="#f4d700"/>
<rect x="166.76" y="72.14" width="5.86" height="5.85" fill="#f2c100"/>
<rect x="172.32" y="72.14" width="5.86" height="5.85" fill="#f0ad00"/>
<rect x="177.88" y="72.14" width="5.86" height="5.85" fill="#ee9b00"/>
<rect x="183.44" y="72.14" width="5.86" height="5.85" fill="#ed8b00"/>
<rect x="189.0" y="72.14" width="5.86" height="5.85" fill="#eb7d00"/>
<rect x="194.56" y="72.14" width="5.86" height="5.85" fill="#ea7100"/>
<rect x="200.12" y="72.14" width="5.86" height="5.85" fill="#e96700"/>
<rect x="205.68" y="72.14" width="5.86" height="5.85" fill="#e85e00"/>
<rect x="211.24" y="72.14" width="5.85" height="5.85" fill="#e85800"/>
<rect x="216.79" y="72.14" width="5.86" height="5.85" fill="#e75300"/>
<rect x="222.35" y="72.14" width="5.86" height="5.85" fill="#e75000"/>
<rect x="227.91" y="72.14" width="5.86" height="5.85" fill="#e74e00"/>
<rect x="233.47" y="72.14" width="5.86" height="5.85" fill="#e74d00"/>
<rect x="239.03" y="72.14" width="44.77" height="5.85" fill="#e43400"/>
<rect x="0.0" y="77.69" width="72.56" height="5.85" fill="#e43400"/>
<rect x="72.26" y="77.69" width="5.86" height="5.85" fill="#0000b4"/>
<rect x="77.82" y="77.69" width="5.86" height="5.85" fill="#407400"/>
<rect x="83.38" y="77.69" width="5.86" height="5.85" fill="#f5dc00"/>
<rect x="88.94" y="77.69" width="5.86" height="5.85" fill="#aeb300"/>
<rect x="94.5" y="77.69" width="5.86" height="5.85" fill="#407400"/>
<rect x="100.06" y="77.69" width="5.86" height="5.85" fill="#f5dc00"/>
<rect x="105.62" y="77.69" width="5.86" height="5.85" fill="#d4c900"/>
<rect x="111.18" y="77.69" width="5.86" height="5.85" fill="#779400"/>
<rect x="116.74" y="77.69" width="5.85" height="5.85" fill="#d4c900"/>
<rect x="122.29" y="77.69" width="39.22" height="5.85" fill="#f5dc00"/>
<rect x="161.21" y="77.69" width="5.85" height="5.85" fill="#f4d700"/>
<rect x="166.76" y="77.69" width="5.86" height="5.85" fill="#f2bf00"/>
<rect x="172.32" y="77.69" width="5.86" height="5.85" fill="#f0a900"/>
<rect x="177.88" y="77.69" width="5.86" height="5.85" fill="#ee9600"/>
<rect x="183.44" y="77.69" width="5.86" height="5.85" fill="#ec8600"/>
<rect x="189.0" y="77.69" width="5.86" height="5.85" fill="#eb7700"/>
<rect x="194.56" y="77.69" width="5.86" height="5.85" fill="#ea6b00"/>
<rect x="200.12" y="77.69" width="5.86" height="5.85" fill="#e96100"/>
<rect x="205.68" y="77.69" width="5.86" height="5.85" fill="#e85a00"/>
<rect x="211.24" y="77.69" width="5.85" height="5.85" fill="#e75400"/>
<rect x="216.79" y="77.69" width="5.86" height="5.85" fill="#e75000"/>
<rect x="222.35" y="77.69" width="5.86" height="5.85" fill="#e74e00"/>
<rect x="227.91" y="77.69" width="5.86" height="5.85" fill="#e74d00"/>
<rect x="233.47" y="77.69" width="50.33" height="5.85" fill="#e43400"/>
<rect x="0.0" y="83.24" width="72.56" height="5.84" fill="#e43400"/>
<rect x="72.26" y="83.24" width="11.42" height="5.84" fill="#0000b4"/>
<rect x="83.38" y="83.24" width="5.86" height="5.84" fill="#f5dc00"/>
<rect x="88.94" y="83.24" width="5.86" height="5.84" fill="#d4c900"/>
<rect x="94.5" y="83.24" width="5.86" height="5.84" fill="#f5dc00"/>
<rect x="100.06" y="83.24" width="5.86" height="5.84" fill="#d4c900"/>
<rect x="105.62" y="83.24" width="5.86" height="5.84" fill="#f5dc00"/>
<rect x="111.18" y="83.24" width="5.86" height="5.84" fill="#d4c900"/>
<rect x="116.74" y="83.24" width="5.85" height="5.84" fill="#aeb300"/>
<rect x="122.29" y="83.24" width="39.22" height="5.84" fill="#f5dc00"/>
<rect x="161.21" y="83.24" width="5.85" height="5.84" fill="#f4d700"/>
<rect x="166.76" y="83.24" width="5.86" height="5.84" fill="#f2bd00"/>
<rect x="172.32" y="83.24" width="5.86" height="5.84" fill="#f0a600"/>
<rect x="177.88" y="83.24" width="5.86" height="5.84" fill="#ed9200"/>
<rect x="183.44" y="83.24" width="5.86" height="5.84" fill="#ec8000"/>
<rect x="189.0" y="83.24" width="5.86" height="5.84" fill="#ea7200"/>
<rect x="194.56" y="83.24" width="5.86" height="5.84" fill="#e96600"/>
<rect x="200.12" y="83.24" width="5.86" height="5.84" fill="#e85c00"/>
<rect x="205.68" y="83.24" width="5.86" height="5.84" fill="#e75500"/>
<rect x="211.24" y="83.24" width="5.85" height="5.84" fill="#e75100"/>
<rect x="216.79" y="83.24" width="5.86" height="5.84" fill="#e74e00"/>
<rect x="222.35" y="83.24" width="5.86" height="5.84" fill="#e74d00"/>
<rect x="227.91" y="83.24" width="55.89" height="5.84" fill="#e43400"/>
<rect x="0.0" y="88.78" width="78.12" height="5.85" fill="#e43400"/>
<rect x="77.82" y="88.78" width="16.98" height="5.85" fill="#0000b4"/>
<rect x="94.5" y="88.78" width="11.42" height="5.85" fill="#407400"/>
<rect x="105.62" y="88.78" width="11.42" height="5.85" fill="#f5dc00"/>
<rect x="116.74" y="88.78" width="5.85" height="5.85" fill="#aeb300"/>
<rect x="122.29" y="88.78" width="33.66" height="5.85" fill="#f5dc00"/>
<rect x="155.65" y="88.78" width="5.86" height="5.85" fill="#f4d700"/>
<rect x="161.21" y="88.78" width="5.85" height="5.85" fill="#f2bd00"/>
<rect x="166.76" y="88.78" width="5.86" height="5.85" fill="#f0a600"/>
<rect x="172.32" y="88.78" width="5.86" height="5.85" fill="#ed9200"/>
<rect x="177.88" y="88.78" width="5.86" height="5.85" fill="#ec8000"/>
<rect x="183.44" y="88.78" width="5.86" height="5.85" fill="#ea7200"/>
<rect x="189.0" y="88.78" width="5.86" height="5.85" fill="#e96600"/>
<rect x="194.56" y="88.78" width="5.86" height="5.85" fill="#e85c00"/>
<rect x="200.12" y="88.78" width="5.86" height="5.85" fill="#e75500"/>
<rect x="205.68" y="88.78" width="5.86" height="5.85" fill="#e75100"/>
<rect x="211.24" y="88.78" width="5.85" height="5.85" fill="#e74e00"/>
<rect x="216.79" y="88.78" width="5.86" height="5.85" fill="#e74d00"/>
<rect x="222.35" y="88.78" width="61.45" height="5.85" fill="#e43400"/>
<rect x="0.0" y="94.33" width="83.68" height="5.85" fill="#e43400"/>
<rect x="83.38" y="94.33" width="16.98" height="5.85" fill="#0000b4"/>
<rect x="100.06" y="94.33" width="5.86" height="5.85" fill="#f5dc00"/>
<rect x="105.62" y="94.33" width="5.86" height="5.85" fill="#407400"/>
<rect x="111.18" y="94.33" width="44.77" height="5.85" fill="#f5dc00"/>
<rect x="155.65" y="94.33" width="5.86" height="5.85" fill="#f4d700"/>
<rect x="161.21" y="94.33" width="5.85" height="5.85" fill="#f2ba00"/>
<rect x="166.76" y="94.33" width="5.86" height="5.85" fill="#efa200"/>
<rect x="172.32" y="94.33" width="5.86" height="5.85" fill="#ed8c00"/>
<rect x="177.88" y="94.33" width="5.86" height="5.85" fill="#eb7a00"/>
<rect x="183.44" y="94.33" width="5.86" height="5.85" fill="#ea6b00"/>
<rect x="189.0" y="94.33" width="5.86" height="5.85" fill="#e86000"/>
<rect x="194.56" y="94.33" width="5.86" height="5.85" fill="#e85700"/>
<rect x="200.12" y="94.33" width="5.86" height="5.85" fill="#e75100"/>
<rect x="205.68" y="94.33" width="5.86" height="5.85" fill="#e74e00"/>
<rect x="211.24" y="94.33" width="5.85" height="5.85" fill="#e74d00"/>
<rect x="216.79" y="94.33" width="67.01" height="5.85" fill="#e43400"/>
<rect x="0.0" y="99.88" width="83.68" height="5.85" fill="#e43400"/>
<rect x="83.38" y="99.88" width="5.86" height="5.85" fill="#0000b4"/>
<rect x="88.94" y="99.88" width="16.98" height="5.85" fill="#e43400"/>
<rect x="105.62" y="99.88" width="5.86" height="5.85" fill="#d4c900"/>
<rect x="111.18" y="99.88" width="5.86" height="5.85" fill="#407400"/>
<rect x="116.74" y="99.88" width="5.85" height="5.85" fill="#f5dc00"/>
<rect x="122.29" y="99.88" width="5.86" height="5.85" fill="#d4c900"/>
<rect x="127.85" y="99.88" width="16.98" height="5.85" fill="#f5dc00"/>
<rect x="144.53" y="99.88" width="5.86" height="5.85" fill="#f4d700"/>
<rect x="150.09" y="99.88" width="5.86" height="5.85" fill="#f2bd00"/>
<rect x="155.65" y="99.88" width="5.86" height="5.85" fill="#f0a600"/>
<rect x="161.21" y="99.88" width="5.85" height="5.85" fill="#ed9200"/>
<rect x="166.76" y="99.88" width="5.86" height="5.85" fill="#ec8000"/>
<rect x="172.32" y="99.88" width="5.86" height="5.85" fill="#ea7200"/>
<rect x="177.88" y="99.88" width="5.86" height="5.85" fill="#e96600"/>
<rect x="183.44" y="99.88" width="5.86" height="5.85" fill="#e85c00"/>
<rect x="189.0" y="99.88" width="5.86" height="5.85" fill="#e75500"/>
<rect x="194.56" y="99.88" width="5.86" height="5.85" fill="#e75100"/>
<rect x="200.12" y="99.88" width="5.86" height="5.85" fill="#e74e00"/>
<rect x="205.68" y="99.88" width="5.86" height="5.85" fill="#e74d00"/>
<rect x="211.24" y="99.88" width="72.56" height="5.85" fill="#e43400"/>
<rect x="0.0" y="105.43" width="61.45" height="5.85" fill="#e43400"/>
<rect x="61.15" y="105.43" width="11.41" height="5.85" fill="#0000b4"/>
<rect x="72.26" y="105.43" width="5.86" height="5.85" fill="#e43400"/>
<rect x="77.82" y="105.43" width="5.86" height="5.85" fill="#0000b4"/>
<rect x="83.38" y="105.43" width="5.86" height="5.85" fill="#e43400"/>
<rect x="88.94" y="105.43" width="22.54" height="5.85" fill="#0000b4"/>
<rect x="111.18" y="105.43" width="22.53" height="5.85" fill="#f5dc00"/>
<rect x="133.41" y="105.43" width="5.86" height="5.85" fill="#f4d700"/>
<rect x="138.97" y="105.43" width="5.86" height="5.85" fill="#f2bf00"/>
<rect x="144.53" y="105.43" width="5.86" height="5.85" fill="#f0a900"/>
<rect x="150.09" y="105.43" width="5.86" height="5.85" fill="#ee9600"/>
<rect x="155.65" y="105.43" width="5.86" height="5.85" fill="#ec8600"/>
<rect x="161.21" y="105.43" width="5.85" height="5.85" fill="#eb7700"/>
<rect x="166.76" y="105.43" width="5.86" height="5.85" fill="#ea6b00"/>
<rect x="172.32" y="105.43" width="5.86" height="5.85" fill="#e96100"/>
<rect x="177.88" y="105.43" width="5.86" height="5.85" fill="#e85a00"/>
<rect x="183.44" y="105.43" width="5.86" height="5.85" fill="#e75400"/>
<rect x="189.0" y="105.43" width="5.86" height="5.85" fill="#e75000"/>
<rect x="194.56" y="105.43" width="5.86" height="5.85" fill="#e74e00"/>
<rect x="200.12" y="105.43" width="5.86" height="5.85" fill="#e74d00"/>
<rect x="205.68" y="105.43" width="78.12" height="5.85" fill="#e43400"/>
<rect x="0.0" y="110.98" width="61.45" height="5.85" fill="#e43400"/>
<rect x="61.15" y="110.98" width="16.97" height="5.85" fill="#0000b4"/>
<rect x="77.82" y="110.98" width="5.86" height="5.85" fill="#e43400"/>
<rect x="83.38" y="110.98" width="28.1" height="5.85" fill="#0000b4"/>
<rect x="111.18" y="110.98" width="22.53" height="5.85" fill="#f5dc00"/>
<rect x="133.41" y="110.98" width="5.86" height="5.85" fill="#f4d700"/>
<rect x="138.97" y="110.98" width="5.86" height="5.85" fill="#f2bd00"/>
<rect x="144.53" y="110.98" width="5.86" height="5.85" fill="#f0a600"/>
<rect x="150.09" y="110.98" width="5.86" height="5.85" fill="#ed9200"/>
<rect x="155.65" y="110.98" width="5.86" height="5.85" fill="#ec8000"/>
<rect x="161.21" y="110.98" width="5.85" height="5.85" fill="#ea7200"/>
<rect x="166.76" y="110.98" width="5.86" height="5.85" fill="#e96600"/>
<rect x="172.32" y="110.98" width="5.86" height="5.85" fill="#e85c00"/>
<rect x="177.88" y="110.98" width="5.86" height="5.85" fill="#e75500"/>
<rect x="183.44" y="110.98" width="5.86" height="5.85" fill="#e75100"/>
<rect x="189.0" y="110.98" width="5.86" height="5.85" fill="#e74e00"/>
<rect x="194.56" y="110.98" width="5.86" height="5.85" fill="#e74d00"/>
<rect x="200.12" y="110.98" width="83.68" height="5.85" fill="#e43400"/>
<rect x="0.0" y="116.53" width="55.89" height="5.85" fill="#e43400"/>
<rect x="55.59" y="116.53" width="28.09" height="5.85" fill="#0000b4"/>
<rect x="83.38" y="116.53" width="5.86" height="5.85" fill="#e43400"/>
<rect x="88.94" y="116.53" width="22.54" height="5.85" fill="#0000b4"/>
<rect x="111.18" y="116.53" width="5.86" height="5.85" fill="#e43400"/>
<rect x="116.74" y="116.53" width="5.85" height="5.85" fill="#407400"/>
<rect x="122.29" y="116.53" width="11.42" height="5.85" fill="#f5dc00"/>
<rect x="133.41" y="116.53" width="5.86" height="5.85" fill="#f4d700"/>
<rect x="138.97" y="116.53" width="5.86" height="5.85" fill="#f2ba00"/>
<rect x="144.53" y="116.53" width="5.86" height="5.85" fill="#efa200"/>
<rect x="150.09" y="116.53" width="5.86" height="5.85" fill="#ed8c00"/>
<rect x="155.65" y="116.53" width="5.86" height="5.85" fill="#eb7a00"/>
<rect x="161.21" y="116.53" width="5.85" height="5.85" fill="#ea6b00"/>
<rect x="166.76" y="116.53" width="5.86" height="5.85" fill="#e86000"/>
<rect x="172.32" y="116.53" width="5.86" height="5.85" fill="#e85700"/>
<rect x="177.88" y="116.53" width="5.86" height="5.85" fill="#e75100"/>
<rect x="183.44" y="116.53" width="5.86" height="5.85" fill="#e74e00"/>
<rect x="189.0" y="116.53" width="5.86" height="5.85" fill="#e74d00"/>
<rect x="194.56" y="116.53" width="89.24" height="5.85" fill="#e43400"/>
<rect x="0.0" y="122.08" width="39.21" height="5.85" fill="#e43400"/>
<rect x="38.91" y="122.08" width="72.57" height="5.85" fill="#0000b4"/>
<rect x="111.18" y="122.08" width="11.41" height="5.85" fill="#e43400"/>
<rect x="122.29" y="122.08" width="11.42" height="5.85" fill="#407400"/>
<rect x="133.41" y="122.08" width="5.86" height="5.85" fill="#f5dc00"/>
<rect x="138.97" y="122.08" width="5.86" height="5.85" fill="#f2c300"/>
<rect x="144.53" y="122.08" width="5.86" height="5.85" fill="#f0a600"/>
<rect x="150.09" y="122.08" width="5.86" height="5.85" fill="#ed8e00"/>
<rect x="155.65" y="122.08" width="5.86" height="5.85" fill="#eb7a00"/>
<rect x="161.21" y="122.08" width="5.85" height="5.85" fill="#ea6b00"/>
<rect x="166.76" y="122.08" width="5.86" height="5.85" fill="#e85f00"/>
<rect x="172.32" y="122.08" width="5.86" height="5.85" fill="#e85800"/>
<rect x="177.88" y="122.08" width="5.86" height="5.85" fill="#e75400"/>
<rect x="183.44" y="122.08" width="5.86" height="5.85" fill="#e75300"/>
<rect x="189.0" y="122.08" width="94.8" height="5.85" fill="#e43400"/>
<rect x="0.0" y="127.63" width="16.98" height="5.85" fill="#e43400"/>
<rect x="16.68" y="127.63" width="105.91" height="5.85" fill="#0000b4"/>
<rect x="122.29" y="127.63" width="5.86" height="5.85" fill="#e43400"/>
<rect x="127.85" y="127.63" width="11.42" height="5.85" fill="#407400"/>
<rect x="138.97" y="127.63" width="5.86" height="5.85" fill="#f2c300"/>
<rect x="144.53" y="127.63" width="5.86" height="5.85" fill="#efa200"/>
<rect x="150.09" y="127.63" width="5.86" height="5.85" fill="#ec8800"/>
<rect x="155.65" y="127.63" width="5.86" height="5.85" fill="#ea7300"/>
<rect x="161.21" y="127.63" width="5.85" height="5.85" fill="#e96400"/>
<rect x="166.76" y="127.63" width="5.86" height="5.85" fill="#e85a00"/>
<rect x="172.32" y="127.63" width="5.86" height="5.85" fill="#e75400"/>
<rect x="177.88" y="127.63" width="5.86" height="5.85" fill="#e75300"/>
<rect x="183.44" y="127.63" width="100.36" height="5.85" fill="#e43400"/>
<rect x="0.0" y="133.18" width="16.98" height="5.85" fill="#e43400"/>
<rect x="16.68" y="133.18" width="122.59" height="5.85" fill="#0000b4"/>
<rect x="138.97" y="133.18" width="5.86" height="5.85" fill="#f5dc00"/>
<rect x="144.53" y="133.18" width="5.86" height="5.85" fill="#f0ae00"/>
<rect x="150.09" y="133.18" width="5.86" height="5.85" fill="#ed8b00"/>
<rect x="155.65" y="133.18" width="5.86" height="5.85" fill="#ea7000"/>
<rect x="161.21" y="133.18" width="5.85" height="5.85" fill="#e85f00"/>
<rect x="166.76" y="133.18" width="5.86" height="5.85" fill="#e75500"/>
<rect x="172.32" y="133.18" width="5.86" height="5.85" fill="#e75300"/>
<rect x="177.88" y="133.18" width="105.92" height="5.85" fill="#e43400"/>
<rect x="0.0" y="138.73" width="11.42" height="5.84" fill="#e43400"/>
<rect x="11.12" y="138.73" width="122.59" height="5.84" fill="#0000b4"/>
<rect x="133.41" y="138.73" width="5.86" height="5.84" fill="#407400"/>
<rect x="138.97" y="138.73" width="5.86" height="5.84" fill="#e43400"/>
<rect x="144.53" y="138.73" width="5.86" height="5.84" fill="#efa400"/>
<rect x="150.09" y="138.73" width="5.86" height="5.84" fill="#eb7e00"/>
<rect x="155.65" y="138.73" width="5.86" height="5.84" fill="#e96400"/>
<rect x="161.21" y="138.73" width="5.85" height="5.84" fill="#e75600"/>
<rect x="166.76" y="138.73" width="5.86" height="5.84" fill="#e75300"/>
<rect x="172.32" y="138.73" width="111.48" height="5.84" fill="#e43400"/>
<rect x="0.0" y="144.27" width="11.42" height="5.85" fill="#e43400"/>
<rect x="11.12" y="144.27" width="128.15" height="5.85" fill="#0000b4"/>
<rect x="138.97" y="144.27" width="5.86" height="5.85" fill="#e43400"/>
<rect x="144.53" y="144.27" width="5.86" height="5.85" fill="#f5dc00"/>
<rect x="150.09" y="144.27" width="5.86" height="5.85" fill="#ea7100"/>
<rect x="155.65" y="144.27" width="5.86" height="5.85" fill="#e75300"/>
<rect x="161.21" y="144.27" width="122.59" height="5.85" fill="#e43400"/>
<rect x="0.0" y="149.82" width="5.86" height="5.85" fill="#e43400"/>
<rect x="5.56" y="149.82" width="139.27" height="5.85" fill="#0000b4"/>
<rect x="144.53" y="149.82" width="5.86" height="5.85" fill="#407400"/>
<rect x="150.09" y="149.82" width="5.86" height="5.85" fill="#0000b4"/>
<rect x="155.65" y="149.82" width="128.15" height="5.85" fill="#e43400"/>
<rect x="0.0" y="155.37" width="5.86" height="5.85" fill="#e43400"/>
<rect x="5.56" y="155.37" width="150.39" height="5.85" fill="#0000b4"/>
<rect x="155.65" y="155.37" width="5.86" height="5.85" fill="#e43400"/>
<rect x="161.21" y="155.37" width="5.85" height="5.85" fill="#efa400"/>
<rect x="166.76" y="155.37" width="117.04" height="5.85" fill="#e43400"/>
<rect x="0.0" y="160.92" width="5.86" height="5.85" fill="#e43400"/>
<rect x="5.56" y="160.92" width="139.27" height="5.85" fill="#0000b4"/>
<rect x="144.53" y="160.92" width="22.53" height="5.85" fill="#407400"/>
<rect x="166.76" y="160.92" width="5.86" height="5.85" fill="#f2bd00"/>
<rect x="172.32" y="160.92" width="111.48" height="5.85" fill="#e43400"/>
<rect x="0.0" y="166.47" width="139.27" height="5.85" fill="#0000b4"/>
<rect x="138.97" y="166.47" width="28.09" height="5.85" fill="#407400"/>
<rect x="166.76" y="166.47" width="5.86" height="5.85" fill="#f2bd00"/>
<rect x="172.32" y="166.47" width="111.48" height="5.85" fill="#e43400"/>
<rect x="0.0" y="172.02" width="133.71" height="5.85" fill="#0000b4"/>
<rect x="133.41" y="172.02" width="33.65" height="5.85" fill="#407400"/>
<rect x="166.76" y="172.02" width="11.42" height="5.85" fill="#0000b4"/>
<rect x="177.88" y="172.02" width="105.92" height="5.85" fill="#e43400"/>
<rect x="0.0" y="177.57" width="128.15" height="5.85" fill="#0000b4"/>
<rect x="127.85" y="177.57" width="50.33" height="5.85" fill="#407400"/>
<rect x="177.88" y="177.57" width="105.92" height="5.85" fill="#e43400"/>
<rect x="0.0" y="183.12" width="122.59" height="5.85" fill="#0000b4"/>
<rect x="122.29" y="183.12" width="61.45" height="5.85" fill="#407400"/>
<rect x="183.44" y="183.12" width="5.86" height="5.85" fill="#efa400"/>
<rect x="189.0" y="183.12" width="94.8" height="5.85" fill="#e43400"/>
<rect x="0.0" y="188.67" width="117.04" height="5.85" fill="#0000b4"/>
<rect x="116.74" y="188.67" width="72.56" height="5.85" fill="#407400"/>
<rect x="189.0" y="188.67" width="5.86" height="5.85" fill="#0000b4"/>
<rect x="194.56" y="188.67" width="89.24" height="5.85" fill="#e43400"/>
<rect x="0.0" y="194.22" width="111.48" height="5.84" fill="#0000b4"/>
<rect x="111.18" y="194.22" width="83.68" height="5.84" fill="#407400"/>
<rect x="194.56" y="194.22" width="5.86" height="5.84" fill="#0000b4"/>
<rect x="200.12" y="194.22" width="83.68" height="5.84" fill="#e43400"/>
<rect x="0.0" y="199.76" width="105.92" height="5.85" fill="#0000b4"/>
<rect x="105.62" y="199.76" width="94.8" height="5.85" fill="#407400"/>
<rect x="200.12" y="199.76" width="5.86" height="5.85" fill="#0000b4"/>
<rect x="205.68" y="199.76" width="78.12" height="5.85" fill="#e43400"/>
<rect x="0.0" y="205.31" width="100.36" height="5.85" fill="#0000b4"/>
<rect x="100.06" y="205.31" width="105.92" height="5.85" fill="#407400"/>
<rect x="205.68" y="205.31" width="78.12" height="5.85" fill="#e43400"/>
<rect x="0.0" y="210.86" width="94.8" height="5.85" fill="#0000b4"/>
<rect x="94.5" y="210.86" width="122.59" height="5.85" fill="#407400"/>
<rect x="216.79" y="210.86" width="67.01" height="5.85" fill="#e43400"/>
<rect x="0.0" y="216.41" width="94.8" height="5.85" fill="#0000b4"/>
<rect x="94.5" y="216.41" width="122.59" height="5.85" fill="#407400"/>
<rect x="216.79" y="216.41" width="67.01" height="5.85" fill="#e43400"/>
<rect x="0.0" y="221.96" width="83.68" height="5.85" fill="#0000b4"/>
<rect x="83.38" y="221.96" width="144.83" height="5.85" fill="#407400"/>
<rect x="227.91" y="221.96" width="55.89" height="5.85" fill="#e43400"/>
<rect x="0.0" y="227.51" width="78.12" height="5.85" fill="#0000b4"/>
<rect x="77.82" y="227.51" width="150.39" height="5.85" fill="#407400"/>
<rect x="227.91" y="227.51" width="55.89" height="5.85" fill="#e43400"/>
<rect x="0.0" y="233.06" width="72.56" height="5.85" fill="#0000b4"/>
<rect x="72.26" y="233.06" width="167.07" height="5.85" fill="#407400"/>
<rect x="239.03" y="233.06" width="44.77" height="5.85" fill="#e43400"/>
<rect x="0.0" y="238.61" width="72.56" height="5.85" fill="#0000b4"/>
<rect x="72.26" y="238.61" width="167.07" height="5.85" fill="#407400"/>
<rect x="239.03" y="238.61" width="5.86" height="5.85" fill="#f2bd00"/>
<rect x="244.59" y="238.61" width="39.21" height="5.85" fill="#e43400"/>
<rect x="0.0" y="244.16" width="61.45" height="5.85" fill="#0000b4"/>
<rect x="61.15" y="244.16" width="183.74" height="5.85" fill="#407400"/>
<rect x="244.59" y="244.16" width="5.86" height="5.85" fill="#f2bd00"/>
<rect x="250.15" y="244.16" width="33.65" height="5.85" fill="#e43400"/>
<rect x="0.0" y="249.71" width="61.45" height="5.84" fill="#0000b4"/>
<rect x="61.15" y="249.71" width="189.3" height="5.84" fill="#407400"/>
<rect x="250.15" y="249.71" width="33.65" height="5.84" fill="#e43400"/>
<rect x="0.0" y="255.25" width="50.33" height="5.85" fill="#0000b4"/>
<rect x="50.03" y="255.25" width="211.53" height="5.85" fill="#407400"/>
<rect x="261.26" y="255.25" width="22.54" height="5.85" fill="#e43400"/>
<rect x="0.0" y="260.8" width="50.33" height="5.85" fill="#0000b4"/>
<rect x="50.03" y="260.8" width="211.53" height="5.85" fill="#407400"/>
<rect x="261.26" y="260.8" width="5.86" height="5.85" fill="#0000b4"/>
<rect x="266.82" y="260.8" width="16.98" height="5.85" fill="#e43400"/>
<rect x="0.0" y="266.35" width="39.21" height="5.85" fill="#0000b4"/>
<rect x="38.91" y="266.35" width="228.21" height="5.85" fill="#407400"/>
<rect x="266.82" y="266.35" width="5.86" height="5.85" fill="#0000b4"/>
<rect x="272.38" y="266.35" width="11.42" height="5.85" fill="#e43400"/>
<rect x="0.0" y="271.9" width="33.65" height="5.85" fill="#0000b4"/>
<rect x="33.35" y="271.9" width="244.89" height="5.85" fill="#407400"/>
<rect x="277.94" y="271.9" width="5.86" height="5.85" fill="#e43400"/>
<rect x="0.0" y="277.45" width="28.09" height="5.85" fill="#0000b4"/>
<rect x="27.79" y="277.45" width="250.45" height="5.85" fill="#407400"/>
<rect x="277.94" y="277.45" width="5.86" height="5.85" fill="#0000b4"/>
</g>
<text transform="translate(369.25,103.00) scale(1.0000,1)" font-size="52.8">(a)</text>
<text transform="translate(740.95,102.30) scale(1.0000,1)" font-size="52.8">(b)</text>
<text transform="translate(369.55,465.40) scale(1.0000,1)" font-size="52.8">(c)</text>
<text transform="translate(743.35,465.40) scale(1.0000,1)" font-size="52.8">(d)</text>
<line x1="521.3" y1="61.3" x2="804.6" y2="344.3" stroke="#fff" stroke-width="2.4" stroke-dasharray="9.6 4.5"/>
<line x1="662.95" y1="344.3" x2="804.6" y2="202.8" stroke="#fff" stroke-width="2.9"/>
<line x1="521.5" y1="425.1" x2="805.0" y2="708.1" stroke="#fff" stroke-width="2.4" stroke-dasharray="9.6 4.5"/>
<line x1="549.85" y1="708.1" x2="805.0" y2="453.4" stroke="#fff" stroke-width="2.9"/>
<rect x="147.1" y="63.4" width="282.0" height="282.2" fill="none" stroke="#000" stroke-width="1.6"/>
<line x1="147.10" y1="345.60" x2="147.10" y2="352.80" stroke="#000" stroke-width="1.6"/>
<line x1="139.50" y1="345.60" x2="147.10" y2="345.60" stroke="#000" stroke-width="1.6"/>
<text transform="translate(128.72,377.50) scale(0.9550,1)" font-size="30.7">0.0</text>
<text transform="translate(99.11,356.00) scale(0.9550,1)" font-size="30.7">0.0</text>
<line x1="288.10" y1="345.60" x2="288.10" y2="352.80" stroke="#000" stroke-width="1.6"/>
<line x1="139.50" y1="204.50" x2="147.10" y2="204.50" stroke="#000" stroke-width="1.6"/>
<text transform="translate(269.78,377.50) scale(0.9550,1)" font-size="30.7">0.5</text>
<text transform="translate(99.23,214.90) scale(0.9550,1)" font-size="30.7">0.5</text>
<line x1="429.10" y1="345.60" x2="429.10" y2="352.80" stroke="#000" stroke-width="1.6"/>
<line x1="139.50" y1="63.40" x2="147.10" y2="63.40" stroke="#000" stroke-width="1.6"/>
<text transform="translate(409.94,377.50) scale(0.9550,1)" font-size="30.7">1.0</text>
<text transform="translate(99.11,73.80) scale(0.9550,1)" font-size="30.7">1.0</text>
<rect x="521.3" y="61.3" width="283.3" height="283.0" fill="none" stroke="#000" stroke-width="1.6"/>
<line x1="521.30" y1="344.30" x2="521.30" y2="351.50" stroke="#000" stroke-width="1.6"/>
<line x1="513.70" y1="344.30" x2="521.30" y2="344.30" stroke="#000" stroke-width="1.6"/>
<text transform="translate(502.92,376.20) scale(0.9550,1)" font-size="30.7">0.0</text>
<text transform="translate(473.31,354.70) scale(0.9550,1)" font-size="30.7">0.0</text>
<line x1="662.95" y1="344.30" x2="662.95" y2="351.50" stroke="#000" stroke-width="1.6"/>
<line x1="513.70" y1="202.80" x2="521.30" y2="202.80" stroke="#000" stroke-width="1.6"/>
<text transform="translate(644.63,376.20) scale(0.9550,1)" font-size="30.7">0.5</text>
<text transform="translate(473.43,213.20) scale(0.9550,1)" font-size="30.7">0.5</text>
<line x1="804.60" y1="344.30" x2="804.60" y2="351.50" stroke="#000" stroke-width="1.6"/>
<line x1="513.70" y1="61.30" x2="521.30" y2="61.30" stroke="#000" stroke-width="1.6"/>
<text transform="translate(785.44,376.20) scale(0.9550,1)" font-size="30.7">1.0</text>
<text transform="translate(473.31,71.70) scale(0.9550,1)" font-size="30.7">1.0</text>
<rect x="147.5" y="426.0" width="282.0" height="281.8" fill="none" stroke="#000" stroke-width="1.6"/>
<line x1="147.50" y1="707.80" x2="147.50" y2="715.00" stroke="#000" stroke-width="1.6"/>
<line x1="139.90" y1="707.80" x2="147.50" y2="707.80" stroke="#000" stroke-width="1.6"/>
<text transform="translate(129.12,739.70) scale(0.9550,1)" font-size="30.7">0.0</text>
<text transform="translate(99.51,718.20) scale(0.9550,1)" font-size="30.7">0.0</text>
<line x1="288.50" y1="707.80" x2="288.50" y2="715.00" stroke="#000" stroke-width="1.6"/>
<line x1="139.90" y1="566.90" x2="147.50" y2="566.90" stroke="#000" stroke-width="1.6"/>
<text transform="translate(270.18,739.70) scale(0.9550,1)" font-size="30.7">0.5</text>
<text transform="translate(99.63,577.30) scale(0.9550,1)" font-size="30.7">0.5</text>
<line x1="429.50" y1="707.80" x2="429.50" y2="715.00" stroke="#000" stroke-width="1.6"/>
<line x1="139.90" y1="426.00" x2="147.50" y2="426.00" stroke="#000" stroke-width="1.6"/>
<text transform="translate(410.34,739.70) scale(0.9550,1)" font-size="30.7">1.0</text>
<text transform="translate(99.51,436.40) scale(0.9550,1)" font-size="30.7">1.0</text>
<rect x="521.5" y="425.1" width="283.5" height="283.0" fill="none" stroke="#000" stroke-width="1.6"/>
<line x1="521.50" y1="708.10" x2="521.50" y2="715.30" stroke="#000" stroke-width="1.6"/>
<line x1="513.90" y1="708.10" x2="521.50" y2="708.10" stroke="#000" stroke-width="1.6"/>
<text transform="translate(503.12,740.00) scale(0.9550,1)" font-size="30.7">0.0</text>
<text transform="translate(473.51,718.50) scale(0.9550,1)" font-size="30.7">0.0</text>
<line x1="663.25" y1="708.10" x2="663.25" y2="715.30" stroke="#000" stroke-width="1.6"/>
<line x1="513.90" y1="566.60" x2="521.50" y2="566.60" stroke="#000" stroke-width="1.6"/>
<text transform="translate(644.93,740.00) scale(0.9550,1)" font-size="30.7">0.5</text>
<text transform="translate(473.63,577.00) scale(0.9550,1)" font-size="30.7">0.5</text>
<line x1="805.00" y1="708.10" x2="805.00" y2="715.30" stroke="#000" stroke-width="1.6"/>
<line x1="513.90" y1="425.10" x2="521.50" y2="425.10" stroke="#000" stroke-width="1.6"/>
<text transform="translate(785.84,740.00) scale(0.9550,1)" font-size="30.7">1.0</text>
<text transform="translate(473.51,435.50) scale(0.9550,1)" font-size="30.7">1.0</text>
<text transform="translate(218.59,25.80) scale(1.0142,1)" font-size="35.4" font-style="italic">δ</text>
<text transform="translate(244.05,26.40) scale(1.7835,1)" font-size="29">=</text>
<text transform="translate(283.04,25.70) scale(1.0878,1)" font-size="33">0.75</text>
<text transform="translate(586.59,24.80) scale(1.0142,1)" font-size="35.4" font-style="italic">δ</text>
<text transform="translate(612.54,25.40) scale(1.7908,1)" font-size="29">=</text>
<text transform="translate(651.01,24.70) scale(1.1084,1)" font-size="33">0.99</text>
<text transform="translate(27.20,263.91) rotate(-90) scale(1.1158,1)" font-size="40.5" font-style="italic">r</text>
<text transform="translate(28.70,233.78) rotate(-90) scale(1.5881,1)" font-size="36">=</text>
<text transform="translate(27.20,191.62) rotate(-90) scale(1.0394,1)" font-size="39.5">2</text>
<text transform="translate(26.50,627.34) rotate(-90) scale(1.1930,1)" font-size="40.5" font-style="italic">r</text>
<text transform="translate(28.40,597.17) rotate(-90) scale(1.5284,1)" font-size="36">=</text>
<text transform="translate(26.50,556.12) rotate(-90) scale(1.0141,1)" font-size="38.5">10</text>
<text transform="translate(61.02,208.50) scale(1.0345,1)" font-size="49" font-style="italic">q</text>
<text transform="translate(61.02,572.10) scale(1.0345,1)" font-size="49" font-style="italic">q</text>
<text transform="translate(277.80,771.00) scale(1.0667,1)" font-size="45.5" font-style="italic">p</text>
<text transform="translate(652.18,771.50) scale(1.0583,1)" font-size="45.5" font-style="italic">p</text>
<text transform="translate(7.57,832.00) scale(1.0651,1)" font-size="34" font-weight="bold">Colour:</text>
<text transform="translate(51.04,882.00) scale(1.0613,1)" font-size="34" font-weight="bold">ESS:</text>
<circle cx="213" cy="820.5" r="18.3" fill="#0000cd" stroke="#000" stroke-width="1"/>
<circle cx="370.2" cy="820.8" r="18.3" fill="#005000" stroke="#000" stroke-width="1"/>
<circle cx="762.2" cy="820.8" r="18.3" fill="#e60000" stroke="#000" stroke-width="1"/>
<defs><linearGradient id="cb" x1="0" x2="1" y1="0" y2="0"><stop offset="0" stop-color="#006400"/><stop offset="0.33" stop-color="#f0dc00"/><stop offset="0.67" stop-color="#f5dc00"/><stop offset="1" stop-color="#e60000"/></linearGradient></defs>
<rect x="494.6" y="811.3" width="134.2" height="24.2" fill="url(#cb)" stroke="#777" stroke-width="0.8"/>
<text transform="translate(470.12,835.30) scale(1.0507,1)" font-size="39.5">0</text>
<text transform="translate(628.77,835.50) scale(0.8360,1)" font-size="39.5">1</text>
<text transform="translate(156.83,874.20) scale(0.9986,1)" font-size="31">BTFT &amp;</text>
<text transform="translate(158.42,902.00) scale(1.0085,1)" font-size="31">Reactive</text>
<text transform="translate(331.41,874.00) scale(1.0218,1)" font-size="31">BTFT</text>
<text transform="translate(519.10,872.60) scale(1.0320,1)" font-size="31">Mixed</text>
<text transform="translate(706.40,874.30) scale(1.0272,1)" font-size="31">Reactive</text>
</svg>
</body></html>
